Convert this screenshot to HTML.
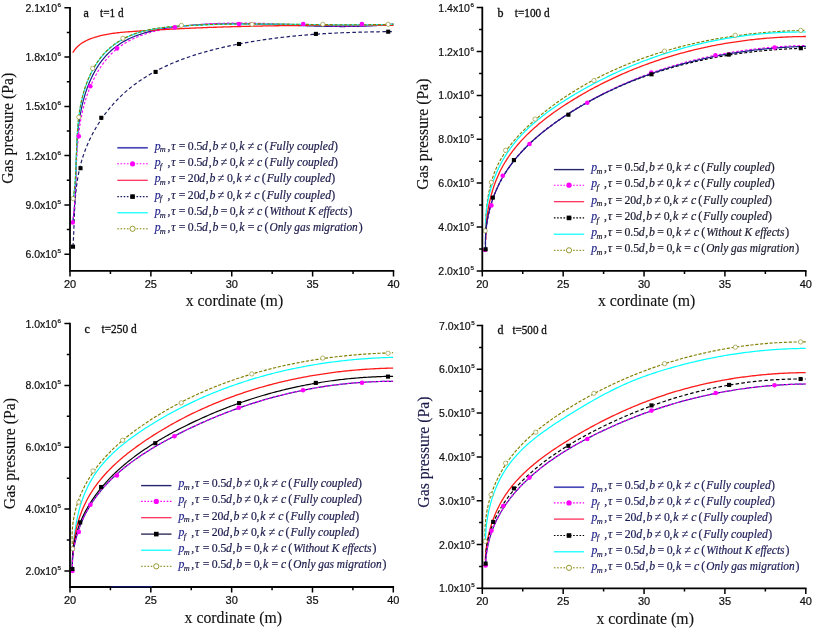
<!DOCTYPE html>
<html><head><meta charset="utf-8"><title>Gas pressure profiles</title>
<style>html,body{margin:0;padding:0;background:#fff;width:813px;height:629px;overflow:hidden}svg{display:block}</style>
</head><body>
<svg width="813" height="629" viewBox="0 0 813 629">
<rect width="813" height="629" fill="#fff"/>
<clipPath id="clipa"><rect x="70.0" y="1.7999999999999998" width="326.5" height="269.09999999999997"/></clipPath>
<g clip-path="url(#clipa)" fill="none" stroke-linejoin="round">
<path d="M73.00,246.69 L73.12,244.87 L73.23,243.04 L73.33,241.20 L73.43,239.35 L73.52,237.50 L73.60,235.65 L73.68,233.79 L73.76,231.92 L73.83,230.05 L73.90,228.17 L73.97,226.29 L74.03,224.41 L74.10,222.52 L74.17,220.64 L74.24,218.74 L74.32,216.85 L74.39,214.95 L74.48,213.06 L74.56,211.16 L74.65,209.26 L74.75,207.36 L74.86,205.45 L74.97,203.55 L75.10,201.65 L75.23,199.75 L75.37,197.85 L75.53,195.96 L75.70,194.06 L75.88,192.17 L76.07,190.28 L76.28,188.39 L76.51,186.50 L76.75,184.62 L77.01,182.74 L77.28,180.86 L77.57,178.99 L77.89,177.13 L78.22,175.27 L78.58,173.41 L78.95,171.56 L79.35,169.72 L79.78,167.88 L80.22,166.05 L80.69,164.23 L81.19,162.41 L81.71,160.61 L82.25,158.80 L82.81,157.01 L83.40,155.23 L84.01,153.45 L84.65,151.68 L85.31,149.92 L85.98,148.17 L86.69,146.43 L87.41,144.70 L88.16,142.98 L88.92,141.27 L89.71,139.57 L90.52,137.88 L91.35,136.20 L92.20,134.54 L93.08,132.88 L93.97,131.24 L94.88,129.60 L95.82,127.98 L96.77,126.37 L97.75,124.78 L98.74,123.20 L99.76,121.63 L100.79,120.07 L101.84,118.53 L102.91,117.00 L104.00,115.48 L105.11,113.98 L106.24,112.50 L107.38,111.03 L108.55,109.57 L109.73,108.13 L110.93,106.70 L112.14,105.29 L113.38,103.90 L114.63,102.52 L115.90,101.16 L117.18,99.82 L118.48,98.49 L119.80,97.18 L121.13,95.89 L122.48,94.62 L123.85,93.36 L125.23,92.12 L126.63,90.90 L128.04,89.70 L129.47,88.52 L130.92,87.35 L132.37,86.21 L133.85,85.08 L135.33,83.97 L136.83,82.88 L138.35,81.81 L139.87,80.75 L141.41,79.72 L142.97,78.70 L144.53,77.69 L146.11,76.71 L147.70,75.74 L149.30,74.78 L150.92,73.85 L152.54,72.92 L154.18,72.02 L155.82,71.13 L157.48,70.26 L159.15,69.40 L160.83,68.55 L162.51,67.73 L164.21,66.91 L165.92,66.11 L167.63,65.33 L169.35,64.56 L171.09,63.80 L172.83,63.06 L174.58,62.33 L176.33,61.62 L178.09,60.92 L179.86,60.23 L181.64,59.55 L183.42,58.89 L185.21,58.24 L187.01,57.61 L188.81,56.98 L190.62,56.37 L192.43,55.77 L194.25,55.18 L196.07,54.60 L197.90,54.03 L199.73,53.48 L201.57,52.93 L203.41,52.40 L205.25,51.87 L207.10,51.36 L208.95,50.86 L210.80,50.36 L212.65,49.88 L214.51,49.41 L216.37,48.94 L218.23,48.49 L220.09,48.04 L221.95,47.61 L223.81,47.18 L225.68,46.76 L227.54,46.35 L229.41,45.95 L231.27,45.55 L233.13,45.16 L235.00,44.78 L236.86,44.41 L238.72,44.05 L240.58,43.69 L242.44,43.34 L244.30,43.00 L246.15,42.66 L248.00,42.33 L249.86,42.00 L251.71,41.69 L253.56,41.38 L255.41,41.07 L257.26,40.77 L259.10,40.48 L260.95,40.20 L262.80,39.92 L264.64,39.64 L266.48,39.38 L268.33,39.12 L270.17,38.86 L272.01,38.61 L273.85,38.37 L275.70,38.13 L277.54,37.90 L279.38,37.67 L281.22,37.45 L283.06,37.23 L284.90,37.02 L286.74,36.82 L288.58,36.62 L290.42,36.42 L292.26,36.23 L294.10,36.05 L295.94,35.87 L297.78,35.69 L299.62,35.52 L301.46,35.36 L303.31,35.20 L305.15,35.04 L306.99,34.89 L308.84,34.74 L310.68,34.60 L312.53,34.46 L314.37,34.33 L316.22,34.20 L318.07,34.07 L319.92,33.95 L321.77,33.83 L323.62,33.72 L325.47,33.61 L327.33,33.50 L329.18,33.40 L331.04,33.30 L332.90,33.20 L334.76,33.11 L336.62,33.02 L338.48,32.94 L340.35,32.85 L342.22,32.77 L344.08,32.70 L345.95,32.63 L347.83,32.56 L349.70,32.49 L351.58,32.42 L353.46,32.36 L355.34,32.30 L357.22,32.25 L359.11,32.20 L360.99,32.15 L362.88,32.10 L364.78,32.05 L366.67,32.01 L368.57,31.97 L370.47,31.93 L372.37,31.89 L374.28,31.85 L376.19,31.82 L378.10,31.79 L380.02,31.76 L381.93,31.73 L383.86,31.71 L385.78,31.68 L387.71,31.66 L389.64,31.64 L391.57,31.62 L393.51,31.60" stroke="#1e1e66" stroke-width="1.2" stroke-dasharray="3.6,2.4"/>
<path d="M72.70,222.49 L72.97,220.59 L73.22,218.68 L73.46,216.77 L73.68,214.86 L73.88,212.94 L74.08,211.01 L74.25,209.08 L74.42,207.15 L74.57,205.22 L74.71,203.28 L74.84,201.34 L74.97,199.40 L75.08,197.45 L75.18,195.50 L75.27,193.55 L75.36,191.60 L75.44,189.64 L75.51,187.69 L75.58,185.73 L75.64,183.76 L75.70,181.80 L75.76,179.83 L75.81,177.87 L75.87,175.90 L75.92,173.93 L75.97,171.96 L76.01,169.99 L76.07,168.01 L76.12,166.04 L76.17,164.07 L76.23,162.09 L76.29,160.12 L76.35,158.14 L76.42,156.17 L76.50,154.19 L76.58,152.22 L76.66,150.25 L76.76,148.27 L76.86,146.30 L76.98,144.33 L77.10,142.36 L77.23,140.39 L77.37,138.42 L77.53,136.45 L77.70,134.48 L77.88,132.52 L78.07,130.55 L78.28,128.59 L78.50,126.63 L78.74,124.68 L79.00,122.72 L79.27,120.77 L79.56,118.82 L79.87,116.87 L80.20,114.93 L80.55,112.99 L80.92,111.05 L81.31,109.11 L81.72,107.18 L82.15,105.25 L82.61,103.32 L83.09,101.40 L83.60,99.48 L84.13,97.57 L84.69,95.66 L85.27,93.76 L85.88,91.87 L86.52,89.98 L87.19,88.11 L87.88,86.25 L88.60,84.40 L89.35,82.56 L90.13,80.74 L90.94,78.94 L91.77,77.15 L92.64,75.39 L93.54,73.64 L94.47,71.92 L95.44,70.22 L96.43,68.54 L97.46,66.89 L98.52,65.27 L99.61,63.68 L100.74,62.11 L101.90,60.58 L103.09,59.07 L104.33,57.60 L105.59,56.17 L106.89,54.77 L108.23,53.41 L109.59,52.08 L110.99,50.78 L112.43,49.53 L113.89,48.31 L115.38,47.13 L116.91,45.99 L118.46,44.89 L120.04,43.83 L121.65,42.81 L123.28,41.83 L124.94,40.89 L126.63,39.99 L128.34,39.12 L130.07,38.30 L131.82,37.51 L133.60,36.76 L135.40,36.04 L137.21,35.35 L139.04,34.70 L140.89,34.07 L142.76,33.48 L144.64,32.92 L146.53,32.38 L148.44,31.87 L150.36,31.38 L152.29,30.92 L154.23,30.48 L156.18,30.07 L158.13,29.67 L160.10,29.30 L162.07,28.94 L164.04,28.61 L166.02,28.29 L168.00,27.98 L169.98,27.69 L171.96,27.41 L173.94,27.15 L175.93,26.90 L177.91,26.65 L179.88,26.42 L181.86,26.20 L183.84,26.00 L185.82,25.80 L187.79,25.61 L189.76,25.43 L191.74,25.26 L193.71,25.11 L195.68,24.96 L197.65,24.82 L199.62,24.69 L201.59,24.57 L203.55,24.45 L205.52,24.35 L207.49,24.26 L209.45,24.17 L211.42,24.09 L213.38,24.02 L215.34,23.95 L217.30,23.90 L219.27,23.85 L221.23,23.80 L223.19,23.77 L225.15,23.74 L227.10,23.72 L229.06,23.70 L231.02,23.69 L232.98,23.68 L234.93,23.69 L236.89,23.69 L238.84,23.70 L240.80,23.72 L242.75,23.74 L244.71,23.77 L246.66,23.80 L248.62,23.83 L250.57,23.87 L252.52,23.91 L254.47,23.96 L256.43,24.00 L258.38,24.06 L260.33,24.11 L262.28,24.17 L264.23,24.23 L266.18,24.29 L268.13,24.36 L270.08,24.43 L272.03,24.50 L273.98,24.57 L275.93,24.64 L277.88,24.71 L279.83,24.79 L281.78,24.86 L283.73,24.94 L285.68,25.01 L287.63,25.09 L289.58,25.17 L291.53,25.24 L293.48,25.32 L295.43,25.40 L297.38,25.47 L299.33,25.54 L301.28,25.62 L303.23,25.69 L305.18,25.76 L307.14,25.83 L309.09,25.89 L311.04,25.96 L312.99,26.02 L314.94,26.08 L316.89,26.13 L318.85,26.19 L320.80,26.24 L322.75,26.28 L324.71,26.33 L326.66,26.37 L328.62,26.40 L330.57,26.44 L332.53,26.46 L334.48,26.49 L336.44,26.50 L338.40,26.52 L340.36,26.53 L342.31,26.53 L344.27,26.53 L346.23,26.52 L348.19,26.50 L350.15,26.48 L352.11,26.46 L354.08,26.42 L356.04,26.38 L358.00,26.34 L359.97,26.28 L361.93,26.22 L363.90,26.15 L365.87,26.08 L367.83,25.99 L369.80,25.90 L371.77,25.80 L373.74,25.69 L375.71,25.58 L377.69,25.45 L379.66,25.31 L381.63,25.17 L383.61,25.02 L385.58,24.85 L387.56,24.68 L389.54,24.49 L391.52,24.30 L393.50,24.10" stroke="#1c1c8a" stroke-width="1.2"/>
<path d="M72.70,222.50 L72.95,220.58 L73.19,218.67 L73.41,216.75 L73.62,214.83 L73.82,212.91 L74.00,210.98 L74.17,209.05 L74.34,207.12 L74.49,205.19 L74.63,203.26 L74.76,201.32 L74.89,199.38 L75.01,197.45 L75.12,195.50 L75.22,193.56 L75.32,191.62 L75.41,189.68 L75.50,187.73 L75.58,185.78 L75.66,183.83 L75.74,181.89 L75.82,179.94 L75.90,177.99 L75.97,176.04 L76.05,174.09 L76.12,172.13 L76.20,170.18 L76.28,168.23 L76.36,166.28 L76.45,164.33 L76.54,162.37 L76.63,160.42 L76.73,158.47 L76.84,156.52 L76.95,154.57 L77.07,152.62 L77.20,150.67 L77.33,148.72 L77.48,146.78 L77.63,144.83 L77.79,142.89 L77.97,140.94 L78.16,139.00 L78.36,137.06 L78.57,135.12 L78.80,133.18 L79.04,131.25 L79.30,129.31 L79.57,127.38 L79.85,125.45 L80.16,123.52 L80.48,121.59 L80.82,119.67 L81.18,117.75 L81.56,115.83 L81.96,113.91 L82.38,112.00 L82.82,110.09 L83.28,108.18 L83.77,106.28 L84.28,104.38 L84.81,102.48 L85.37,100.58 L85.96,98.69 L86.56,96.80 L87.20,94.92 L87.86,93.04 L88.55,91.18 L89.26,89.32 L90.00,87.47 L90.77,85.63 L91.56,83.81 L92.38,82.00 L93.23,80.21 L94.11,78.43 L95.01,76.67 L95.94,74.93 L96.90,73.21 L97.89,71.51 L98.90,69.83 L99.95,68.18 L101.02,66.55 L102.12,64.95 L103.25,63.38 L104.41,61.83 L105.60,60.32 L106.82,58.83 L108.07,57.38 L109.35,55.97 L110.66,54.58 L111.99,53.24 L113.36,51.93 L114.76,50.66 L116.19,49.43 L117.65,48.25 L119.15,47.10 L120.67,46.00 L122.22,44.93 L123.80,43.90 L125.40,42.92 L127.03,41.97 L128.69,41.05 L130.37,40.17 L132.07,39.33 L133.79,38.52 L135.54,37.74 L137.31,36.99 L139.09,36.28 L140.89,35.59 L142.71,34.94 L144.55,34.31 L146.40,33.71 L148.26,33.13 L150.14,32.58 L152.03,32.05 L153.93,31.55 L155.84,31.07 L157.76,30.61 L159.69,30.17 L161.62,29.76 L163.57,29.36 L165.51,28.97 L167.46,28.61 L169.42,28.26 L171.37,27.93 L173.33,27.61 L175.29,27.30 L177.25,27.01 L179.20,26.73 L181.16,26.46 L183.12,26.20 L185.07,25.96 L187.03,25.72 L188.98,25.50 L190.94,25.29 L192.89,25.09 L194.84,24.90 L196.80,24.72 L198.75,24.55 L200.70,24.39 L202.65,24.24 L204.61,24.10 L206.56,23.97 L208.51,23.85 L210.46,23.73 L212.41,23.63 L214.36,23.53 L216.31,23.45 L218.26,23.37 L220.21,23.30 L222.16,23.24 L224.11,23.18 L226.06,23.13 L228.01,23.09 L229.96,23.06 L231.90,23.03 L233.85,23.01 L235.80,23.00 L237.75,22.99 L239.69,22.99 L241.64,23.00 L243.59,23.01 L245.54,23.02 L247.48,23.04 L249.43,23.07 L251.37,23.10 L253.32,23.13 L255.27,23.17 L257.21,23.21 L259.16,23.26 L261.10,23.31 L263.05,23.36 L264.99,23.42 L266.94,23.48 L268.88,23.54 L270.83,23.61 L272.77,23.67 L274.72,23.74 L276.66,23.82 L278.61,23.89 L280.55,23.97 L282.50,24.04 L284.44,24.12 L286.39,24.20 L288.33,24.28 L290.28,24.36 L292.22,24.44 L294.17,24.52 L296.11,24.61 L298.05,24.69 L300.00,24.77 L301.94,24.85 L303.89,24.93 L305.83,25.00 L307.78,25.08 L309.72,25.16 L311.67,25.23 L313.61,25.30 L315.56,25.37 L317.50,25.44 L319.45,25.50 L321.39,25.57 L323.34,25.63 L325.28,25.68 L327.23,25.73 L329.17,25.78 L331.12,25.83 L333.07,25.87 L335.01,25.91 L336.96,25.94 L338.90,25.97 L340.85,25.99 L342.80,26.01 L344.75,26.03 L346.69,26.04 L348.64,26.04 L350.59,26.04 L352.53,26.03 L354.48,26.01 L356.43,25.99 L358.38,25.96 L360.33,25.93 L362.28,25.88 L364.23,25.84 L366.18,25.78 L368.13,25.71 L370.08,25.64 L372.03,25.56 L373.98,25.47 L375.93,25.38 L377.88,25.27 L379.83,25.16 L381.78,25.03 L383.73,24.90 L385.69,24.76 L387.64,24.61 L389.59,24.45 L391.55,24.27 L393.50,24.09" stroke="#ff00ff" stroke-width="1.1" stroke-dasharray="2.6,1.8"/>
<path d="M72.74,52.75 L73.48,51.52 L74.28,50.35 L75.11,49.25 L75.99,48.20 L76.91,47.21 L77.86,46.28 L78.86,45.40 L79.88,44.57 L80.94,43.78 L82.02,43.04 L83.13,42.34 L84.27,41.69 L85.43,41.07 L86.61,40.48 L87.81,39.93 L89.02,39.40 L90.25,38.91 L91.49,38.44 L92.75,37.99 L94.01,37.56 L95.28,37.15 L96.56,36.77 L97.84,36.40 L99.14,36.05 L100.44,35.72 L101.75,35.41 L103.06,35.11 L104.39,34.83 L105.72,34.56 L107.05,34.31 L108.39,34.08 L109.74,33.85 L111.09,33.64 L112.45,33.44 L113.81,33.26 L115.17,33.08 L116.54,32.91 L117.91,32.76 L119.29,32.61 L120.67,32.47 L122.05,32.34 L123.43,32.21 L124.81,32.09 L126.20,31.97 L127.59,31.86 L128.98,31.76 L130.36,31.66 L131.75,31.56 L133.14,31.46 L134.53,31.36 L135.92,31.27 L137.31,31.17 L138.70,31.08 L140.08,30.99 L141.47,30.90 L142.86,30.81 L144.24,30.72 L145.63,30.63 L147.01,30.54 L148.39,30.45 L149.78,30.37 L151.16,30.28 L152.54,30.20 L153.93,30.11 L155.31,30.03 L156.69,29.95 L158.07,29.87 L159.45,29.79 L160.83,29.71 L162.21,29.63 L163.59,29.56 L164.97,29.48 L166.34,29.40 L167.72,29.33 L169.10,29.26 L170.48,29.18 L171.85,29.11 L173.23,29.04 L174.60,28.97 L175.98,28.90 L177.35,28.83 L178.73,28.76 L180.10,28.70 L181.48,28.63 L182.85,28.57 L184.22,28.50 L185.60,28.44 L186.97,28.37 L188.34,28.31 L189.71,28.25 L191.08,28.19 L192.46,28.13 L193.83,28.07 L195.20,28.01 L196.57,27.95 L197.94,27.90 L199.31,27.84 L200.68,27.79 L202.05,27.73 L203.41,27.68 L204.78,27.62 L206.15,27.57 L207.52,27.52 L208.89,27.47 L210.25,27.42 L211.62,27.37 L212.99,27.32 L214.36,27.27 L215.72,27.23 L217.09,27.18 L218.45,27.13 L219.82,27.09 L221.19,27.04 L222.55,27.00 L223.92,26.96 L225.28,26.91 L226.65,26.87 L228.01,26.83 L229.38,26.79 L230.74,26.75 L232.11,26.71 L233.47,26.67 L234.83,26.63 L236.20,26.60 L237.56,26.56 L238.93,26.52 L240.29,26.49 L241.65,26.45 L243.02,26.42 L244.38,26.38 L245.74,26.35 L247.11,26.32 L248.47,26.29 L249.83,26.26 L251.19,26.22 L252.56,26.19 L253.92,26.16 L255.28,26.14 L256.64,26.11 L258.01,26.08 L259.37,26.05 L260.73,26.03 L262.09,26.00 L263.46,25.97 L264.82,25.95 L266.18,25.92 L267.54,25.90 L268.90,25.88 L270.27,25.85 L271.63,25.83 L272.99,25.81 L274.35,25.79 L275.71,25.77 L277.08,25.75 L278.44,25.73 L279.80,25.71 L281.16,25.69 L282.53,25.67 L283.89,25.65 L285.25,25.64 L286.61,25.62 L287.97,25.60 L289.34,25.59 L290.70,25.57 L292.06,25.55 L293.43,25.54 L294.79,25.53 L296.15,25.51 L297.51,25.50 L298.88,25.49 L300.24,25.47 L301.60,25.46 L302.97,25.45 L304.33,25.44 L305.70,25.43 L307.06,25.42 L308.42,25.41 L309.79,25.40 L311.15,25.39 L312.52,25.38 L313.88,25.37 L315.25,25.36 L316.61,25.36 L317.98,25.35 L319.34,25.34 L320.71,25.34 L322.07,25.33 L323.44,25.32 L324.81,25.32 L326.17,25.31 L327.54,25.31 L328.91,25.30 L330.27,25.30 L331.64,25.30 L333.01,25.29 L334.38,25.29 L335.74,25.29 L337.11,25.29 L338.48,25.28 L339.85,25.28 L341.22,25.28 L342.59,25.28 L343.96,25.28 L345.33,25.28 L346.70,25.28 L348.07,25.28 L349.44,25.28 L350.81,25.28 L352.18,25.28 L353.56,25.28 L354.93,25.28 L356.30,25.28 L357.67,25.28 L359.05,25.29 L360.42,25.29 L361.79,25.29 L363.17,25.29 L364.54,25.30 L365.92,25.30 L367.29,25.30 L368.67,25.31 L370.05,25.31 L371.42,25.32 L372.80,25.32 L374.18,25.32 L375.56,25.33 L376.93,25.33 L378.31,25.34 L379.69,25.34 L381.07,25.35 L382.45,25.35 L383.83,25.36 L385.21,25.37 L386.59,25.37 L387.97,25.38 L389.36,25.38 L390.74,25.39 L392.12,25.40 L393.51,25.40" stroke="#ff1a1a" stroke-width="1.3"/>
<path d="M73.09,199.49 L73.38,197.67 L73.65,195.86 L73.90,194.03 L74.13,192.20 L74.35,190.37 L74.55,188.53 L74.74,186.69 L74.91,184.84 L75.07,182.99 L75.22,181.14 L75.35,179.28 L75.48,177.42 L75.59,175.55 L75.70,173.69 L75.80,171.82 L75.89,169.94 L75.97,168.07 L76.05,166.19 L76.12,164.31 L76.19,162.43 L76.26,160.54 L76.32,158.66 L76.39,156.77 L76.45,154.88 L76.51,152.99 L76.57,151.10 L76.64,149.21 L76.71,147.32 L76.78,145.42 L76.85,143.53 L76.94,141.64 L77.02,139.74 L77.12,137.85 L77.22,135.96 L77.33,134.06 L77.45,132.17 L77.58,130.28 L77.72,128.39 L77.88,126.50 L78.04,124.61 L78.22,122.73 L78.42,120.84 L78.63,118.96 L78.85,117.08 L79.10,115.20 L79.36,113.33 L79.64,111.45 L79.94,109.58 L80.25,107.72 L80.60,105.85 L80.96,103.99 L81.34,102.13 L81.75,100.28 L82.19,98.43 L82.65,96.58 L83.13,94.74 L83.64,92.91 L84.18,91.09 L84.74,89.27 L85.33,87.46 L85.94,85.66 L86.58,83.88 L87.25,82.11 L87.95,80.35 L88.68,78.61 L89.43,76.88 L90.21,75.17 L91.03,73.48 L91.87,71.81 L92.74,70.16 L93.64,68.53 L94.57,66.92 L95.53,65.34 L96.52,63.78 L97.54,62.24 L98.59,60.74 L99.68,59.26 L100.79,57.81 L101.94,56.39 L103.12,55.00 L104.33,53.64 L105.58,52.32 L106.86,51.03 L108.17,49.77 L109.52,48.55 L110.90,47.37 L112.31,46.22 L113.76,45.11 L115.23,44.04 L116.73,43.00 L118.27,42.00 L119.82,41.04 L121.41,40.11 L123.01,39.21 L124.64,38.35 L126.30,37.53 L127.97,36.74 L129.66,35.98 L131.37,35.26 L133.10,34.58 L134.85,33.92 L136.61,33.31 L138.39,32.72 L140.17,32.17 L141.97,31.65 L143.79,31.17 L145.61,30.71 L147.44,30.28 L149.28,29.88 L151.14,29.51 L153.00,29.16 L154.86,28.83 L156.74,28.53 L158.62,28.25 L160.51,27.99 L162.40,27.74 L164.30,27.52 L166.20,27.31 L168.10,27.11 L170.01,26.93 L171.92,26.76 L173.83,26.60 L175.74,26.45 L177.65,26.31 L179.56,26.18 L181.47,26.05 L183.38,25.93 L185.29,25.81 L187.19,25.70 L189.09,25.59 L191.00,25.49 L192.90,25.39 L194.79,25.29 L196.69,25.20 L198.59,25.11 L200.48,25.03 L202.37,24.95 L204.27,24.87 L206.16,24.80 L208.04,24.73 L209.93,24.66 L211.82,24.60 L213.70,24.54 L215.59,24.49 L217.47,24.44 L219.35,24.39 L221.23,24.35 L223.11,24.30 L224.99,24.27 L226.87,24.23 L228.74,24.20 L230.62,24.17 L232.49,24.14 L234.37,24.12 L236.24,24.10 L238.11,24.08 L239.98,24.06 L241.85,24.05 L243.72,24.03 L245.59,24.02 L247.46,24.02 L249.33,24.01 L251.19,24.01 L253.06,24.01 L254.92,24.01 L256.79,24.01 L258.65,24.01 L260.52,24.02 L262.38,24.03 L264.24,24.04 L266.11,24.05 L267.97,24.06 L269.83,24.07 L271.69,24.09 L273.56,24.10 L275.42,24.12 L277.28,24.14 L279.14,24.16 L281.00,24.18 L282.86,24.20 L284.72,24.22 L286.58,24.24 L288.44,24.26 L290.30,24.29 L292.16,24.31 L294.02,24.34 L295.88,24.36 L297.75,24.38 L299.61,24.41 L301.47,24.43 L303.33,24.46 L305.19,24.48 L307.05,24.51 L308.91,24.53 L310.78,24.56 L312.64,24.58 L314.50,24.61 L316.37,24.63 L318.23,24.65 L320.09,24.67 L321.96,24.70 L323.83,24.72 L325.69,24.74 L327.56,24.76 L329.43,24.77 L331.29,24.79 L333.16,24.81 L335.03,24.82 L336.90,24.83 L338.77,24.85 L340.65,24.86 L342.52,24.87 L344.39,24.87 L346.27,24.88 L348.14,24.88 L350.02,24.89 L351.89,24.89 L353.77,24.89 L355.65,24.88 L357.53,24.88 L359.41,24.87 L361.30,24.86 L363.18,24.85 L365.07,24.83 L366.95,24.82 L368.84,24.80 L370.73,24.78 L372.62,24.75 L374.51,24.73 L376.40,24.70 L378.30,24.66 L380.19,24.63 L382.09,24.59 L383.99,24.55 L385.89,24.50 L387.79,24.46 L389.69,24.41 L391.60,24.35 L393.50,24.29" stroke="#00ffff" stroke-width="1.2"/>
<path d="M73.09,198.59 L73.38,196.78 L73.65,194.96 L73.91,193.14 L74.14,191.32 L74.36,189.49 L74.57,187.66 L74.75,185.82 L74.93,183.97 L75.09,182.13 L75.23,180.28 L75.37,178.42 L75.49,176.56 L75.61,174.70 L75.71,172.84 L75.81,170.97 L75.90,169.10 L75.98,167.23 L76.06,165.35 L76.13,163.47 L76.20,161.59 L76.26,159.71 L76.32,157.82 L76.39,155.94 L76.45,154.05 L76.51,152.16 L76.57,150.27 L76.63,148.38 L76.70,146.49 L76.77,144.60 L76.84,142.71 L76.92,140.81 L77.01,138.92 L77.10,137.03 L77.20,135.14 L77.31,133.24 L77.43,131.35 L77.56,129.46 L77.70,127.57 L77.85,125.69 L78.02,123.80 L78.20,121.92 L78.39,120.03 L78.60,118.15 L78.83,116.27 L79.07,114.40 L79.33,112.52 L79.61,110.65 L79.92,108.78 L80.24,106.92 L80.58,105.05 L80.95,103.19 L81.34,101.34 L81.75,99.49 L82.19,97.64 L82.65,95.79 L83.14,93.96 L83.65,92.13 L84.19,90.30 L84.76,88.49 L85.36,86.69 L85.98,84.90 L86.62,83.12 L87.30,81.35 L88.00,79.60 L88.74,77.87 L89.50,76.15 L90.28,74.45 L91.10,72.76 L91.95,71.10 L92.83,69.46 L93.73,67.84 L94.67,66.24 L95.64,64.66 L96.63,63.12 L97.66,61.59 L98.72,60.10 L99.82,58.63 L100.94,57.19 L102.09,55.78 L103.28,54.40 L104.50,53.06 L105.76,51.75 L107.04,50.47 L108.37,49.23 L109.72,48.02 L111.11,46.85 L112.53,45.72 L113.98,44.62 L115.46,43.56 L116.97,42.54 L118.50,41.55 L120.06,40.60 L121.65,39.68 L123.26,38.80 L124.90,37.95 L126.55,37.14 L128.23,36.36 L129.93,35.62 L131.64,34.91 L133.37,34.23 L135.12,33.59 L136.89,32.99 L138.66,32.41 L140.45,31.87 L142.25,31.36 L144.07,30.89 L145.89,30.44 L147.72,30.02 L149.57,29.63 L151.42,29.26 L153.28,28.92 L155.15,28.61 L157.02,28.31 L158.90,28.04 L160.79,27.78 L162.68,27.54 L164.58,27.32 L166.48,27.12 L168.38,26.93 L170.29,26.75 L172.20,26.59 L174.11,26.43 L176.02,26.29 L177.93,26.15 L179.84,26.02 L181.74,25.90 L183.65,25.78 L185.55,25.67 L187.46,25.55 L189.36,25.45 L191.26,25.35 L193.16,25.25 L195.05,25.16 L196.95,25.07 L198.84,24.98 L200.73,24.90 L202.62,24.82 L204.51,24.75 L206.40,24.68 L208.29,24.61 L210.17,24.55 L212.06,24.49 L213.94,24.43 L215.82,24.38 L217.70,24.33 L219.58,24.28 L221.46,24.24 L223.34,24.20 L225.21,24.16 L227.09,24.13 L228.96,24.10 L230.83,24.07 L232.71,24.04 L234.58,24.02 L236.45,24.00 L238.32,23.98 L240.18,23.96 L242.05,23.95 L243.92,23.94 L245.78,23.93 L247.65,23.92 L249.52,23.92 L251.38,23.92 L253.24,23.91 L255.11,23.92 L256.97,23.92 L258.83,23.92 L260.69,23.93 L262.55,23.94 L264.41,23.95 L266.27,23.96 L268.13,23.97 L269.99,23.98 L271.85,24.00 L273.71,24.01 L275.57,24.03 L277.43,24.05 L279.29,24.07 L281.14,24.09 L283.00,24.11 L284.86,24.13 L286.72,24.15 L288.58,24.17 L290.43,24.20 L292.29,24.22 L294.15,24.24 L296.01,24.27 L297.87,24.29 L299.72,24.32 L301.58,24.34 L303.44,24.37 L305.30,24.39 L307.16,24.42 L309.02,24.44 L310.88,24.46 L312.74,24.49 L314.60,24.51 L316.46,24.53 L318.32,24.56 L320.18,24.58 L322.05,24.60 L323.91,24.62 L325.77,24.64 L327.64,24.66 L329.50,24.67 L331.37,24.69 L333.23,24.71 L335.10,24.72 L336.97,24.73 L338.84,24.75 L340.71,24.76 L342.58,24.77 L344.45,24.77 L346.32,24.78 L348.19,24.78 L350.07,24.78 L351.94,24.78 L353.82,24.78 L355.69,24.78 L357.57,24.77 L359.45,24.77 L361.33,24.76 L363.21,24.75 L365.10,24.73 L366.98,24.71 L368.86,24.70 L370.75,24.67 L372.64,24.65 L374.53,24.62 L376.42,24.59 L378.31,24.56 L380.21,24.53 L382.10,24.49 L384.00,24.45 L385.89,24.40 L387.79,24.35 L389.70,24.30 L391.60,24.25 L393.50,24.19" stroke="#808000" stroke-width="1.15" stroke-dasharray="3.2,1.6"/>
</g>
<circle cx="73.1" cy="198.6" r="2.15" fill="#fff" stroke="#989838" stroke-width="0.7"/>
<circle cx="78.8" cy="117.2" r="2.15" fill="#fff" stroke="#989838" stroke-width="0.7"/>
<circle cx="92.7" cy="68.4" r="2.15" fill="#fff" stroke="#989838" stroke-width="0.7"/>
<circle cx="122.9" cy="38.3" r="2.15" fill="#fff" stroke="#989838" stroke-width="0.7"/>
<circle cx="181.4" cy="25.4" r="2.15" fill="#fff" stroke="#989838" stroke-width="0.7"/>
<circle cx="252" cy="24.3" r="2.15" fill="#fff" stroke="#989838" stroke-width="0.7"/>
<circle cx="322.8" cy="24.3" r="2.15" fill="#fff" stroke="#989838" stroke-width="0.7"/>
<circle cx="388.2" cy="24.3" r="2.15" fill="#fff" stroke="#989838" stroke-width="0.7"/>
<circle cx="72.7" cy="222.5" r="2.3" fill="#ff00ff"/>
<circle cx="78.8" cy="136.3" r="2.3" fill="#ff00ff"/>
<circle cx="90.3" cy="86.3" r="2.3" fill="#ff00ff"/>
<circle cx="117" cy="48.4" r="2.3" fill="#ff00ff"/>
<circle cx="174.8" cy="27.4" r="2.3" fill="#ff00ff"/>
<circle cx="239" cy="24.0" r="2.3" fill="#ff00ff"/>
<circle cx="303.2" cy="24.0" r="2.3" fill="#ff00ff"/>
<circle cx="361.9" cy="24.0" r="2.3" fill="#ff00ff"/>
<rect x="70.95" y="244.65" width="4.1" height="4.1" fill="#000"/>
<rect x="78.45" y="166.15" width="4.1" height="4.1" fill="#000"/>
<rect x="99.25" y="115.75" width="4.1" height="4.1" fill="#000"/>
<rect x="153.55" y="69.85" width="4.1" height="4.1" fill="#000"/>
<rect x="236.95" y="41.95" width="4.1" height="4.1" fill="#000"/>
<rect x="313.85" y="31.85" width="4.1" height="4.1" fill="#000"/>
<rect x="386.15" y="29.65" width="4.1" height="4.1" fill="#000"/>
<path d="M70.0,7.05 V270.9 H394.25" fill="none" stroke="#000" stroke-width="1.8"/>
<path d="M64.4,7.8 H70.0 M66.8,32.45 H70.0 M64.4,57.1 H70.0 M66.8,81.75 H70.0 M64.4,106.4 H70.0 M66.8,131.00 H70.0 M64.4,155.6 H70.0 M66.8,180.25 H70.0 M64.4,204.9 H70.0 M66.8,229.55 H70.0 M64.4,254.2 H70.0 M70.00,270.9 V276.5 M110.44,270.9 V274.09999999999997 M150.88,270.9 V276.5 M191.31,270.9 V274.09999999999997 M231.75,270.9 V276.5 M272.19,270.9 V274.09999999999997 M312.62,270.9 V276.5 M353.06,270.9 V274.09999999999997 M393.50,270.9 V276.5" stroke="#000" stroke-width="1.5" fill="none"/>
<text fill="#111" stroke="#111" stroke-width="0.22" x="57.00" y="11.80" text-anchor="end" font-family="'Liberation Sans', Arial, sans-serif" font-size="11" textLength="31.6" lengthAdjust="spacingAndGlyphs">2.1x10</text>
<text fill="#111" stroke="#111" stroke-width="0.22" x="57.60" y="6.80" font-family="'Liberation Sans', Arial, sans-serif" font-size="6.2">6</text>
<text fill="#111" stroke="#111" stroke-width="0.22" x="57.00" y="61.10" text-anchor="end" font-family="'Liberation Sans', Arial, sans-serif" font-size="11" textLength="31.6" lengthAdjust="spacingAndGlyphs">1.8x10</text>
<text fill="#111" stroke="#111" stroke-width="0.22" x="57.60" y="56.10" font-family="'Liberation Sans', Arial, sans-serif" font-size="6.2">6</text>
<text fill="#111" stroke="#111" stroke-width="0.22" x="57.00" y="110.40" text-anchor="end" font-family="'Liberation Sans', Arial, sans-serif" font-size="11" textLength="31.6" lengthAdjust="spacingAndGlyphs">1.5x10</text>
<text fill="#111" stroke="#111" stroke-width="0.22" x="57.60" y="105.40" font-family="'Liberation Sans', Arial, sans-serif" font-size="6.2">6</text>
<text fill="#111" stroke="#111" stroke-width="0.22" x="57.00" y="159.60" text-anchor="end" font-family="'Liberation Sans', Arial, sans-serif" font-size="11" textLength="31.6" lengthAdjust="spacingAndGlyphs">1.2x10</text>
<text fill="#111" stroke="#111" stroke-width="0.22" x="57.60" y="154.60" font-family="'Liberation Sans', Arial, sans-serif" font-size="6.2">6</text>
<text fill="#111" stroke="#111" stroke-width="0.22" x="57.00" y="208.90" text-anchor="end" font-family="'Liberation Sans', Arial, sans-serif" font-size="11" textLength="31.6" lengthAdjust="spacingAndGlyphs">9.0x10</text>
<text fill="#111" stroke="#111" stroke-width="0.22" x="57.60" y="203.90" font-family="'Liberation Sans', Arial, sans-serif" font-size="6.2">5</text>
<text fill="#111" stroke="#111" stroke-width="0.22" x="57.00" y="258.20" text-anchor="end" font-family="'Liberation Sans', Arial, sans-serif" font-size="11" textLength="31.6" lengthAdjust="spacingAndGlyphs">6.0x10</text>
<text fill="#111" stroke="#111" stroke-width="0.22" x="57.60" y="253.20" font-family="'Liberation Sans', Arial, sans-serif" font-size="6.2">5</text>
<text fill="#111" stroke="#111" stroke-width="0.22" x="70.00" y="287.80" text-anchor="middle" font-family="'Liberation Sans', Arial, sans-serif" font-size="11">20</text>
<text fill="#111" stroke="#111" stroke-width="0.22" x="150.88" y="287.80" text-anchor="middle" font-family="'Liberation Sans', Arial, sans-serif" font-size="11">25</text>
<text fill="#111" stroke="#111" stroke-width="0.22" x="231.75" y="287.80" text-anchor="middle" font-family="'Liberation Sans', Arial, sans-serif" font-size="11">30</text>
<text fill="#111" stroke="#111" stroke-width="0.22" x="312.62" y="287.80" text-anchor="middle" font-family="'Liberation Sans', Arial, sans-serif" font-size="11">35</text>
<text fill="#111" stroke="#111" stroke-width="0.22" x="393.50" y="287.80" text-anchor="middle" font-family="'Liberation Sans', Arial, sans-serif" font-size="11">40</text>
<text fill="#111" stroke="#111" stroke-width="0.12" transform="translate(12.9,128.3) rotate(-90)" text-anchor="middle" font-family="'Liberation Serif', 'Times New Roman', serif" font-size="15.75">Gas pressure (Pa)</text>
<text fill="#111" stroke="#111" stroke-width="0.12" x="234.45" y="306.2" text-anchor="middle" font-family="'Liberation Serif', 'Times New Roman', serif" font-size="16" textLength="97.4" lengthAdjust="spacingAndGlyphs">x cordinate (m)</text>
<text fill="#111" stroke="#111" stroke-width="0.32" x="83.4" y="17.0" font-family="'Liberation Serif', 'Times New Roman', serif" font-size="12">a</text>
<text fill="#111" stroke="#111" stroke-width="0.32" x="100.1" y="17.0" font-family="'Liberation Serif', 'Times New Roman', serif" font-size="12" textLength="23.5" lengthAdjust="spacingAndGlyphs">t=1 d</text>
<line x1="117.3" y1="147.8" x2="147.8" y2="147.8" stroke="#4a48b6" stroke-width="1.7"/>
<text y="149.50" font-family="'Liberation Serif', 'Times New Roman', serif" font-size="11.8" fill="#1c1c4c" stroke="#1c1c4c" stroke-width="0.2"><tspan x="154.66" font-style="italic" fill="#2a2a90" stroke="#2a2a90">p</tspan><tspan x="167.40">,</tspan><tspan x="171.15" font-style="italic">τ</tspan><tspan x="178.74">=</tspan><tspan x="187.77">0.5</tspan><tspan x="202.06" font-style="italic">d</tspan><tspan x="208.67">,</tspan><tspan x="212.40" font-style="italic">b</tspan><tspan x="220.63">≠</tspan><tspan x="229.87">0</tspan><tspan x="235.37">,</tspan><tspan x="239.18" font-style="italic">k</tspan><tspan x="247.63">≠</tspan><tspan x="257.05" font-style="italic">c</tspan><tspan x="264.46">(</tspan></text><text x="159.80" y="152.20" font-family="'Liberation Serif', 'Times New Roman', serif" font-size="8.2" font-style="italic" fill="#1c1c4c" stroke="#1c1c4c" stroke-width="0.2">m</text><text x="269.46" y="149.50" font-family="'Liberation Serif', 'Times New Roman', serif" font-size="11.8" font-style="italic" fill="#1c1c4c" stroke="#1c1c4c" stroke-width="0.2" textLength="64.40" lengthAdjust="spacingAndGlyphs">Fully coupled</text><text x="334.06" y="149.50" font-family="'Liberation Serif', 'Times New Roman', serif" font-size="11.8" fill="#1c1c4c" stroke="#1c1c4c" stroke-width="0.2">)</text>
<line x1="117.3" y1="163.8" x2="147.8" y2="163.8" stroke="#ff00ff" stroke-width="1.1" stroke-dasharray="1.6,1.6"/>
<circle cx="132.55" cy="163.8" r="2.6" fill="#ff00ff"/>
<text y="165.80" font-family="'Liberation Serif', 'Times New Roman', serif" font-size="11.8" fill="#1c1c4c" stroke="#1c1c4c" stroke-width="0.2"><tspan x="154.66" font-style="italic" fill="#2a2a90" stroke="#2a2a90">p</tspan><tspan x="167.40">,</tspan><tspan x="171.15" font-style="italic">τ</tspan><tspan x="178.74">=</tspan><tspan x="187.77">0.5</tspan><tspan x="202.06" font-style="italic">d</tspan><tspan x="208.67">,</tspan><tspan x="212.40" font-style="italic">b</tspan><tspan x="220.63">≠</tspan><tspan x="229.87">0</tspan><tspan x="235.37">,</tspan><tspan x="239.18" font-style="italic">k</tspan><tspan x="247.63">≠</tspan><tspan x="257.05" font-style="italic">c</tspan><tspan x="264.46">(</tspan></text><text x="159.80" y="168.50" font-family="'Liberation Serif', 'Times New Roman', serif" font-size="8.2" font-style="italic" fill="#1c1c4c" stroke="#1c1c4c" stroke-width="0.2">f</text><text x="269.46" y="165.80" font-family="'Liberation Serif', 'Times New Roman', serif" font-size="11.8" font-style="italic" fill="#1c1c4c" stroke="#1c1c4c" stroke-width="0.2" textLength="64.40" lengthAdjust="spacingAndGlyphs">Fully coupled</text><text x="334.06" y="165.80" font-family="'Liberation Serif', 'Times New Roman', serif" font-size="11.8" fill="#1c1c4c" stroke="#1c1c4c" stroke-width="0.2">)</text>
<line x1="117.3" y1="180.3" x2="147.8" y2="180.3" stroke="#ff2050" stroke-width="1.2"/>
<text y="182.30" font-family="'Liberation Serif', 'Times New Roman', serif" font-size="11.8" fill="#1c1c4c" stroke="#1c1c4c" stroke-width="0.2"><tspan x="154.66" font-style="italic" fill="#2a2a90" stroke="#2a2a90">p</tspan><tspan x="167.40">,</tspan><tspan x="171.15" font-style="italic">τ</tspan><tspan x="178.74">=</tspan><tspan x="187.77">20</tspan><tspan x="199.26" font-style="italic">d</tspan><tspan x="205.87">,</tspan><tspan x="209.60" font-style="italic">b</tspan><tspan x="217.83">≠</tspan><tspan x="227.07">0</tspan><tspan x="232.57">,</tspan><tspan x="236.38" font-style="italic">k</tspan><tspan x="244.83">≠</tspan><tspan x="254.25" font-style="italic">c</tspan><tspan x="261.66">(</tspan></text><text x="159.80" y="185.00" font-family="'Liberation Serif', 'Times New Roman', serif" font-size="8.2" font-style="italic" fill="#1c1c4c" stroke="#1c1c4c" stroke-width="0.2">m</text><text x="266.66" y="182.30" font-family="'Liberation Serif', 'Times New Roman', serif" font-size="11.8" font-style="italic" fill="#1c1c4c" stroke="#1c1c4c" stroke-width="0.2" textLength="64.40" lengthAdjust="spacingAndGlyphs">Fully coupled</text><text x="331.26" y="182.30" font-family="'Liberation Serif', 'Times New Roman', serif" font-size="11.8" fill="#1c1c4c" stroke="#1c1c4c" stroke-width="0.2">)</text>
<line x1="117.3" y1="196.6" x2="147.8" y2="196.6" stroke="#1e1e66" stroke-width="1.1" stroke-dasharray="1.6,1.6"/>
<rect x="130.25" y="194.29999999999998" width="4.6" height="4.6" fill="#000"/>
<text y="198.60" font-family="'Liberation Serif', 'Times New Roman', serif" font-size="11.8" fill="#1c1c4c" stroke="#1c1c4c" stroke-width="0.2"><tspan x="154.66" font-style="italic" fill="#2a2a90" stroke="#2a2a90">p</tspan><tspan x="167.40">,</tspan><tspan x="171.15" font-style="italic">τ</tspan><tspan x="178.74">=</tspan><tspan x="187.77">20</tspan><tspan x="199.26" font-style="italic">d</tspan><tspan x="205.87">,</tspan><tspan x="209.60" font-style="italic">b</tspan><tspan x="217.83">≠</tspan><tspan x="227.07">0</tspan><tspan x="232.57">,</tspan><tspan x="236.38" font-style="italic">k</tspan><tspan x="244.83">≠</tspan><tspan x="254.25" font-style="italic">c</tspan><tspan x="261.66">(</tspan></text><text x="159.80" y="201.30" font-family="'Liberation Serif', 'Times New Roman', serif" font-size="8.2" font-style="italic" fill="#1c1c4c" stroke="#1c1c4c" stroke-width="0.2">f</text><text x="266.66" y="198.60" font-family="'Liberation Serif', 'Times New Roman', serif" font-size="11.8" font-style="italic" fill="#1c1c4c" stroke="#1c1c4c" stroke-width="0.2" textLength="64.40" lengthAdjust="spacingAndGlyphs">Fully coupled</text><text x="331.26" y="198.60" font-family="'Liberation Serif', 'Times New Roman', serif" font-size="11.8" fill="#1c1c4c" stroke="#1c1c4c" stroke-width="0.2">)</text>
<line x1="117.3" y1="212.8" x2="147.8" y2="212.8" stroke="#00ffff" stroke-width="1.2"/>
<text y="214.80" font-family="'Liberation Serif', 'Times New Roman', serif" font-size="11.8" fill="#1c1c4c" stroke="#1c1c4c" stroke-width="0.2"><tspan x="154.66" font-style="italic" fill="#2a2a90" stroke="#2a2a90">p</tspan><tspan x="167.40">,</tspan><tspan x="171.15" font-style="italic">τ</tspan><tspan x="178.74">=</tspan><tspan x="187.77">0.5</tspan><tspan x="202.06" font-style="italic">d</tspan><tspan x="208.67">,</tspan><tspan x="212.40" font-style="italic">b</tspan><tspan x="220.63">=</tspan><tspan x="229.87">0</tspan><tspan x="235.37">,</tspan><tspan x="239.18" font-style="italic">k</tspan><tspan x="247.63">≠</tspan><tspan x="257.05" font-style="italic">c</tspan><tspan x="264.46">(</tspan></text><text x="159.80" y="217.50" font-family="'Liberation Serif', 'Times New Roman', serif" font-size="8.2" font-style="italic" fill="#1c1c4c" stroke="#1c1c4c" stroke-width="0.2">m</text><text x="269.46" y="214.80" font-family="'Liberation Serif', 'Times New Roman', serif" font-size="11.8" font-style="italic" fill="#1c1c4c" stroke="#1c1c4c" stroke-width="0.2" textLength="78.20" lengthAdjust="spacingAndGlyphs">Without K effects</text><text x="348.56" y="214.80" font-family="'Liberation Serif', 'Times New Roman', serif" font-size="11.8" fill="#1c1c4c" stroke="#1c1c4c" stroke-width="0.2">)</text>
<line x1="117.3" y1="228.8" x2="147.8" y2="228.8" stroke="#808000" stroke-width="1.0" stroke-dasharray="1.6,1.6"/>
<circle cx="132.55" cy="228.8" r="2.6" fill="#fff" stroke="#808000" stroke-width="0.8"/>
<text y="230.80" font-family="'Liberation Serif', 'Times New Roman', serif" font-size="11.8" fill="#1c1c4c" stroke="#1c1c4c" stroke-width="0.2"><tspan x="154.66" font-style="italic" fill="#2a2a90" stroke="#2a2a90">p</tspan><tspan x="167.40">,</tspan><tspan x="171.15" font-style="italic">τ</tspan><tspan x="178.74">=</tspan><tspan x="187.77">0.5</tspan><tspan x="202.06" font-style="italic">d</tspan><tspan x="208.67">,</tspan><tspan x="212.40" font-style="italic">b</tspan><tspan x="220.63">=</tspan><tspan x="229.87">0</tspan><tspan x="235.37">,</tspan><tspan x="239.18" font-style="italic">k</tspan><tspan x="247.63">=</tspan><tspan x="257.05" font-style="italic">c</tspan><tspan x="264.46">(</tspan></text><text x="159.80" y="233.50" font-family="'Liberation Serif', 'Times New Roman', serif" font-size="8.2" font-style="italic" fill="#1c1c4c" stroke="#1c1c4c" stroke-width="0.2">m</text><text x="269.46" y="230.80" font-family="'Liberation Serif', 'Times New Roman', serif" font-size="11.8" font-style="italic" fill="#1c1c4c" stroke="#1c1c4c" stroke-width="0.2" textLength="88.30" lengthAdjust="spacingAndGlyphs">Only gas migration</text><text x="358.66" y="230.80" font-family="'Liberation Serif', 'Times New Roman', serif" font-size="11.8" fill="#1c1c4c" stroke="#1c1c4c" stroke-width="0.2">)</text>
<clipPath id="clipb"><rect x="482.3" y="1.5999999999999996" width="326.49999999999994" height="269.29999999999995"/></clipPath>
<g clip-path="url(#clipb)" fill="none" stroke-linejoin="round">
<path d="M485.25,230.82 L485.29,229.09 L485.35,227.35 L485.41,225.60 L485.47,223.85 L485.55,222.09 L485.64,220.34 L485.74,218.57 L485.85,216.81 L485.98,215.04 L486.11,213.28 L486.26,211.51 L486.42,209.74 L486.60,207.97 L486.79,206.21 L487.00,204.44 L487.22,202.68 L487.46,200.92 L487.72,199.17 L487.99,197.41 L488.29,195.67 L488.60,193.93 L488.93,192.19 L489.28,190.46 L489.66,188.74 L490.05,187.03 L490.47,185.32 L490.91,183.62 L491.37,181.94 L491.86,180.26 L492.37,178.60 L492.91,176.94 L493.47,175.30 L494.06,173.67 L494.67,172.05 L495.31,170.45 L495.98,168.86 L496.68,167.29 L497.41,165.73 L498.16,164.19 L498.94,162.66 L499.75,161.15 L500.58,159.65 L501.44,158.16 L502.32,156.69 L503.23,155.23 L504.16,153.79 L505.11,152.36 L506.08,150.94 L507.08,149.53 L508.09,148.14 L509.13,146.76 L510.19,145.40 L511.26,144.04 L512.35,142.70 L513.46,141.37 L514.59,140.05 L515.73,138.74 L516.89,137.45 L518.07,136.16 L519.26,134.89 L520.46,133.62 L521.68,132.37 L522.91,131.13 L524.15,129.90 L525.40,128.68 L526.67,127.47 L527.94,126.26 L529.23,125.07 L530.52,123.89 L531.83,122.72 L533.14,121.55 L534.45,120.40 L535.78,119.25 L537.11,118.11 L538.45,116.98 L539.79,115.86 L541.14,114.75 L542.49,113.64 L543.85,112.54 L545.22,111.46 L546.59,110.38 L547.97,109.31 L549.36,108.24 L550.75,107.19 L552.14,106.14 L553.54,105.10 L554.95,104.08 L556.36,103.05 L557.78,102.04 L559.20,101.04 L560.63,100.04 L562.07,99.05 L563.51,98.07 L564.95,97.10 L566.40,96.13 L567.86,95.18 L569.32,94.23 L570.79,93.29 L572.26,92.35 L573.73,91.43 L575.21,90.51 L576.70,89.61 L578.19,88.70 L579.68,87.81 L581.18,86.93 L582.69,86.05 L584.20,85.18 L585.71,84.32 L587.23,83.46 L588.75,82.62 L590.28,81.78 L591.81,80.95 L593.35,80.13 L594.89,79.31 L596.43,78.50 L597.98,77.70 L599.54,76.91 L601.09,76.13 L602.66,75.35 L604.22,74.58 L605.79,73.82 L607.36,73.06 L608.94,72.31 L610.52,71.57 L612.11,70.84 L613.70,70.12 L615.29,69.40 L616.89,68.69 L618.49,67.99 L620.09,67.29 L621.70,66.60 L623.31,65.92 L624.92,65.25 L626.54,64.58 L628.16,63.92 L629.78,63.27 L631.41,62.62 L633.04,61.98 L634.68,61.35 L636.31,60.73 L637.95,60.11 L639.60,59.50 L641.24,58.90 L642.89,58.30 L644.54,57.71 L646.20,57.13 L647.85,56.56 L649.51,55.99 L651.18,55.43 L652.84,54.87 L654.51,54.33 L656.18,53.79 L657.85,53.25 L659.53,52.72 L661.20,52.20 L662.88,51.69 L664.57,51.18 L666.25,50.68 L667.94,50.19 L669.63,49.70 L671.32,49.22 L673.01,48.75 L674.71,48.28 L676.40,47.82 L678.10,47.37 L679.80,46.92 L681.51,46.48 L683.21,46.05 L684.92,45.62 L686.63,45.20 L688.34,44.78 L690.05,44.37 L691.76,43.97 L693.48,43.57 L695.19,43.18 L696.91,42.80 L698.63,42.42 L700.35,42.05 L702.07,41.69 L703.79,41.33 L705.51,40.98 L707.24,40.63 L708.96,40.29 L710.69,39.96 L712.42,39.63 L714.15,39.31 L715.88,38.99 L717.61,38.68 L719.34,38.38 L721.07,38.08 L722.80,37.79 L724.54,37.50 L726.27,37.22 L728.01,36.95 L729.74,36.68 L731.48,36.42 L733.21,36.16 L734.95,35.91 L736.69,35.67 L738.42,35.43 L740.16,35.20 L741.90,34.97 L743.64,34.75 L745.37,34.53 L747.11,34.32 L748.85,34.12 L750.59,33.92 L752.32,33.73 L754.06,33.54 L755.80,33.36 L757.54,33.18 L759.27,33.01 L761.01,32.84 L762.75,32.68 L764.48,32.53 L766.22,32.38 L767.95,32.23 L769.69,32.09 L771.42,31.96 L773.15,31.83 L774.88,31.71 L776.61,31.59 L778.35,31.48 L780.08,31.37 L781.80,31.27 L783.53,31.18 L785.26,31.09 L786.98,31.00 L788.71,30.92 L790.43,30.84 L792.15,30.77 L793.88,30.71 L795.60,30.65 L797.31,30.59 L799.03,30.54 L800.75,30.50 L802.46,30.46 L804.17,30.42 L805.89,30.39" stroke="#808000" stroke-width="1.15" stroke-dasharray="3.2,1.6"/>
<path d="M485.76,232.03 L485.69,230.23 L485.64,228.44 L485.62,226.64 L485.62,224.85 L485.64,223.06 L485.69,221.28 L485.77,219.49 L485.86,217.72 L485.98,215.94 L486.12,214.17 L486.29,212.41 L486.47,210.65 L486.68,208.89 L486.92,207.14 L487.17,205.40 L487.45,203.66 L487.75,201.92 L488.07,200.20 L488.42,198.48 L488.78,196.76 L489.17,195.05 L489.58,193.35 L490.01,191.66 L490.47,189.98 L490.94,188.30 L491.44,186.63 L491.95,184.97 L492.49,183.32 L493.05,181.67 L493.63,180.04 L494.23,178.41 L494.86,176.80 L495.50,175.19 L496.16,173.60 L496.85,172.01 L497.55,170.44 L498.27,168.88 L499.02,167.32 L499.78,165.78 L500.57,164.25 L501.37,162.73 L502.19,161.23 L503.04,159.73 L503.90,158.25 L504.78,156.78 L505.68,155.33 L506.60,153.89 L507.54,152.46 L508.50,151.04 L509.48,149.64 L510.47,148.25 L511.49,146.88 L512.52,145.52 L513.57,144.18 L514.64,142.84 L515.72,141.52 L516.82,140.22 L517.94,138.92 L519.07,137.64 L520.22,136.37 L521.38,135.12 L522.56,133.88 L523.75,132.64 L524.96,131.42 L526.18,130.22 L527.42,129.02 L528.66,127.83 L529.93,126.66 L531.20,125.50 L532.49,124.35 L533.79,123.20 L535.10,122.07 L536.42,120.95 L537.75,119.84 L539.10,118.75 L540.45,117.66 L541.82,116.58 L543.19,115.51 L544.57,114.44 L545.97,113.39 L547.37,112.35 L548.78,111.32 L550.20,110.29 L551.62,109.28 L553.06,108.27 L554.50,107.27 L555.95,106.28 L557.40,105.30 L558.86,104.32 L560.33,103.36 L561.80,102.40 L563.28,101.45 L564.76,100.50 L566.25,99.56 L567.74,98.63 L569.23,97.71 L570.73,96.79 L572.23,95.88 L573.74,94.97 L575.25,94.07 L576.76,93.18 L578.27,92.30 L579.79,91.42 L581.31,90.54 L582.83,89.68 L584.36,88.81 L585.89,87.96 L587.42,87.11 L588.95,86.27 L590.49,85.43 L592.03,84.60 L593.58,83.78 L595.12,82.97 L596.67,82.16 L598.22,81.35 L599.78,80.55 L601.33,79.76 L602.89,78.98 L604.45,78.20 L606.02,77.43 L607.59,76.66 L609.16,75.90 L610.73,75.15 L612.31,74.40 L613.88,73.66 L615.46,72.93 L617.05,72.20 L618.63,71.48 L620.22,70.77 L621.81,70.06 L623.40,69.36 L625.00,68.66 L626.60,67.97 L628.20,67.29 L629.80,66.61 L631.41,65.94 L633.01,65.28 L634.62,64.62 L636.23,63.97 L637.85,63.33 L639.47,62.69 L641.08,62.06 L642.71,61.43 L644.33,60.81 L645.95,60.20 L647.58,59.60 L649.21,59.00 L650.84,58.41 L652.48,57.82 L654.11,57.24 L655.75,56.67 L657.39,56.10 L659.03,55.54 L660.68,54.99 L662.33,54.44 L663.97,53.90 L665.62,53.36 L667.28,52.84 L668.93,52.32 L670.59,51.80 L672.25,51.29 L673.91,50.79 L675.57,50.30 L677.23,49.81 L678.90,49.33 L680.56,48.85 L682.23,48.38 L683.90,47.92 L685.58,47.46 L687.25,47.01 L688.93,46.57 L690.60,46.13 L692.28,45.70 L693.97,45.28 L695.65,44.86 L697.33,44.45 L699.02,44.05 L700.71,43.65 L702.40,43.26 L704.09,42.88 L705.78,42.50 L707.47,42.13 L709.17,41.77 L710.86,41.41 L712.56,41.06 L714.26,40.71 L715.96,40.38 L717.66,40.04 L719.37,39.72 L721.07,39.40 L722.78,39.09 L724.49,38.79 L726.20,38.49 L727.91,38.20 L729.62,37.91 L731.33,37.63 L733.05,37.36 L734.76,37.10 L736.48,36.84 L738.20,36.59 L739.91,36.34 L741.63,36.10 L743.35,35.87 L745.08,35.64 L746.80,35.43 L748.52,35.21 L750.25,35.01 L751.98,34.81 L753.70,34.62 L755.43,34.43 L757.16,34.26 L758.89,34.08 L760.62,33.92 L762.36,33.76 L764.09,33.61 L765.82,33.46 L767.56,33.33 L769.29,33.19 L771.03,33.07 L772.77,32.95 L774.50,32.84 L776.24,32.73 L777.98,32.64 L779.72,32.55 L781.46,32.46 L783.21,32.38 L784.95,32.31 L786.69,32.25 L788.44,32.19 L790.18,32.14 L791.92,32.10 L793.67,32.06 L795.42,32.03 L797.16,32.00 L798.91,31.99 L800.66,31.98 L802.40,31.97 L804.15,31.98 L805.90,31.99" stroke="#00ffff" stroke-width="1.2"/>
<path d="M485.74,240.02 L485.73,238.25 L485.75,236.48 L485.78,234.71 L485.83,232.93 L485.89,231.16 L485.97,229.38 L486.07,227.61 L486.19,225.83 L486.32,224.06 L486.48,222.28 L486.65,220.51 L486.83,218.74 L487.04,216.98 L487.26,215.21 L487.51,213.45 L487.77,211.69 L488.05,209.94 L488.35,208.19 L488.67,206.44 L489.00,204.70 L489.36,202.97 L489.74,201.24 L490.13,199.52 L490.55,197.80 L490.98,196.09 L491.43,194.39 L491.91,192.70 L492.40,191.01 L492.92,189.34 L493.45,187.67 L494.01,186.01 L494.58,184.36 L495.18,182.73 L495.80,181.10 L496.44,179.48 L497.10,177.88 L497.78,176.29 L498.48,174.70 L499.21,173.14 L499.95,171.58 L500.72,170.04 L501.51,168.51 L502.32,166.99 L503.15,165.49 L504.01,164.00 L504.88,162.53 L505.78,161.07 L506.69,159.62 L507.62,158.18 L508.58,156.76 L509.55,155.35 L510.54,153.95 L511.55,152.57 L512.57,151.19 L513.62,149.83 L514.68,148.48 L515.76,147.15 L516.86,145.82 L517.97,144.51 L519.10,143.21 L520.24,141.92 L521.40,140.64 L522.58,139.37 L523.77,138.11 L524.97,136.87 L526.19,135.63 L527.42,134.41 L528.67,133.20 L529.92,132.00 L531.20,130.81 L532.48,129.62 L533.78,128.45 L535.09,127.29 L536.41,126.14 L537.74,125.00 L539.08,123.87 L540.43,122.75 L541.79,121.64 L543.17,120.54 L544.55,119.45 L545.94,118.36 L547.34,117.29 L548.75,116.23 L550.17,115.17 L551.60,114.12 L553.03,113.09 L554.47,112.06 L555.92,111.04 L557.38,110.02 L558.84,109.02 L560.31,108.02 L561.78,107.04 L563.26,106.06 L564.75,105.08 L566.23,104.12 L567.73,103.16 L569.23,102.21 L570.73,101.27 L572.23,100.34 L573.74,99.41 L575.25,98.49 L576.77,97.58 L578.29,96.67 L579.81,95.77 L581.34,94.88 L582.86,94.00 L584.40,93.12 L585.93,92.25 L587.47,91.39 L589.01,90.53 L590.55,89.68 L592.10,88.84 L593.65,88.01 L595.20,87.18 L596.76,86.36 L598.32,85.55 L599.88,84.74 L601.44,83.94 L603.01,83.15 L604.58,82.36 L606.16,81.59 L607.73,80.81 L609.31,80.05 L610.89,79.29 L612.48,78.54 L614.07,77.80 L615.66,77.06 L617.25,76.34 L618.84,75.61 L620.44,74.90 L622.04,74.19 L623.65,73.49 L625.25,72.79 L626.86,72.11 L628.47,71.42 L630.09,70.75 L631.70,70.08 L633.32,69.42 L634.94,68.77 L636.57,68.12 L638.19,67.48 L639.82,66.85 L641.45,66.23 L643.09,65.61 L644.72,64.99 L646.36,64.39 L648.00,63.79 L649.65,63.20 L651.29,62.61 L652.94,62.03 L654.59,61.46 L656.24,60.90 L657.89,60.34 L659.55,59.79 L661.21,59.24 L662.87,58.70 L664.53,58.17 L666.19,57.65 L667.86,57.13 L669.53,56.62 L671.20,56.11 L672.87,55.62 L674.55,55.12 L676.22,54.64 L677.90,54.16 L679.58,53.69 L681.26,53.22 L682.95,52.77 L684.63,52.31 L686.32,51.87 L688.01,51.43 L689.70,51.00 L691.39,50.57 L693.09,50.15 L694.78,49.74 L696.48,49.33 L698.18,48.93 L699.88,48.54 L701.59,48.15 L703.29,47.77 L705.00,47.40 L706.70,47.03 L708.41,46.67 L710.12,46.32 L711.84,45.97 L713.55,45.63 L715.26,45.29 L716.98,44.97 L718.70,44.64 L720.42,44.33 L722.14,44.02 L723.86,43.72 L725.58,43.42 L727.31,43.13 L729.03,42.85 L730.76,42.57 L732.49,42.30 L734.22,42.03 L735.95,41.77 L737.68,41.52 L739.42,41.27 L741.15,41.03 L742.88,40.80 L744.62,40.57 L746.36,40.35 L748.10,40.14 L749.84,39.93 L751.58,39.73 L753.32,39.53 L755.06,39.34 L756.80,39.16 L758.55,38.98 L760.29,38.81 L762.04,38.65 L763.79,38.49 L765.53,38.33 L767.28,38.19 L769.03,38.05 L770.78,37.91 L772.53,37.78 L774.28,37.66 L776.03,37.55 L777.79,37.44 L779.54,37.33 L781.29,37.24 L783.05,37.14 L784.80,37.06 L786.56,36.98 L788.32,36.91 L790.07,36.84 L791.83,36.78 L793.59,36.72 L795.35,36.67 L797.11,36.63 L798.86,36.59 L800.62,36.56 L802.38,36.53 L804.14,36.52 L805.90,36.50" stroke="#ff1a1a" stroke-width="1.3"/>
<path d="M485.63,249.34 L485.55,247.52 L485.49,245.71 L485.46,243.91 L485.45,242.11 L485.46,240.31 L485.50,238.52 L485.56,236.73 L485.65,234.95 L485.76,233.17 L485.89,231.40 L486.05,229.63 L486.23,227.87 L486.43,226.11 L486.66,224.36 L486.91,222.62 L487.18,220.88 L487.48,219.15 L487.80,217.43 L488.14,215.71 L488.51,214.00 L488.89,212.30 L489.30,210.61 L489.73,208.92 L490.18,207.24 L490.66,205.57 L491.16,203.91 L491.67,202.26 L492.21,200.61 L492.77,198.98 L493.36,197.35 L493.96,195.74 L494.59,194.13 L495.23,192.53 L495.90,190.94 L496.58,189.37 L497.29,187.80 L498.02,186.24 L498.77,184.70 L499.54,183.16 L500.33,181.64 L501.13,180.13 L501.96,178.63 L502.81,177.14 L503.68,175.66 L504.56,174.20 L505.47,172.74 L506.39,171.30 L507.34,169.88 L508.30,168.46 L509.28,167.05 L510.28,165.66 L511.29,164.28 L512.32,162.91 L513.37,161.55 L514.43,160.20 L515.51,158.86 L516.61,157.53 L517.72,156.22 L518.85,154.92 L519.99,153.62 L521.15,152.34 L522.32,151.07 L523.50,149.81 L524.70,148.56 L525.91,147.32 L527.14,146.09 L528.38,144.87 L529.63,143.66 L530.89,142.46 L532.16,141.27 L533.45,140.09 L534.75,138.93 L536.06,137.77 L537.37,136.62 L538.70,135.48 L540.04,134.35 L541.39,133.23 L542.75,132.12 L544.12,131.02 L545.50,129.93 L546.88,128.84 L548.28,127.77 L549.68,126.70 L551.09,125.65 L552.51,124.60 L553.93,123.56 L555.36,122.53 L556.80,121.51 L558.24,120.50 L559.69,119.50 L561.15,118.50 L562.61,117.52 L564.08,116.54 L565.55,115.57 L567.02,114.61 L568.50,113.65 L569.98,112.71 L571.47,111.77 L572.96,110.84 L574.46,109.92 L575.95,109.00 L577.46,108.09 L578.96,107.20 L580.47,106.31 L581.99,105.42 L583.50,104.55 L585.02,103.68 L586.55,102.82 L588.08,101.97 L589.61,101.12 L591.14,100.29 L592.68,99.46 L594.22,98.64 L595.77,97.82 L597.32,97.02 L598.87,96.22 L600.42,95.42 L601.98,94.64 L603.54,93.86 L605.11,93.10 L606.68,92.33 L608.25,91.58 L609.83,90.83 L611.40,90.09 L612.98,89.36 L614.57,88.64 L616.16,87.92 L617.75,87.21 L619.34,86.51 L620.93,85.81 L622.53,85.12 L624.14,84.44 L625.74,83.77 L627.35,83.10 L628.96,82.44 L630.57,81.79 L632.19,81.14 L633.81,80.50 L635.43,79.87 L637.05,79.25 L638.68,78.63 L640.31,78.02 L641.94,77.41 L643.57,76.82 L645.21,76.23 L646.85,75.64 L648.49,75.07 L650.13,74.50 L651.78,73.93 L653.43,73.38 L655.08,72.83 L656.73,72.29 L658.39,71.75 L660.05,71.22 L661.71,70.70 L663.37,70.18 L665.03,69.67 L666.70,69.17 L668.37,68.67 L670.04,68.18 L671.71,67.70 L673.38,67.22 L675.06,66.75 L676.74,66.29 L678.42,65.83 L680.10,65.38 L681.79,64.94 L683.47,64.50 L685.16,64.07 L686.85,63.64 L688.54,63.22 L690.23,62.81 L691.93,62.40 L693.62,62.00 L695.32,61.61 L697.02,61.22 L698.72,60.84 L700.42,60.46 L702.13,60.09 L703.83,59.73 L705.54,59.37 L707.24,59.02 L708.95,58.67 L710.66,58.33 L712.38,58.00 L714.09,57.67 L715.80,57.35 L717.52,57.03 L719.24,56.72 L720.95,56.42 L722.67,56.12 L724.39,55.82 L726.11,55.54 L727.83,55.26 L729.56,54.98 L731.28,54.71 L733.01,54.45 L734.73,54.19 L736.46,53.94 L738.19,53.69 L739.92,53.45 L741.64,53.21 L743.37,52.98 L745.11,52.76 L746.84,52.54 L748.57,52.32 L750.30,52.11 L752.03,51.91 L753.77,51.71 L755.50,51.52 L757.24,51.33 L758.97,51.15 L760.71,50.98 L762.44,50.80 L764.18,50.64 L765.92,50.48 L767.65,50.32 L769.39,50.17 L771.13,50.03 L772.87,49.89 L774.61,49.75 L776.34,49.63 L778.08,49.50 L779.82,49.38 L781.56,49.27 L783.30,49.16 L785.04,49.05 L786.78,48.96 L788.52,48.86 L790.26,48.77 L791.99,48.69 L793.73,48.61 L795.47,48.53 L797.21,48.46 L798.95,48.40 L800.68,48.34 L802.42,48.28 L804.16,48.23 L805.90,48.19" stroke="#000" stroke-width="1.2" stroke-dasharray="3,2"/>
<path d="M485.63,249.33 L485.56,247.54 L485.52,245.75 L485.50,243.96 L485.50,242.17 L485.53,240.39 L485.58,238.61 L485.65,236.83 L485.75,235.06 L485.87,233.29 L486.01,231.52 L486.17,229.76 L486.36,228.00 L486.57,226.24 L486.80,224.49 L487.05,222.74 L487.32,221.00 L487.62,219.27 L487.94,217.54 L488.28,215.81 L488.64,214.10 L489.03,212.39 L489.43,210.68 L489.86,208.99 L490.31,207.30 L490.78,205.61 L491.28,203.94 L491.79,202.27 L492.32,200.62 L492.88,198.97 L493.46,197.33 L494.06,195.70 L494.68,194.08 L495.32,192.47 L495.98,190.87 L496.66,189.27 L497.36,187.69 L498.08,186.12 L498.83,184.57 L499.59,183.02 L500.38,181.48 L501.18,179.96 L502.01,178.45 L502.85,176.95 L503.72,175.47 L504.60,173.99 L505.51,172.53 L506.43,171.09 L507.37,169.65 L508.33,168.23 L509.31,166.82 L510.31,165.42 L511.33,164.03 L512.36,162.66 L513.41,161.30 L514.48,159.95 L515.56,158.61 L516.66,157.28 L517.78,155.97 L518.91,154.66 L520.05,153.37 L521.21,152.09 L522.39,150.82 L523.58,149.56 L524.78,148.31 L526.00,147.07 L527.23,145.84 L528.47,144.63 L529.73,143.42 L530.99,142.22 L532.27,141.04 L533.57,139.86 L534.87,138.70 L536.18,137.54 L537.51,136.39 L538.84,135.26 L540.19,134.13 L541.54,133.01 L542.91,131.90 L544.28,130.80 L545.67,129.71 L547.06,128.63 L548.46,127.56 L549.86,126.49 L551.28,125.44 L552.70,124.39 L554.13,123.36 L555.57,122.33 L557.01,121.30 L558.46,120.29 L559.91,119.29 L561.37,118.29 L562.83,117.30 L564.30,116.32 L565.77,115.34 L567.25,114.38 L568.73,113.42 L570.22,112.46 L571.71,111.52 L573.20,110.58 L574.69,109.65 L576.19,108.73 L577.69,107.81 L579.20,106.90 L580.71,106.00 L582.22,105.11 L583.74,104.22 L585.26,103.34 L586.78,102.47 L588.31,101.61 L589.84,100.75 L591.37,99.90 L592.91,99.05 L594.45,98.22 L595.99,97.39 L597.53,96.56 L599.08,95.75 L600.64,94.94 L602.19,94.14 L603.75,93.35 L605.31,92.56 L606.88,91.78 L608.44,91.01 L610.01,90.24 L611.59,89.48 L613.16,88.73 L614.74,87.98 L616.32,87.24 L617.91,86.51 L619.50,85.79 L621.09,85.07 L622.68,84.36 L624.28,83.66 L625.88,82.96 L627.48,82.27 L629.08,81.59 L630.69,80.91 L632.30,80.24 L633.91,79.58 L635.53,78.92 L637.14,78.27 L638.76,77.63 L640.39,77.00 L642.01,76.37 L643.64,75.74 L645.27,75.13 L646.90,74.52 L648.54,73.92 L650.17,73.32 L651.81,72.73 L653.46,72.15 L655.10,71.58 L656.75,71.01 L658.40,70.45 L660.05,69.89 L661.70,69.34 L663.35,68.80 L665.01,68.26 L666.67,67.73 L668.33,67.21 L670.00,66.70 L671.66,66.19 L673.33,65.68 L675.00,65.19 L676.67,64.70 L678.35,64.21 L680.02,63.74 L681.70,63.27 L683.38,62.80 L685.06,62.34 L686.74,61.89 L688.43,61.45 L690.12,61.01 L691.80,60.58 L693.49,60.15 L695.19,59.73 L696.88,59.32 L698.58,58.91 L700.27,58.51 L701.97,58.11 L703.67,57.73 L705.37,57.34 L707.08,56.97 L708.78,56.60 L710.49,56.24 L712.20,55.88 L713.90,55.53 L715.62,55.18 L717.33,54.85 L719.04,54.51 L720.76,54.19 L722.47,53.87 L724.19,53.55 L725.91,53.25 L727.63,52.94 L729.35,52.65 L731.07,52.36 L732.79,52.08 L734.52,51.80 L736.24,51.53 L737.97,51.26 L739.70,51.00 L741.43,50.75 L743.16,50.50 L744.89,50.26 L746.62,50.03 L748.35,49.80 L750.09,49.57 L751.82,49.36 L753.56,49.14 L755.29,48.94 L757.03,48.74 L758.77,48.55 L760.51,48.36 L762.25,48.17 L763.99,48.00 L765.73,47.83 L767.47,47.66 L769.21,47.50 L770.95,47.35 L772.70,47.20 L774.44,47.06 L776.19,46.93 L777.93,46.80 L779.68,46.67 L781.42,46.55 L783.17,46.44 L784.92,46.33 L786.66,46.23 L788.41,46.14 L790.16,46.05 L791.91,45.96 L793.66,45.88 L795.41,45.81 L797.15,45.74 L798.90,45.68 L800.65,45.62 L802.40,45.57 L804.15,45.53 L805.90,45.49" stroke="#ff00ff" stroke-width="1.1" stroke-dasharray="2.6,1.8"/>
<path d="M485.63,249.34 L485.55,247.53 L485.50,245.72 L485.46,243.92 L485.45,242.12 L485.47,240.32 L485.51,238.53 L485.57,236.74 L485.66,234.96 L485.77,233.18 L485.91,231.40 L486.06,229.63 L486.25,227.87 L486.45,226.11 L486.68,224.36 L486.93,222.61 L487.20,220.87 L487.50,219.14 L487.82,217.41 L488.16,215.69 L488.52,213.98 L488.91,212.27 L489.32,210.57 L489.75,208.88 L490.20,207.20 L490.68,205.53 L491.17,203.86 L491.69,202.20 L492.23,200.55 L492.79,198.91 L493.37,197.28 L493.98,195.66 L494.60,194.05 L495.25,192.45 L495.91,190.86 L496.60,189.28 L497.31,187.71 L498.04,186.15 L498.78,184.60 L499.55,183.06 L500.34,181.54 L501.15,180.02 L501.98,178.52 L502.83,177.03 L503.70,175.55 L504.59,174.09 L505.50,172.64 L506.42,171.20 L507.37,169.77 L508.33,168.35 L509.31,166.95 L510.31,165.56 L511.33,164.18 L512.36,162.81 L513.41,161.45 L514.48,160.11 L515.56,158.77 L516.66,157.45 L517.78,156.14 L518.91,154.84 L520.05,153.55 L521.21,152.27 L522.39,151.01 L523.57,149.75 L524.78,148.50 L525.99,147.27 L527.22,146.04 L528.46,144.83 L529.72,143.63 L530.98,142.43 L532.26,141.25 L533.55,140.07 L534.85,138.91 L536.16,137.76 L537.48,136.61 L538.82,135.48 L540.16,134.35 L541.51,133.24 L542.88,132.13 L544.25,131.03 L545.63,129.95 L547.02,128.87 L548.41,127.80 L549.82,126.73 L551.23,125.68 L552.65,124.64 L554.08,123.60 L555.51,122.58 L556.95,121.56 L558.40,120.55 L559.85,119.55 L561.31,118.55 L562.77,117.57 L564.24,116.59 L565.71,115.62 L567.19,114.65 L568.67,113.70 L570.15,112.75 L571.64,111.81 L573.14,110.88 L574.63,109.95 L576.13,109.04 L577.63,108.13 L579.14,107.22 L580.65,106.33 L582.16,105.44 L583.68,104.56 L585.20,103.69 L586.73,102.82 L588.25,101.96 L589.79,101.11 L591.32,100.27 L592.86,99.43 L594.40,98.60 L595.94,97.78 L597.49,96.97 L599.04,96.16 L600.60,95.36 L602.16,94.56 L603.72,93.78 L605.28,93.00 L606.85,92.23 L608.42,91.46 L609.99,90.71 L611.57,89.96 L613.15,89.21 L614.73,88.48 L616.32,87.75 L617.90,87.02 L619.50,86.31 L621.09,85.60 L622.69,84.90 L624.29,84.20 L625.89,83.52 L627.50,82.83 L629.10,82.16 L630.71,81.49 L632.33,80.83 L633.94,80.18 L635.56,79.53 L637.18,78.89 L638.81,78.26 L640.43,77.64 L642.06,77.02 L643.70,76.40 L645.33,75.80 L646.97,75.20 L648.60,74.61 L650.25,74.02 L651.89,73.44 L653.53,72.87 L655.18,72.30 L656.83,71.74 L658.49,71.19 L660.14,70.64 L661.80,70.10 L663.46,69.57 L665.12,69.04 L666.78,68.52 L668.45,68.01 L670.11,67.50 L671.78,67.00 L673.46,66.51 L675.13,66.02 L676.80,65.54 L678.48,65.06 L680.16,64.59 L681.84,64.13 L683.52,63.67 L685.21,63.22 L686.90,62.78 L688.58,62.34 L690.27,61.91 L691.96,61.49 L693.66,61.07 L695.35,60.66 L697.05,60.25 L698.75,59.85 L700.45,59.46 L702.15,59.07 L703.85,58.69 L705.55,58.31 L707.26,57.94 L708.96,57.58 L710.67,57.22 L712.38,56.87 L714.09,56.52 L715.80,56.18 L717.52,55.85 L719.23,55.52 L720.95,55.20 L722.66,54.89 L724.38,54.58 L726.10,54.27 L727.82,53.97 L729.54,53.68 L731.26,53.40 L732.99,53.12 L734.71,52.84 L736.44,52.57 L738.16,52.31 L739.89,52.05 L741.62,51.80 L743.35,51.56 L745.08,51.32 L746.81,51.08 L748.54,50.85 L750.27,50.63 L752.00,50.41 L753.73,50.20 L755.47,49.99 L757.20,49.79 L758.94,49.60 L760.67,49.41 L762.41,49.22 L764.14,49.05 L765.88,48.87 L767.62,48.71 L769.36,48.54 L771.10,48.39 L772.83,48.24 L774.57,48.09 L776.31,47.95 L778.05,47.82 L779.79,47.69 L781.53,47.56 L783.27,47.44 L785.01,47.33 L786.75,47.22 L788.49,47.12 L790.23,47.02 L791.97,46.93 L793.71,46.84 L795.45,46.76 L797.19,46.68 L798.94,46.61 L800.68,46.54 L802.42,46.48 L804.16,46.43 L805.90,46.38" stroke="#1c1c8a" stroke-width="1.2"/>
</g>
<circle cx="485.2" cy="230.8" r="2.15" fill="#fff" stroke="#989838" stroke-width="0.7"/>
<circle cx="491.4" cy="182.3" r="2.15" fill="#fff" stroke="#989838" stroke-width="0.7"/>
<circle cx="505.6" cy="150.3" r="2.15" fill="#fff" stroke="#989838" stroke-width="0.7"/>
<circle cx="535.1" cy="119.1" r="2.15" fill="#fff" stroke="#989838" stroke-width="0.7"/>
<circle cx="594" cy="80.6" r="2.15" fill="#fff" stroke="#989838" stroke-width="0.7"/>
<circle cx="664.5" cy="51.1" r="2.15" fill="#fff" stroke="#989838" stroke-width="0.7"/>
<circle cx="735.2" cy="35.3" r="2.15" fill="#fff" stroke="#989838" stroke-width="0.7"/>
<circle cx="800.8" cy="30.4" r="2.15" fill="#fff" stroke="#989838" stroke-width="0.7"/>
<circle cx="485.1" cy="250" r="2.3" fill="#ff00ff"/>
<circle cx="491.4" cy="205.4" r="2.3" fill="#ff00ff"/>
<circle cx="502.7" cy="175.7" r="2.3" fill="#ff00ff"/>
<circle cx="529.5" cy="144" r="2.3" fill="#ff00ff"/>
<circle cx="587.3" cy="102.8" r="2.3" fill="#ff00ff"/>
<circle cx="651.3" cy="72.6" r="2.3" fill="#ff00ff"/>
<circle cx="715.5" cy="55.3" r="2.3" fill="#ff00ff"/>
<circle cx="774.6" cy="47.6" r="2.3" fill="#ff00ff"/>
<rect x="483.55" y="247.25" width="4.1" height="4.1" fill="#000"/>
<rect x="490.75" y="195.55" width="4.1" height="4.1" fill="#000"/>
<rect x="511.85" y="158.05" width="4.1" height="4.1" fill="#000"/>
<rect x="566.35" y="112.65" width="4.1" height="4.1" fill="#000"/>
<rect x="649.45" y="72.25" width="4.1" height="4.1" fill="#000"/>
<rect x="726.65" y="52.55" width="4.1" height="4.1" fill="#000"/>
<rect x="798.75" y="46.15" width="4.1" height="4.1" fill="#000"/>
<path d="M482.3,6.85 V270.9 H806.55" fill="none" stroke="#000" stroke-width="1.8"/>
<path d="M476.7,7.6 H482.3 M479.1,29.55 H482.3 M476.7,51.5 H482.3 M479.1,73.45 H482.3 M476.7,95.4 H482.3 M479.1,117.30 H482.3 M476.7,139.2 H482.3 M479.1,161.15 H482.3 M476.7,183.1 H482.3 M479.1,205.05 H482.3 M476.7,227.0 H482.3 M479.1,248.95 H482.3 M476.7,270.9 H482.3 M482.30,270.9 V276.5 M522.74,270.9 V274.09999999999997 M563.17,270.9 V276.5 M603.61,270.9 V274.09999999999997 M644.05,270.9 V276.5 M684.49,270.9 V274.09999999999997 M724.92,270.9 V276.5 M765.36,270.9 V274.09999999999997 M805.80,270.9 V276.5" stroke="#000" stroke-width="1.5" fill="none"/>
<text fill="#111" stroke="#111" stroke-width="0.22" x="469.90" y="11.60" text-anchor="end" font-family="'Liberation Sans', Arial, sans-serif" font-size="11" textLength="31.6" lengthAdjust="spacingAndGlyphs">1.4x10</text>
<text fill="#111" stroke="#111" stroke-width="0.22" x="470.50" y="6.60" font-family="'Liberation Sans', Arial, sans-serif" font-size="6.2">6</text>
<text fill="#111" stroke="#111" stroke-width="0.22" x="469.90" y="55.50" text-anchor="end" font-family="'Liberation Sans', Arial, sans-serif" font-size="11" textLength="31.6" lengthAdjust="spacingAndGlyphs">1.2x10</text>
<text fill="#111" stroke="#111" stroke-width="0.22" x="470.50" y="50.50" font-family="'Liberation Sans', Arial, sans-serif" font-size="6.2">6</text>
<text fill="#111" stroke="#111" stroke-width="0.22" x="469.90" y="99.40" text-anchor="end" font-family="'Liberation Sans', Arial, sans-serif" font-size="11" textLength="31.6" lengthAdjust="spacingAndGlyphs">1.0x10</text>
<text fill="#111" stroke="#111" stroke-width="0.22" x="470.50" y="94.40" font-family="'Liberation Sans', Arial, sans-serif" font-size="6.2">6</text>
<text fill="#111" stroke="#111" stroke-width="0.22" x="469.90" y="143.20" text-anchor="end" font-family="'Liberation Sans', Arial, sans-serif" font-size="11" textLength="31.6" lengthAdjust="spacingAndGlyphs">8.0x10</text>
<text fill="#111" stroke="#111" stroke-width="0.22" x="470.50" y="138.20" font-family="'Liberation Sans', Arial, sans-serif" font-size="6.2">5</text>
<text fill="#111" stroke="#111" stroke-width="0.22" x="469.90" y="187.10" text-anchor="end" font-family="'Liberation Sans', Arial, sans-serif" font-size="11" textLength="31.6" lengthAdjust="spacingAndGlyphs">6.0x10</text>
<text fill="#111" stroke="#111" stroke-width="0.22" x="470.50" y="182.10" font-family="'Liberation Sans', Arial, sans-serif" font-size="6.2">5</text>
<text fill="#111" stroke="#111" stroke-width="0.22" x="469.90" y="231.00" text-anchor="end" font-family="'Liberation Sans', Arial, sans-serif" font-size="11" textLength="31.6" lengthAdjust="spacingAndGlyphs">4.0x10</text>
<text fill="#111" stroke="#111" stroke-width="0.22" x="470.50" y="226.00" font-family="'Liberation Sans', Arial, sans-serif" font-size="6.2">5</text>
<text fill="#111" stroke="#111" stroke-width="0.22" x="469.90" y="274.90" text-anchor="end" font-family="'Liberation Sans', Arial, sans-serif" font-size="11" textLength="31.6" lengthAdjust="spacingAndGlyphs">2.0x10</text>
<text fill="#111" stroke="#111" stroke-width="0.22" x="470.50" y="269.90" font-family="'Liberation Sans', Arial, sans-serif" font-size="6.2">5</text>
<text fill="#111" stroke="#111" stroke-width="0.22" x="482.30" y="287.80" text-anchor="middle" font-family="'Liberation Sans', Arial, sans-serif" font-size="11">20</text>
<text fill="#111" stroke="#111" stroke-width="0.22" x="563.17" y="287.80" text-anchor="middle" font-family="'Liberation Sans', Arial, sans-serif" font-size="11">25</text>
<text fill="#111" stroke="#111" stroke-width="0.22" x="644.05" y="287.80" text-anchor="middle" font-family="'Liberation Sans', Arial, sans-serif" font-size="11">30</text>
<text fill="#111" stroke="#111" stroke-width="0.22" x="724.92" y="287.80" text-anchor="middle" font-family="'Liberation Sans', Arial, sans-serif" font-size="11">35</text>
<text fill="#111" stroke="#111" stroke-width="0.22" x="805.80" y="287.80" text-anchor="middle" font-family="'Liberation Sans', Arial, sans-serif" font-size="11">40</text>
<text fill="#111" stroke="#111" stroke-width="0.12" transform="translate(427.7,134.1) rotate(-90)" text-anchor="middle" font-family="'Liberation Serif', 'Times New Roman', serif" font-size="15.75">Gas pressure (Pa)</text>
<text fill="#111" stroke="#111" stroke-width="0.12" x="646.65" y="305.6" text-anchor="middle" font-family="'Liberation Serif', 'Times New Roman', serif" font-size="16" textLength="97.4" lengthAdjust="spacingAndGlyphs">x cordinate (m)</text>
<text fill="#111" stroke="#111" stroke-width="0.32" x="497.59999999999997" y="16.6" font-family="'Liberation Serif', 'Times New Roman', serif" font-size="12">b</text>
<text fill="#111" stroke="#111" stroke-width="0.32" x="514.8" y="16.6" font-family="'Liberation Serif', 'Times New Roman', serif" font-size="12" textLength="34.9" lengthAdjust="spacingAndGlyphs">t=100 d</text>
<line x1="553.9" y1="169.60000000000002" x2="584.1" y2="169.60000000000002" stroke="#26266e" stroke-width="1.4"/>
<text y="171.30" font-family="'Liberation Serif', 'Times New Roman', serif" font-size="11.8" fill="#1a1a30" stroke="#1a1a30" stroke-width="0.2"><tspan x="591.36" font-style="italic" fill="#2a2a90" stroke="#2a2a90">p</tspan><tspan x="604.10">,</tspan><tspan x="607.85" font-style="italic">τ</tspan><tspan x="615.44">=</tspan><tspan x="624.47">0.5</tspan><tspan x="638.76" font-style="italic">d</tspan><tspan x="645.37">,</tspan><tspan x="649.10" font-style="italic">b</tspan><tspan x="657.33">≠</tspan><tspan x="666.57">0</tspan><tspan x="672.07">,</tspan><tspan x="675.88" font-style="italic">k</tspan><tspan x="684.33">≠</tspan><tspan x="693.75" font-style="italic">c</tspan><tspan x="701.16">(</tspan></text><text x="596.50" y="174.00" font-family="'Liberation Serif', 'Times New Roman', serif" font-size="8.2" font-style="italic" fill="#1a1a30" stroke="#1a1a30" stroke-width="0.2">m</text><text x="706.16" y="171.30" font-family="'Liberation Serif', 'Times New Roman', serif" font-size="11.8" font-style="italic" fill="#1a1a30" stroke="#1a1a30" stroke-width="0.2" textLength="64.40" lengthAdjust="spacingAndGlyphs">Fully coupled</text><text x="770.76" y="171.30" font-family="'Liberation Serif', 'Times New Roman', serif" font-size="11.8" fill="#1a1a30" stroke="#1a1a30" stroke-width="0.2">)</text>
<line x1="553.9" y1="185.2" x2="584.1" y2="185.2" stroke="#ff00ff" stroke-width="1.1" stroke-dasharray="1.6,1.6"/>
<circle cx="569.0" cy="185.2" r="2.6" fill="#ff00ff"/>
<text y="187.20" font-family="'Liberation Serif', 'Times New Roman', serif" font-size="11.8" fill="#1a1a30" stroke="#1a1a30" stroke-width="0.2"><tspan x="591.36" font-style="italic" fill="#2a2a90" stroke="#2a2a90">p</tspan><tspan x="604.10">,</tspan><tspan x="607.85" font-style="italic">τ</tspan><tspan x="615.44">=</tspan><tspan x="624.47">0.5</tspan><tspan x="638.76" font-style="italic">d</tspan><tspan x="645.37">,</tspan><tspan x="649.10" font-style="italic">b</tspan><tspan x="657.33">≠</tspan><tspan x="666.57">0</tspan><tspan x="672.07">,</tspan><tspan x="675.88" font-style="italic">k</tspan><tspan x="684.33">≠</tspan><tspan x="693.75" font-style="italic">c</tspan><tspan x="701.16">(</tspan></text><text x="596.50" y="189.90" font-family="'Liberation Serif', 'Times New Roman', serif" font-size="8.2" font-style="italic" fill="#1a1a30" stroke="#1a1a30" stroke-width="0.2">f</text><text x="706.16" y="187.20" font-family="'Liberation Serif', 'Times New Roman', serif" font-size="11.8" font-style="italic" fill="#1a1a30" stroke="#1a1a30" stroke-width="0.2" textLength="64.40" lengthAdjust="spacingAndGlyphs">Fully coupled</text><text x="770.76" y="187.20" font-family="'Liberation Serif', 'Times New Roman', serif" font-size="11.8" fill="#1a1a30" stroke="#1a1a30" stroke-width="0.2">)</text>
<line x1="553.9" y1="201.7" x2="584.1" y2="201.7" stroke="#ff2050" stroke-width="1.2"/>
<text y="203.70" font-family="'Liberation Serif', 'Times New Roman', serif" font-size="11.8" fill="#1a1a30" stroke="#1a1a30" stroke-width="0.2"><tspan x="591.36" font-style="italic" fill="#2a2a90" stroke="#2a2a90">p</tspan><tspan x="604.10">,</tspan><tspan x="607.85" font-style="italic">τ</tspan><tspan x="615.44">=</tspan><tspan x="624.47">20</tspan><tspan x="635.96" font-style="italic">d</tspan><tspan x="642.57">,</tspan><tspan x="646.30" font-style="italic">b</tspan><tspan x="654.53">≠</tspan><tspan x="663.77">0</tspan><tspan x="669.27">,</tspan><tspan x="673.08" font-style="italic">k</tspan><tspan x="681.53">≠</tspan><tspan x="690.95" font-style="italic">c</tspan><tspan x="698.36">(</tspan></text><text x="596.50" y="206.40" font-family="'Liberation Serif', 'Times New Roman', serif" font-size="8.2" font-style="italic" fill="#1a1a30" stroke="#1a1a30" stroke-width="0.2">m</text><text x="703.36" y="203.70" font-family="'Liberation Serif', 'Times New Roman', serif" font-size="11.8" font-style="italic" fill="#1a1a30" stroke="#1a1a30" stroke-width="0.2" textLength="64.40" lengthAdjust="spacingAndGlyphs">Fully coupled</text><text x="767.96" y="203.70" font-family="'Liberation Serif', 'Times New Roman', serif" font-size="11.8" fill="#1a1a30" stroke="#1a1a30" stroke-width="0.2">)</text>
<line x1="553.9" y1="217.9" x2="584.1" y2="217.9" stroke="#000" stroke-width="1.1" stroke-dasharray="1.6,1.6"/>
<rect x="566.7" y="215.6" width="4.6" height="4.6" fill="#000"/>
<text y="219.90" font-family="'Liberation Serif', 'Times New Roman', serif" font-size="11.8" fill="#1a1a30" stroke="#1a1a30" stroke-width="0.2"><tspan x="591.36" font-style="italic" fill="#2a2a90" stroke="#2a2a90">p</tspan><tspan x="604.10">,</tspan><tspan x="607.85" font-style="italic">τ</tspan><tspan x="615.44">=</tspan><tspan x="624.47">20</tspan><tspan x="635.96" font-style="italic">d</tspan><tspan x="642.57">,</tspan><tspan x="646.30" font-style="italic">b</tspan><tspan x="654.53">≠</tspan><tspan x="663.77">0</tspan><tspan x="669.27">,</tspan><tspan x="673.08" font-style="italic">k</tspan><tspan x="681.53">≠</tspan><tspan x="690.95" font-style="italic">c</tspan><tspan x="698.36">(</tspan></text><text x="596.50" y="222.60" font-family="'Liberation Serif', 'Times New Roman', serif" font-size="8.2" font-style="italic" fill="#1a1a30" stroke="#1a1a30" stroke-width="0.2">f</text><text x="703.36" y="219.90" font-family="'Liberation Serif', 'Times New Roman', serif" font-size="11.8" font-style="italic" fill="#1a1a30" stroke="#1a1a30" stroke-width="0.2" textLength="64.40" lengthAdjust="spacingAndGlyphs">Fully coupled</text><text x="767.96" y="219.90" font-family="'Liberation Serif', 'Times New Roman', serif" font-size="11.8" fill="#1a1a30" stroke="#1a1a30" stroke-width="0.2">)</text>
<line x1="553.9" y1="234.2" x2="584.1" y2="234.2" stroke="#00ffff" stroke-width="1.2"/>
<text y="236.20" font-family="'Liberation Serif', 'Times New Roman', serif" font-size="11.8" fill="#1a1a30" stroke="#1a1a30" stroke-width="0.2"><tspan x="591.36" font-style="italic" fill="#2a2a90" stroke="#2a2a90">p</tspan><tspan x="604.10">,</tspan><tspan x="607.85" font-style="italic">τ</tspan><tspan x="615.44">=</tspan><tspan x="624.47">0.5</tspan><tspan x="638.76" font-style="italic">d</tspan><tspan x="645.37">,</tspan><tspan x="649.10" font-style="italic">b</tspan><tspan x="657.33">=</tspan><tspan x="666.57">0</tspan><tspan x="672.07">,</tspan><tspan x="675.88" font-style="italic">k</tspan><tspan x="684.33">≠</tspan><tspan x="693.75" font-style="italic">c</tspan><tspan x="701.16">(</tspan></text><text x="596.50" y="238.90" font-family="'Liberation Serif', 'Times New Roman', serif" font-size="8.2" font-style="italic" fill="#1a1a30" stroke="#1a1a30" stroke-width="0.2">m</text><text x="706.16" y="236.20" font-family="'Liberation Serif', 'Times New Roman', serif" font-size="11.8" font-style="italic" fill="#1a1a30" stroke="#1a1a30" stroke-width="0.2" textLength="78.20" lengthAdjust="spacingAndGlyphs">Without K effects</text><text x="785.26" y="236.20" font-family="'Liberation Serif', 'Times New Roman', serif" font-size="11.8" fill="#1a1a30" stroke="#1a1a30" stroke-width="0.2">)</text>
<line x1="553.9" y1="250.3" x2="584.1" y2="250.3" stroke="#808000" stroke-width="1.0" stroke-dasharray="1.6,1.6"/>
<circle cx="569.0" cy="250.3" r="2.6" fill="#fff" stroke="#808000" stroke-width="0.8"/>
<text y="252.30" font-family="'Liberation Serif', 'Times New Roman', serif" font-size="11.8" fill="#1a1a30" stroke="#1a1a30" stroke-width="0.2"><tspan x="591.36" font-style="italic" fill="#2a2a90" stroke="#2a2a90">p</tspan><tspan x="604.10">,</tspan><tspan x="607.85" font-style="italic">τ</tspan><tspan x="615.44">=</tspan><tspan x="624.47">0.5</tspan><tspan x="638.76" font-style="italic">d</tspan><tspan x="645.37">,</tspan><tspan x="649.10" font-style="italic">b</tspan><tspan x="657.33">=</tspan><tspan x="666.57">0</tspan><tspan x="672.07">,</tspan><tspan x="675.88" font-style="italic">k</tspan><tspan x="684.33">=</tspan><tspan x="693.75" font-style="italic">c</tspan><tspan x="701.16">(</tspan></text><text x="596.50" y="255.00" font-family="'Liberation Serif', 'Times New Roman', serif" font-size="8.2" font-style="italic" fill="#1a1a30" stroke="#1a1a30" stroke-width="0.2">m</text><text x="706.16" y="252.30" font-family="'Liberation Serif', 'Times New Roman', serif" font-size="11.8" font-style="italic" fill="#1a1a30" stroke="#1a1a30" stroke-width="0.2" textLength="88.30" lengthAdjust="spacingAndGlyphs">Only gas migration</text><text x="795.36" y="252.30" font-family="'Liberation Serif', 'Times New Roman', serif" font-size="11.8" fill="#1a1a30" stroke="#1a1a30" stroke-width="0.2">)</text>
<clipPath id="clipc"><rect x="70.0" y="317.6" width="326.3" height="269.4"/></clipPath>
<g clip-path="url(#clipc)" fill="none" stroke-linejoin="round">
<path d="M72.70,548.82 L72.52,546.95 L72.37,545.08 L72.26,543.23 L72.17,541.38 L72.11,539.55 L72.09,537.72 L72.09,535.90 L72.12,534.10 L72.19,532.30 L72.28,530.51 L72.40,528.73 L72.55,526.96 L72.73,525.20 L72.93,523.45 L73.17,521.71 L73.43,519.98 L73.72,518.26 L74.03,516.55 L74.38,514.85 L74.74,513.16 L75.14,511.48 L75.56,509.81 L76.00,508.15 L76.47,506.50 L76.97,504.86 L77.49,503.23 L78.03,501.61 L78.60,500.01 L79.19,498.41 L79.80,496.82 L80.44,495.25 L81.10,493.69 L81.78,492.13 L82.49,490.59 L83.21,489.06 L83.96,487.54 L84.73,486.03 L85.52,484.54 L86.33,483.05 L87.16,481.57 L88.01,480.11 L88.88,478.66 L89.77,477.22 L90.68,475.79 L91.61,474.38 L92.55,472.97 L93.52,471.58 L94.50,470.20 L95.50,468.83 L96.52,467.47 L97.55,466.12 L98.60,464.79 L99.67,463.47 L100.75,462.15 L101.85,460.85 L102.97,459.56 L104.10,458.29 L105.24,457.02 L106.40,455.76 L107.57,454.52 L108.76,453.28 L109.96,452.06 L111.18,450.84 L112.40,449.64 L113.64,448.45 L114.89,447.26 L116.16,446.09 L117.43,444.93 L118.72,443.78 L120.02,442.63 L121.33,441.50 L122.65,440.38 L123.98,439.26 L125.32,438.16 L126.67,437.06 L128.02,435.98 L129.39,434.90 L130.77,433.83 L132.15,432.77 L133.54,431.72 L134.94,430.68 L136.35,429.65 L137.76,428.63 L139.18,427.61 L140.61,426.60 L142.05,425.60 L143.48,424.61 L144.93,423.63 L146.38,422.66 L147.83,421.69 L149.29,420.73 L150.76,419.78 L152.22,418.84 L153.70,417.91 L155.17,416.98 L156.65,416.06 L158.14,415.15 L159.62,414.24 L161.12,413.35 L162.61,412.46 L164.11,411.58 L165.61,410.70 L167.12,409.83 L168.63,408.98 L170.15,408.12 L171.66,407.28 L173.19,406.44 L174.71,405.61 L176.24,404.79 L177.77,403.98 L179.31,403.17 L180.85,402.37 L182.39,401.58 L183.94,400.79 L185.49,400.01 L187.04,399.24 L188.60,398.48 L190.16,397.72 L191.72,396.97 L193.28,396.23 L194.85,395.49 L196.43,394.77 L198.00,394.05 L199.58,393.33 L201.16,392.63 L202.75,391.93 L204.33,391.23 L205.93,390.55 L207.52,389.87 L209.12,389.20 L210.71,388.53 L212.32,387.87 L213.92,387.22 L215.53,386.58 L217.14,385.94 L218.75,385.31 L220.37,384.68 L221.99,384.07 L223.61,383.46 L225.23,382.85 L226.86,382.26 L228.49,381.67 L230.12,381.08 L231.75,380.50 L233.39,379.93 L235.02,379.37 L236.66,378.81 L238.31,378.26 L239.95,377.72 L241.60,377.18 L243.25,376.65 L244.90,376.12 L246.55,375.61 L248.21,375.09 L249.87,374.59 L251.53,374.09 L253.19,373.60 L254.85,373.11 L256.52,372.63 L258.19,372.16 L259.86,371.69 L261.53,371.23 L263.20,370.77 L264.88,370.32 L266.55,369.88 L268.23,369.44 L269.91,369.01 L271.59,368.59 L273.27,368.17 L274.96,367.76 L276.65,367.35 L278.33,366.95 L280.02,366.56 L281.71,366.17 L283.41,365.79 L285.10,365.41 L286.79,365.04 L288.49,364.68 L290.19,364.32 L291.89,363.97 L293.59,363.62 L295.29,363.28 L296.99,362.95 L298.69,362.62 L300.40,362.30 L302.10,361.98 L303.81,361.67 L305.51,361.36 L307.22,361.06 L308.93,360.76 L310.64,360.48 L312.35,360.19 L314.06,359.91 L315.78,359.64 L317.49,359.37 L319.20,359.11 L320.92,358.86 L322.63,358.61 L324.35,358.36 L326.06,358.12 L327.78,357.89 L329.50,357.66 L331.22,357.44 L332.93,357.22 L334.65,357.01 L336.37,356.80 L338.09,356.60 L339.81,356.40 L341.53,356.21 L343.25,356.02 L344.97,355.84 L346.69,355.67 L348.41,355.50 L350.13,355.33 L351.85,355.17 L353.58,355.01 L355.30,354.86 L357.02,354.72 L358.74,354.58 L360.46,354.44 L362.18,354.31 L363.90,354.19 L365.62,354.07 L367.34,353.95 L369.06,353.84 L370.78,353.74 L372.50,353.64 L374.22,353.54 L375.94,353.45 L377.65,353.37 L379.37,353.28 L381.09,353.21 L382.80,353.14 L384.52,353.07 L386.24,353.01 L387.95,352.95 L389.67,352.90 L391.38,352.85 L393.09,352.80" stroke="#808000" stroke-width="1.15" stroke-dasharray="3.2,1.6"/>
<path d="M72.73,552.01 L72.88,550.31 L73.04,548.61 L73.20,546.91 L73.37,545.20 L73.54,543.49 L73.72,541.77 L73.91,540.05 L74.10,538.33 L74.31,536.61 L74.52,534.88 L74.75,533.16 L74.98,531.43 L75.23,529.71 L75.48,527.98 L75.76,526.26 L76.04,524.54 L76.34,522.83 L76.65,521.12 L76.98,519.41 L77.33,517.70 L77.69,516.01 L78.07,514.31 L78.47,512.63 L78.89,510.95 L79.33,509.27 L79.79,507.61 L80.27,505.95 L80.77,504.31 L81.29,502.67 L81.84,501.04 L82.40,499.42 L82.98,497.81 L83.59,496.21 L84.22,494.62 L84.86,493.04 L85.53,491.48 L86.23,489.93 L86.94,488.38 L87.68,486.85 L88.43,485.34 L89.21,483.83 L90.01,482.34 L90.84,480.87 L91.68,479.40 L92.55,477.96 L93.44,476.52 L94.36,475.11 L95.30,473.70 L96.25,472.32 L97.23,470.94 L98.24,469.59 L99.26,468.24 L100.30,466.91 L101.36,465.60 L102.44,464.30 L103.54,463.01 L104.66,461.73 L105.80,460.47 L106.95,459.22 L108.12,457.99 L109.31,456.77 L110.51,455.56 L111.73,454.36 L112.96,453.17 L114.21,452.00 L115.48,450.84 L116.75,449.68 L118.05,448.55 L119.35,447.42 L120.67,446.30 L121.99,445.20 L123.34,444.10 L124.69,443.02 L126.05,441.94 L127.42,440.88 L128.81,439.82 L130.20,438.78 L131.60,437.74 L133.01,436.72 L134.43,435.70 L135.85,434.69 L137.29,433.69 L138.73,432.70 L140.17,431.72 L141.62,430.75 L143.08,429.78 L144.55,428.82 L146.01,427.87 L147.48,426.93 L148.96,426.00 L150.44,425.07 L151.92,424.15 L153.40,423.23 L154.89,422.33 L156.38,421.43 L157.88,420.53 L159.37,419.65 L160.87,418.77 L162.37,417.90 L163.88,417.03 L165.39,416.17 L166.90,415.32 L168.41,414.48 L169.93,413.64 L171.45,412.81 L172.97,411.99 L174.50,411.17 L176.02,410.36 L177.55,409.55 L179.09,408.76 L180.62,407.97 L182.16,407.18 L183.70,406.41 L185.25,405.64 L186.79,404.88 L188.34,404.12 L189.89,403.37 L191.45,402.63 L193.01,401.89 L194.57,401.16 L196.13,400.44 L197.69,399.72 L199.26,399.01 L200.83,398.31 L202.40,397.61 L203.97,396.92 L205.55,396.24 L207.13,395.56 L208.71,394.89 L210.30,394.22 L211.88,393.57 L213.47,392.92 L215.06,392.27 L216.65,391.63 L218.25,391.00 L219.85,390.37 L221.45,389.75 L223.05,389.14 L224.65,388.53 L226.26,387.93 L227.87,387.34 L229.48,386.75 L231.09,386.17 L232.71,385.60 L234.33,385.03 L235.95,384.46 L237.57,383.91 L239.19,383.36 L240.82,382.81 L242.44,382.28 L244.07,381.74 L245.70,381.22 L247.34,380.70 L248.97,380.19 L250.61,379.68 L252.25,379.18 L253.89,378.68 L255.53,378.19 L257.18,377.71 L258.82,377.23 L260.47,376.76 L262.12,376.30 L263.77,375.84 L265.43,375.38 L267.08,374.94 L268.74,374.50 L270.40,374.06 L272.06,373.63 L273.72,373.21 L275.38,372.79 L277.05,372.38 L278.71,371.97 L280.38,371.57 L282.05,371.18 L283.72,370.79 L285.40,370.41 L287.07,370.03 L288.75,369.66 L290.43,369.30 L292.10,368.94 L293.79,368.58 L295.47,368.23 L297.15,367.89 L298.84,367.55 L300.52,367.22 L302.21,366.90 L303.90,366.58 L305.59,366.26 L307.28,365.95 L308.97,365.65 L310.67,365.35 L312.36,365.06 L314.06,364.77 L315.75,364.49 L317.45,364.22 L319.15,363.95 L320.85,363.68 L322.56,363.42 L324.26,363.17 L325.97,362.92 L327.67,362.68 L329.38,362.44 L331.09,362.21 L332.79,361.98 L334.50,361.76 L336.21,361.55 L337.93,361.34 L339.64,361.13 L341.35,360.93 L343.07,360.74 L344.78,360.55 L346.50,360.36 L348.22,360.18 L349.93,360.01 L351.65,359.84 L353.37,359.68 L355.09,359.52 L356.81,359.37 L358.54,359.22 L360.26,359.08 L361.98,358.94 L363.71,358.80 L365.43,358.68 L367.16,358.55 L368.88,358.44 L370.61,358.33 L372.34,358.22 L374.07,358.12 L375.80,358.02 L377.52,357.93 L379.25,357.84 L380.98,357.76 L382.72,357.68 L384.45,357.61 L386.18,357.54 L387.91,357.48 L389.64,357.42 L391.38,357.36 L393.11,357.32" stroke="#00ffff" stroke-width="1.2"/>
<path d="M72.75,555.73 L72.82,554.01 L72.91,552.29 L73.03,550.57 L73.16,548.86 L73.32,547.14 L73.49,545.44 L73.69,543.73 L73.90,542.03 L74.14,540.33 L74.40,538.63 L74.67,536.95 L74.97,535.26 L75.29,533.58 L75.63,531.91 L75.99,530.24 L76.37,528.58 L76.77,526.93 L77.19,525.28 L77.63,523.64 L78.10,522.01 L78.58,520.39 L79.09,518.78 L79.61,517.17 L80.16,515.58 L80.73,513.99 L81.32,512.42 L81.93,510.85 L82.56,509.30 L83.21,507.76 L83.89,506.23 L84.58,504.71 L85.30,503.20 L86.04,501.71 L86.80,500.22 L87.58,498.76 L88.38,497.30 L89.20,495.86 L90.05,494.43 L90.91,493.02 L91.79,491.62 L92.69,490.23 L93.62,488.85 L94.56,487.48 L95.51,486.13 L96.49,484.79 L97.49,483.47 L98.50,482.15 L99.53,480.85 L100.57,479.55 L101.63,478.27 L102.71,477.01 L103.81,475.75 L104.92,474.50 L106.04,473.27 L107.18,472.04 L108.33,470.83 L109.50,469.63 L110.68,468.44 L111.87,467.26 L113.08,466.08 L114.30,464.92 L115.53,463.77 L116.78,462.63 L118.03,461.50 L119.30,460.38 L120.58,459.27 L121.87,458.17 L123.16,457.08 L124.47,455.99 L125.79,454.92 L127.12,453.86 L128.45,452.80 L129.80,451.75 L131.15,450.71 L132.51,449.68 L133.88,448.66 L135.25,447.65 L136.64,446.64 L138.03,445.65 L139.42,444.66 L140.82,443.68 L142.23,442.70 L143.64,441.74 L145.05,440.78 L146.47,439.82 L147.90,438.88 L149.32,437.94 L150.76,437.01 L152.19,436.09 L153.63,435.17 L155.07,434.26 L156.51,433.36 L157.96,432.46 L159.41,431.57 L160.87,430.69 L162.33,429.81 L163.79,428.94 L165.25,428.08 L166.72,427.22 L168.19,426.37 L169.66,425.53 L171.14,424.69 L172.62,423.87 L174.10,423.04 L175.58,422.23 L177.07,421.42 L178.56,420.62 L180.06,419.82 L181.56,419.03 L183.06,418.25 L184.56,417.47 L186.06,416.70 L187.57,415.94 L189.08,415.18 L190.60,414.43 L192.12,413.69 L193.64,412.95 L195.16,412.22 L196.68,411.50 L198.21,410.78 L199.74,410.07 L201.28,409.36 L202.81,408.67 L204.35,407.98 L205.89,407.29 L207.44,406.61 L208.98,405.94 L210.53,405.27 L212.08,404.61 L213.64,403.96 L215.19,403.31 L216.75,402.67 L218.31,402.04 L219.88,401.41 L221.44,400.79 L223.01,400.17 L224.58,399.56 L226.15,398.96 L227.73,398.36 L229.31,397.77 L230.88,397.19 L232.47,396.61 L234.05,396.04 L235.64,395.47 L237.23,394.91 L238.82,394.36 L240.41,393.81 L242.00,393.27 L243.60,392.74 L245.20,392.21 L246.80,391.69 L248.40,391.17 L250.01,390.66 L251.61,390.15 L253.22,389.66 L254.83,389.16 L256.45,388.68 L258.06,388.20 L259.68,387.72 L261.29,387.25 L262.91,386.79 L264.54,386.34 L266.16,385.88 L267.79,385.44 L269.41,385.00 L271.04,384.57 L272.67,384.14 L274.30,383.72 L275.94,383.31 L277.57,382.90 L279.21,382.49 L280.85,382.10 L282.49,381.70 L284.13,381.32 L285.77,380.94 L287.42,380.56 L289.06,380.19 L290.71,379.83 L292.36,379.47 L294.01,379.12 L295.66,378.78 L297.31,378.44 L298.97,378.10 L300.63,377.78 L302.28,377.45 L303.94,377.14 L305.60,376.82 L307.26,376.52 L308.92,376.22 L310.59,375.92 L312.25,375.63 L313.92,375.35 L315.58,375.07 L317.25,374.80 L318.92,374.53 L320.59,374.27 L322.26,374.02 L323.93,373.77 L325.61,373.52 L327.28,373.28 L328.96,373.05 L330.63,372.82 L332.31,372.60 L333.99,372.38 L335.66,372.17 L337.34,371.96 L339.02,371.76 L340.71,371.56 L342.39,371.37 L344.07,371.19 L345.75,371.01 L347.44,370.84 L349.12,370.67 L350.81,370.50 L352.49,370.34 L354.18,370.19 L355.87,370.04 L357.56,369.90 L359.25,369.76 L360.93,369.63 L362.62,369.51 L364.31,369.38 L366.01,369.27 L367.70,369.16 L369.39,369.05 L371.08,368.95 L372.77,368.85 L374.47,368.76 L376.16,368.68 L377.85,368.60 L379.55,368.52 L381.24,368.45 L382.93,368.39 L384.63,368.33 L386.32,368.27 L388.02,368.22 L389.71,368.18 L391.41,368.14 L393.11,368.10" stroke="#ff1a1a" stroke-width="1.3"/>
<path d="M72.37,569.01 L72.31,567.13 L72.28,565.27 L72.28,563.41 L72.30,561.57 L72.36,559.75 L72.44,557.93 L72.56,556.13 L72.70,554.34 L72.86,552.57 L73.06,550.80 L73.28,549.05 L73.52,547.31 L73.80,545.59 L74.10,543.87 L74.42,542.17 L74.77,540.48 L75.15,538.80 L75.55,537.14 L75.97,535.48 L76.42,533.84 L76.89,532.21 L77.39,530.60 L77.90,528.99 L78.45,527.40 L79.01,525.81 L79.60,524.24 L80.20,522.68 L80.83,521.14 L81.49,519.60 L82.16,518.08 L82.85,516.56 L83.56,515.06 L84.30,513.57 L85.05,512.09 L85.82,510.62 L86.62,509.17 L87.43,507.72 L88.26,506.29 L89.11,504.86 L89.97,503.45 L90.86,502.05 L91.76,500.66 L92.68,499.28 L93.61,497.91 L94.56,496.55 L95.53,495.21 L96.51,493.87 L97.51,492.54 L98.53,491.23 L99.56,489.92 L100.60,488.63 L101.66,487.34 L102.74,486.07 L103.82,484.80 L104.92,483.55 L106.04,482.30 L107.17,481.07 L108.31,479.85 L109.46,478.63 L110.63,477.43 L111.81,476.23 L113.00,475.05 L114.20,473.87 L115.42,472.71 L116.64,471.55 L117.88,470.41 L119.13,469.27 L120.39,468.14 L121.67,467.02 L122.95,465.91 L124.24,464.81 L125.55,463.72 L126.86,462.64 L128.18,461.57 L129.52,460.50 L130.86,459.45 L132.21,458.40 L133.57,457.36 L134.94,456.33 L136.32,455.31 L137.71,454.30 L139.11,453.29 L140.51,452.30 L141.92,451.31 L143.34,450.33 L144.77,449.36 L146.21,448.39 L147.65,447.44 L149.10,446.49 L150.55,445.55 L152.01,444.62 L153.48,443.69 L154.96,442.77 L156.44,441.87 L157.92,440.96 L159.41,440.07 L160.91,439.18 L162.41,438.30 L163.92,437.43 L165.43,436.57 L166.95,435.71 L168.47,434.86 L169.99,434.01 L171.52,433.17 L173.05,432.34 L174.59,431.52 L176.13,430.70 L177.67,429.89 L179.22,429.09 L180.76,428.29 L182.31,427.50 L183.87,426.72 L185.42,425.94 L186.98,425.17 L188.54,424.40 L190.10,423.64 L191.66,422.89 L193.22,422.14 L194.79,421.40 L196.35,420.66 L197.92,419.94 L199.49,419.21 L201.06,418.50 L202.63,417.79 L204.21,417.08 L205.78,416.38 L207.36,415.69 L208.94,415.00 L210.52,414.32 L212.10,413.65 L213.68,412.98 L215.27,412.32 L216.85,411.66 L218.44,411.01 L220.03,410.37 L221.62,409.73 L223.21,409.10 L224.81,408.48 L226.40,407.86 L228.00,407.24 L229.60,406.64 L231.20,406.04 L232.80,405.44 L234.40,404.85 L236.01,404.27 L237.61,403.69 L239.22,403.12 L240.83,402.56 L242.44,402.00 L244.05,401.45 L245.66,400.90 L247.28,400.36 L248.89,399.82 L250.51,399.30 L252.13,398.77 L253.75,398.26 L255.37,397.75 L256.99,397.24 L258.62,396.74 L260.24,396.25 L261.87,395.77 L263.50,395.29 L265.13,394.81 L266.76,394.34 L268.40,393.88 L270.03,393.43 L271.67,392.98 L273.31,392.53 L274.95,392.09 L276.59,391.66 L278.23,391.24 L279.87,390.82 L281.52,390.40 L283.16,390.00 L284.81,389.59 L286.46,389.20 L288.11,388.81 L289.76,388.42 L291.42,388.05 L293.07,387.68 L294.73,387.31 L296.38,386.95 L298.04,386.60 L299.70,386.25 L301.37,385.91 L303.03,385.57 L304.69,385.24 L306.36,384.92 L308.03,384.60 L309.70,384.29 L311.37,383.98 L313.04,383.68 L314.71,383.39 L316.38,383.10 L318.06,382.82 L319.74,382.54 L321.41,382.27 L323.09,382.01 L324.78,381.75 L326.46,381.50 L328.14,381.25 L329.83,381.01 L331.51,380.78 L333.20,380.55 L334.89,380.33 L336.58,380.11 L338.27,379.90 L339.97,379.70 L341.66,379.50 L343.36,379.31 L345.05,379.12 L346.75,378.94 L348.45,378.77 L350.15,378.60 L351.85,378.43 L353.56,378.28 L355.26,378.13 L356.97,377.98 L358.68,377.84 L360.39,377.71 L362.10,377.58 L363.81,377.46 L365.52,377.35 L367.23,377.24 L368.95,377.13 L370.67,377.04 L372.39,376.94 L374.10,376.86 L375.83,376.78 L377.55,376.71 L379.27,376.64 L380.99,376.58 L382.72,376.52 L384.45,376.47 L386.18,376.42 L387.91,376.39 L389.64,376.35 L391.37,376.33 L393.10,376.31" stroke="#000" stroke-width="1.2"/>
<path d="M72.41,571.01 L72.36,569.23 L72.33,567.46 L72.34,565.69 L72.37,563.93 L72.44,562.18 L72.52,560.43 L72.64,558.68 L72.78,556.95 L72.95,555.22 L73.15,553.49 L73.37,551.77 L73.61,550.06 L73.89,548.36 L74.18,546.66 L74.51,544.97 L74.85,543.29 L75.23,541.62 L75.62,539.96 L76.04,538.30 L76.49,536.65 L76.96,535.01 L77.45,533.38 L77.96,531.76 L78.50,530.15 L79.06,528.54 L79.64,526.95 L80.25,525.37 L80.88,523.79 L81.53,522.23 L82.20,520.68 L82.89,519.14 L83.60,517.60 L84.33,516.08 L85.09,514.57 L85.86,513.08 L86.66,511.59 L87.47,510.11 L88.31,508.65 L89.16,507.20 L90.03,505.76 L90.92,504.33 L91.83,502.92 L92.76,501.52 L93.71,500.13 L94.67,498.75 L95.65,497.39 L96.65,496.04 L97.67,494.70 L98.70,493.37 L99.74,492.06 L100.81,490.76 L101.88,489.47 L102.98,488.20 L104.08,486.93 L105.21,485.68 L106.34,484.44 L107.49,483.22 L108.65,482.00 L109.83,480.80 L111.02,479.62 L112.22,478.44 L113.43,477.27 L114.66,476.12 L115.90,474.98 L117.15,473.85 L118.41,472.73 L119.68,471.62 L120.96,470.52 L122.26,469.44 L123.56,468.36 L124.88,467.29 L126.20,466.24 L127.54,465.19 L128.88,464.16 L130.24,463.13 L131.60,462.12 L132.97,461.11 L134.35,460.12 L135.74,459.13 L137.14,458.15 L138.54,457.18 L139.96,456.22 L141.38,455.27 L142.80,454.33 L144.24,453.40 L145.68,452.47 L147.13,451.55 L148.58,450.64 L150.04,449.74 L151.51,448.85 L152.98,447.96 L154.45,447.08 L155.93,446.21 L157.42,445.34 L158.91,444.48 L160.41,443.63 L161.91,442.79 L163.41,441.95 L164.92,441.12 L166.43,440.29 L167.94,439.47 L169.46,438.66 L170.98,437.85 L172.50,437.05 L174.02,436.25 L175.55,435.46 L177.08,434.68 L178.61,433.90 L180.14,433.12 L181.67,432.35 L183.21,431.59 L184.74,430.83 L186.28,430.07 L187.83,429.33 L189.37,428.58 L190.91,427.85 L192.46,427.11 L194.01,426.39 L195.56,425.67 L197.11,424.95 L198.67,424.24 L200.22,423.53 L201.78,422.84 L203.34,422.14 L204.90,421.45 L206.46,420.77 L208.03,420.09 L209.60,419.42 L211.17,418.75 L212.74,418.09 L214.31,417.44 L215.88,416.79 L217.46,416.14 L219.04,415.51 L220.61,414.87 L222.20,414.25 L223.78,413.62 L225.36,413.01 L226.95,412.40 L228.54,411.79 L230.13,411.19 L231.72,410.60 L233.31,410.01 L234.91,409.43 L236.50,408.85 L238.10,408.28 L239.70,407.72 L241.30,407.16 L242.90,406.60 L244.51,406.05 L246.12,405.51 L247.72,404.98 L249.33,404.44 L250.94,403.92 L252.56,403.40 L254.17,402.89 L255.79,402.38 L257.41,401.88 L259.02,401.38 L260.65,400.89 L262.27,400.41 L263.89,399.93 L265.52,399.45 L267.14,398.99 L268.77,398.53 L270.40,398.07 L272.04,397.62 L273.67,397.18 L275.30,396.74 L276.94,396.31 L278.58,395.88 L280.22,395.46 L281.86,395.05 L283.50,394.64 L285.14,394.24 L286.79,393.84 L288.43,393.45 L290.08,393.07 L291.73,392.69 L293.38,392.32 L295.04,391.95 L296.69,391.59 L298.35,391.24 L300.00,390.89 L301.66,390.55 L303.32,390.21 L304.98,389.88 L306.64,389.56 L308.31,389.24 L309.97,388.93 L311.64,388.62 L313.31,388.32 L314.98,388.03 L316.65,387.74 L318.32,387.46 L319.99,387.19 L321.67,386.92 L323.34,386.65 L325.02,386.40 L326.70,386.15 L328.38,385.90 L330.06,385.67 L331.74,385.43 L333.42,385.21 L335.11,384.99 L336.80,384.78 L338.48,384.57 L340.17,384.37 L341.86,384.18 L343.55,383.99 L345.25,383.81 L346.94,383.63 L348.63,383.46 L350.33,383.30 L352.03,383.14 L353.73,382.99 L355.43,382.85 L357.13,382.71 L358.83,382.58 L360.53,382.46 L362.24,382.34 L363.94,382.23 L365.65,382.12 L367.36,382.02 L369.07,381.93 L370.78,381.84 L372.49,381.76 L374.20,381.69 L375.91,381.62 L377.63,381.56 L379.35,381.51 L381.06,381.46 L382.78,381.42 L384.50,381.39 L386.22,381.36 L387.94,381.34 L389.66,381.32 L391.39,381.31 L393.11,381.31" stroke="#1c1c8a" stroke-width="1.2"/>
<path d="M72.41,571.01 L72.36,569.23 L72.33,567.46 L72.34,565.69 L72.37,563.93 L72.44,562.18 L72.52,560.43 L72.64,558.68 L72.78,556.95 L72.95,555.22 L73.15,553.49 L73.37,551.77 L73.61,550.06 L73.89,548.36 L74.18,546.66 L74.51,544.97 L74.85,543.29 L75.23,541.62 L75.62,539.96 L76.04,538.30 L76.49,536.65 L76.96,535.01 L77.45,533.38 L77.96,531.76 L78.50,530.15 L79.06,528.54 L79.64,526.95 L80.25,525.37 L80.88,523.79 L81.53,522.23 L82.20,520.68 L82.89,519.14 L83.60,517.60 L84.33,516.08 L85.09,514.57 L85.86,513.08 L86.66,511.59 L87.47,510.11 L88.31,508.65 L89.16,507.20 L90.03,505.76 L90.92,504.33 L91.83,502.92 L92.76,501.52 L93.71,500.13 L94.67,498.75 L95.65,497.39 L96.65,496.04 L97.67,494.70 L98.70,493.37 L99.74,492.06 L100.81,490.76 L101.88,489.47 L102.98,488.20 L104.08,486.93 L105.21,485.68 L106.34,484.44 L107.49,483.22 L108.65,482.00 L109.83,480.80 L111.02,479.62 L112.22,478.44 L113.43,477.27 L114.66,476.12 L115.90,474.98 L117.15,473.85 L118.41,472.73 L119.68,471.62 L120.96,470.52 L122.26,469.44 L123.56,468.36 L124.88,467.29 L126.20,466.24 L127.54,465.19 L128.88,464.16 L130.24,463.13 L131.60,462.12 L132.97,461.11 L134.35,460.12 L135.74,459.13 L137.14,458.15 L138.54,457.18 L139.96,456.22 L141.38,455.27 L142.80,454.33 L144.24,453.40 L145.68,452.47 L147.13,451.55 L148.58,450.64 L150.04,449.74 L151.51,448.85 L152.98,447.96 L154.45,447.08 L155.93,446.21 L157.42,445.34 L158.91,444.48 L160.41,443.63 L161.91,442.79 L163.41,441.95 L164.92,441.12 L166.43,440.29 L167.94,439.47 L169.46,438.66 L170.98,437.85 L172.50,437.05 L174.02,436.25 L175.55,435.46 L177.08,434.68 L178.61,433.90 L180.14,433.12 L181.67,432.35 L183.21,431.59 L184.74,430.83 L186.28,430.07 L187.83,429.33 L189.37,428.58 L190.91,427.85 L192.46,427.11 L194.01,426.39 L195.56,425.67 L197.11,424.95 L198.67,424.24 L200.22,423.53 L201.78,422.84 L203.34,422.14 L204.90,421.45 L206.46,420.77 L208.03,420.09 L209.60,419.42 L211.17,418.75 L212.74,418.09 L214.31,417.44 L215.88,416.79 L217.46,416.14 L219.04,415.51 L220.61,414.87 L222.20,414.25 L223.78,413.62 L225.36,413.01 L226.95,412.40 L228.54,411.79 L230.13,411.19 L231.72,410.60 L233.31,410.01 L234.91,409.43 L236.50,408.85 L238.10,408.28 L239.70,407.72 L241.30,407.16 L242.90,406.60 L244.51,406.05 L246.12,405.51 L247.72,404.98 L249.33,404.44 L250.94,403.92 L252.56,403.40 L254.17,402.89 L255.79,402.38 L257.41,401.88 L259.02,401.38 L260.65,400.89 L262.27,400.41 L263.89,399.93 L265.52,399.45 L267.14,398.99 L268.77,398.53 L270.40,398.07 L272.04,397.62 L273.67,397.18 L275.30,396.74 L276.94,396.31 L278.58,395.88 L280.22,395.46 L281.86,395.05 L283.50,394.64 L285.14,394.24 L286.79,393.84 L288.43,393.45 L290.08,393.07 L291.73,392.69 L293.38,392.32 L295.04,391.95 L296.69,391.59 L298.35,391.24 L300.00,390.89 L301.66,390.55 L303.32,390.21 L304.98,389.88 L306.64,389.56 L308.31,389.24 L309.97,388.93 L311.64,388.62 L313.31,388.32 L314.98,388.03 L316.65,387.74 L318.32,387.46 L319.99,387.19 L321.67,386.92 L323.34,386.65 L325.02,386.40 L326.70,386.15 L328.38,385.90 L330.06,385.67 L331.74,385.43 L333.42,385.21 L335.11,384.99 L336.80,384.78 L338.48,384.57 L340.17,384.37 L341.86,384.18 L343.55,383.99 L345.25,383.81 L346.94,383.63 L348.63,383.46 L350.33,383.30 L352.03,383.14 L353.73,382.99 L355.43,382.85 L357.13,382.71 L358.83,382.58 L360.53,382.46 L362.24,382.34 L363.94,382.23 L365.65,382.12 L367.36,382.02 L369.07,381.93 L370.78,381.84 L372.49,381.76 L374.20,381.69 L375.91,381.62 L377.63,381.56 L379.35,381.51 L381.06,381.46 L382.78,381.42 L384.50,381.39 L386.22,381.36 L387.94,381.34 L389.66,381.32 L391.39,381.31 L393.11,381.31" stroke="#ff00ff" stroke-width="1.1" stroke-dasharray="2.6,1.8"/>
</g>
<circle cx="72.7" cy="548.8" r="2.15" fill="#fff" stroke="#989838" stroke-width="0.7"/>
<circle cx="78.8" cy="502.2" r="2.15" fill="#fff" stroke="#989838" stroke-width="0.7"/>
<circle cx="93" cy="470.9" r="2.15" fill="#fff" stroke="#989838" stroke-width="0.7"/>
<circle cx="122.6" cy="440.2" r="2.15" fill="#fff" stroke="#989838" stroke-width="0.7"/>
<circle cx="181.2" cy="402.8" r="2.15" fill="#fff" stroke="#989838" stroke-width="0.7"/>
<circle cx="251.8" cy="373.9" r="2.15" fill="#fff" stroke="#989838" stroke-width="0.7"/>
<circle cx="322.7" cy="358.1" r="2.15" fill="#fff" stroke="#989838" stroke-width="0.7"/>
<circle cx="388" cy="353.2" r="2.15" fill="#fff" stroke="#989838" stroke-width="0.7"/>
<circle cx="72.4" cy="571" r="2.3" fill="#ff00ff"/>
<circle cx="78.8" cy="531.9" r="2.3" fill="#ff00ff"/>
<circle cx="90.4" cy="504.8" r="2.3" fill="#ff00ff"/>
<circle cx="116.9" cy="475.5" r="2.3" fill="#ff00ff"/>
<circle cx="174.4" cy="436.2" r="2.3" fill="#ff00ff"/>
<circle cx="238.8" cy="407.7" r="2.3" fill="#ff00ff"/>
<circle cx="303" cy="390.2" r="2.3" fill="#ff00ff"/>
<circle cx="362" cy="382.7" r="2.3" fill="#ff00ff"/>
<rect x="70.35" y="566.95" width="4.1" height="4.1" fill="#000"/>
<rect x="78.15" y="520.35" width="4.1" height="4.1" fill="#000"/>
<rect x="99.05" y="484.95" width="4.1" height="4.1" fill="#000"/>
<rect x="153.25" y="441.15" width="4.1" height="4.1" fill="#000"/>
<rect x="237.05" y="401.05" width="4.1" height="4.1" fill="#000"/>
<rect x="313.75" y="380.85" width="4.1" height="4.1" fill="#000"/>
<rect x="385.95" y="374.55" width="4.1" height="4.1" fill="#000"/>
<path d="M70.0,322.85 V587.0 H394.05" fill="none" stroke="#000" stroke-width="1.8"/>
<line x1="111" y1="586.8" x2="152" y2="586.8" stroke="#2020a0" stroke-width="1.0" opacity="0.8"/>
<path d="M64.4,323.6 H70.0 M66.8,354.50 H70.0 M64.4,385.4 H70.0 M66.8,416.35 H70.0 M64.4,447.3 H70.0 M66.8,478.20 H70.0 M64.4,509.1 H70.0 M66.8,540.05 H70.0 M64.4,571.0 H70.0 M70.00,587.0 V592.6 M110.41,587.0 V590.2 M150.82,587.0 V592.6 M191.24,587.0 V590.2 M231.65,587.0 V592.6 M272.06,587.0 V590.2 M312.48,587.0 V592.6 M352.89,587.0 V590.2 M393.30,587.0 V592.6" stroke="#000" stroke-width="1.5" fill="none"/>
<text fill="#111" stroke="#111" stroke-width="0.22" x="57.00" y="327.60" text-anchor="end" font-family="'Liberation Sans', Arial, sans-serif" font-size="11" textLength="31.6" lengthAdjust="spacingAndGlyphs">1.0x10</text>
<text fill="#111" stroke="#111" stroke-width="0.22" x="57.60" y="322.60" font-family="'Liberation Sans', Arial, sans-serif" font-size="6.2">6</text>
<text fill="#111" stroke="#111" stroke-width="0.22" x="57.00" y="389.40" text-anchor="end" font-family="'Liberation Sans', Arial, sans-serif" font-size="11" textLength="31.6" lengthAdjust="spacingAndGlyphs">8.0x10</text>
<text fill="#111" stroke="#111" stroke-width="0.22" x="57.60" y="384.40" font-family="'Liberation Sans', Arial, sans-serif" font-size="6.2">5</text>
<text fill="#111" stroke="#111" stroke-width="0.22" x="57.00" y="451.30" text-anchor="end" font-family="'Liberation Sans', Arial, sans-serif" font-size="11" textLength="31.6" lengthAdjust="spacingAndGlyphs">6.0x10</text>
<text fill="#111" stroke="#111" stroke-width="0.22" x="57.60" y="446.30" font-family="'Liberation Sans', Arial, sans-serif" font-size="6.2">5</text>
<text fill="#111" stroke="#111" stroke-width="0.22" x="57.00" y="513.10" text-anchor="end" font-family="'Liberation Sans', Arial, sans-serif" font-size="11" textLength="31.6" lengthAdjust="spacingAndGlyphs">4.0x10</text>
<text fill="#111" stroke="#111" stroke-width="0.22" x="57.60" y="508.10" font-family="'Liberation Sans', Arial, sans-serif" font-size="6.2">5</text>
<text fill="#111" stroke="#111" stroke-width="0.22" x="57.00" y="575.00" text-anchor="end" font-family="'Liberation Sans', Arial, sans-serif" font-size="11" textLength="31.6" lengthAdjust="spacingAndGlyphs">2.0x10</text>
<text fill="#111" stroke="#111" stroke-width="0.22" x="57.60" y="570.00" font-family="'Liberation Sans', Arial, sans-serif" font-size="6.2">5</text>
<text fill="#111" stroke="#111" stroke-width="0.22" x="70.00" y="603.90" text-anchor="middle" font-family="'Liberation Sans', Arial, sans-serif" font-size="11">20</text>
<text fill="#111" stroke="#111" stroke-width="0.22" x="150.82" y="603.90" text-anchor="middle" font-family="'Liberation Sans', Arial, sans-serif" font-size="11">25</text>
<text fill="#111" stroke="#111" stroke-width="0.22" x="231.65" y="603.90" text-anchor="middle" font-family="'Liberation Sans', Arial, sans-serif" font-size="11">30</text>
<text fill="#111" stroke="#111" stroke-width="0.22" x="312.48" y="603.90" text-anchor="middle" font-family="'Liberation Sans', Arial, sans-serif" font-size="11">35</text>
<text fill="#111" stroke="#111" stroke-width="0.22" x="393.30" y="603.90" text-anchor="middle" font-family="'Liberation Sans', Arial, sans-serif" font-size="11">40</text>
<text fill="#111" stroke="#111" stroke-width="0.12" transform="translate(15.3,453.65) rotate(-90)" text-anchor="middle" font-family="'Liberation Serif', 'Times New Roman', serif" font-size="15.75">Gas pressure (Pa)</text>
<text fill="#111" stroke="#111" stroke-width="0.12" x="233.3" y="623.2" text-anchor="middle" font-family="'Liberation Serif', 'Times New Roman', serif" font-size="16" textLength="97.4" lengthAdjust="spacingAndGlyphs">x cordinate (m)</text>
<text fill="#111" stroke="#111" stroke-width="0.32" x="84.60000000000001" y="332.9" font-family="'Liberation Serif', 'Times New Roman', serif" font-size="12">c</text>
<text fill="#111" stroke="#111" stroke-width="0.32" x="101.5" y="332.9" font-family="'Liberation Serif', 'Times New Roman', serif" font-size="12" textLength="35.1" lengthAdjust="spacingAndGlyphs">t=250 d</text>
<line x1="141.1" y1="485.6" x2="171.5" y2="485.6" stroke="#26266e" stroke-width="1.4"/>
<text y="487.30" font-family="'Liberation Serif', 'Times New Roman', serif" font-size="11.8" fill="#1c1c4c" stroke="#1c1c4c" stroke-width="0.2"><tspan x="178.56" font-style="italic" fill="#2a2a90" stroke="#2a2a90">p</tspan><tspan x="191.30">,</tspan><tspan x="195.05" font-style="italic">τ</tspan><tspan x="202.64">=</tspan><tspan x="211.67">0.5</tspan><tspan x="225.96" font-style="italic">d</tspan><tspan x="232.57">,</tspan><tspan x="236.30" font-style="italic">b</tspan><tspan x="244.53">≠</tspan><tspan x="253.77">0</tspan><tspan x="259.27">,</tspan><tspan x="263.08" font-style="italic">k</tspan><tspan x="271.53">≠</tspan><tspan x="280.95" font-style="italic">c</tspan><tspan x="288.36">(</tspan></text><text x="183.70" y="490.00" font-family="'Liberation Serif', 'Times New Roman', serif" font-size="8.2" font-style="italic" fill="#1c1c4c" stroke="#1c1c4c" stroke-width="0.2">m</text><text x="293.36" y="487.30" font-family="'Liberation Serif', 'Times New Roman', serif" font-size="11.8" font-style="italic" fill="#1c1c4c" stroke="#1c1c4c" stroke-width="0.2" textLength="64.40" lengthAdjust="spacingAndGlyphs">Fully coupled</text><text x="357.96" y="487.30" font-family="'Liberation Serif', 'Times New Roman', serif" font-size="11.8" fill="#1c1c4c" stroke="#1c1c4c" stroke-width="0.2">)</text>
<line x1="141.1" y1="501.4" x2="171.5" y2="501.4" stroke="#ff00ff" stroke-width="1.1" stroke-dasharray="1.6,1.6"/>
<circle cx="156.3" cy="501.4" r="2.6" fill="#ff00ff"/>
<text y="503.40" font-family="'Liberation Serif', 'Times New Roman', serif" font-size="11.8" fill="#1c1c4c" stroke="#1c1c4c" stroke-width="0.2"><tspan x="178.56" font-style="italic" fill="#2a2a90" stroke="#2a2a90">p</tspan><tspan x="191.30">,</tspan><tspan x="195.05" font-style="italic">τ</tspan><tspan x="202.64">=</tspan><tspan x="211.67">0.5</tspan><tspan x="225.96" font-style="italic">d</tspan><tspan x="232.57">,</tspan><tspan x="236.30" font-style="italic">b</tspan><tspan x="244.53">≠</tspan><tspan x="253.77">0</tspan><tspan x="259.27">,</tspan><tspan x="263.08" font-style="italic">k</tspan><tspan x="271.53">≠</tspan><tspan x="280.95" font-style="italic">c</tspan><tspan x="288.36">(</tspan></text><text x="183.70" y="506.10" font-family="'Liberation Serif', 'Times New Roman', serif" font-size="8.2" font-style="italic" fill="#1c1c4c" stroke="#1c1c4c" stroke-width="0.2">f</text><text x="293.36" y="503.40" font-family="'Liberation Serif', 'Times New Roman', serif" font-size="11.8" font-style="italic" fill="#1c1c4c" stroke="#1c1c4c" stroke-width="0.2" textLength="64.40" lengthAdjust="spacingAndGlyphs">Fully coupled</text><text x="357.96" y="503.40" font-family="'Liberation Serif', 'Times New Roman', serif" font-size="11.8" fill="#1c1c4c" stroke="#1c1c4c" stroke-width="0.2">)</text>
<line x1="141.1" y1="517.7" x2="171.5" y2="517.7" stroke="#ff2050" stroke-width="1.2"/>
<text y="519.70" font-family="'Liberation Serif', 'Times New Roman', serif" font-size="11.8" fill="#1c1c4c" stroke="#1c1c4c" stroke-width="0.2"><tspan x="178.56" font-style="italic" fill="#2a2a90" stroke="#2a2a90">p</tspan><tspan x="191.30">,</tspan><tspan x="195.05" font-style="italic">τ</tspan><tspan x="202.64">=</tspan><tspan x="211.67">20</tspan><tspan x="223.16" font-style="italic">d</tspan><tspan x="229.77">,</tspan><tspan x="233.50" font-style="italic">b</tspan><tspan x="241.73">≠</tspan><tspan x="250.97">0</tspan><tspan x="256.47">,</tspan><tspan x="260.28" font-style="italic">k</tspan><tspan x="268.73">≠</tspan><tspan x="278.15" font-style="italic">c</tspan><tspan x="285.56">(</tspan></text><text x="183.70" y="522.40" font-family="'Liberation Serif', 'Times New Roman', serif" font-size="8.2" font-style="italic" fill="#1c1c4c" stroke="#1c1c4c" stroke-width="0.2">m</text><text x="290.56" y="519.70" font-family="'Liberation Serif', 'Times New Roman', serif" font-size="11.8" font-style="italic" fill="#1c1c4c" stroke="#1c1c4c" stroke-width="0.2" textLength="64.40" lengthAdjust="spacingAndGlyphs">Fully coupled</text><text x="355.16" y="519.70" font-family="'Liberation Serif', 'Times New Roman', serif" font-size="11.8" fill="#1c1c4c" stroke="#1c1c4c" stroke-width="0.2">)</text>
<line x1="141.1" y1="534.1" x2="171.5" y2="534.1" stroke="#1e1e4a" stroke-width="1.3"/>
<rect x="154.0" y="531.8000000000001" width="4.6" height="4.6" fill="#000"/>
<text y="536.10" font-family="'Liberation Serif', 'Times New Roman', serif" font-size="11.8" fill="#1c1c4c" stroke="#1c1c4c" stroke-width="0.2"><tspan x="178.56" font-style="italic" fill="#2a2a90" stroke="#2a2a90">p</tspan><tspan x="191.30">,</tspan><tspan x="195.05" font-style="italic">τ</tspan><tspan x="202.64">=</tspan><tspan x="211.67">20</tspan><tspan x="223.16" font-style="italic">d</tspan><tspan x="229.77">,</tspan><tspan x="233.50" font-style="italic">b</tspan><tspan x="241.73">≠</tspan><tspan x="250.97">0</tspan><tspan x="256.47">,</tspan><tspan x="260.28" font-style="italic">k</tspan><tspan x="268.73">≠</tspan><tspan x="278.15" font-style="italic">c</tspan><tspan x="285.56">(</tspan></text><text x="183.70" y="538.80" font-family="'Liberation Serif', 'Times New Roman', serif" font-size="8.2" font-style="italic" fill="#1c1c4c" stroke="#1c1c4c" stroke-width="0.2">f</text><text x="290.56" y="536.10" font-family="'Liberation Serif', 'Times New Roman', serif" font-size="11.8" font-style="italic" fill="#1c1c4c" stroke="#1c1c4c" stroke-width="0.2" textLength="64.40" lengthAdjust="spacingAndGlyphs">Fully coupled</text><text x="355.16" y="536.10" font-family="'Liberation Serif', 'Times New Roman', serif" font-size="11.8" fill="#1c1c4c" stroke="#1c1c4c" stroke-width="0.2">)</text>
<line x1="141.1" y1="550.2" x2="171.5" y2="550.2" stroke="#00ffff" stroke-width="1.2"/>
<text y="552.20" font-family="'Liberation Serif', 'Times New Roman', serif" font-size="11.8" fill="#1c1c4c" stroke="#1c1c4c" stroke-width="0.2"><tspan x="178.56" font-style="italic" fill="#2a2a90" stroke="#2a2a90">p</tspan><tspan x="191.30">,</tspan><tspan x="195.05" font-style="italic">τ</tspan><tspan x="202.64">=</tspan><tspan x="211.67">0.5</tspan><tspan x="225.96" font-style="italic">d</tspan><tspan x="232.57">,</tspan><tspan x="236.30" font-style="italic">b</tspan><tspan x="244.53">=</tspan><tspan x="253.77">0</tspan><tspan x="259.27">,</tspan><tspan x="263.08" font-style="italic">k</tspan><tspan x="271.53">≠</tspan><tspan x="280.95" font-style="italic">c</tspan><tspan x="288.36">(</tspan></text><text x="183.70" y="554.90" font-family="'Liberation Serif', 'Times New Roman', serif" font-size="8.2" font-style="italic" fill="#1c1c4c" stroke="#1c1c4c" stroke-width="0.2">m</text><text x="293.36" y="552.20" font-family="'Liberation Serif', 'Times New Roman', serif" font-size="11.8" font-style="italic" fill="#1c1c4c" stroke="#1c1c4c" stroke-width="0.2" textLength="78.20" lengthAdjust="spacingAndGlyphs">Without K effects</text><text x="372.46" y="552.20" font-family="'Liberation Serif', 'Times New Roman', serif" font-size="11.8" fill="#1c1c4c" stroke="#1c1c4c" stroke-width="0.2">)</text>
<line x1="141.1" y1="566.3" x2="171.5" y2="566.3" stroke="#808000" stroke-width="1.0" stroke-dasharray="1.6,1.6"/>
<circle cx="156.3" cy="566.3" r="2.6" fill="#fff" stroke="#808000" stroke-width="0.8"/>
<text y="568.30" font-family="'Liberation Serif', 'Times New Roman', serif" font-size="11.8" fill="#1c1c4c" stroke="#1c1c4c" stroke-width="0.2"><tspan x="178.56" font-style="italic" fill="#2a2a90" stroke="#2a2a90">p</tspan><tspan x="191.30">,</tspan><tspan x="195.05" font-style="italic">τ</tspan><tspan x="202.64">=</tspan><tspan x="211.67">0.5</tspan><tspan x="225.96" font-style="italic">d</tspan><tspan x="232.57">,</tspan><tspan x="236.30" font-style="italic">b</tspan><tspan x="244.53">=</tspan><tspan x="253.77">0</tspan><tspan x="259.27">,</tspan><tspan x="263.08" font-style="italic">k</tspan><tspan x="271.53">=</tspan><tspan x="280.95" font-style="italic">c</tspan><tspan x="288.36">(</tspan></text><text x="183.70" y="571.00" font-family="'Liberation Serif', 'Times New Roman', serif" font-size="8.2" font-style="italic" fill="#1c1c4c" stroke="#1c1c4c" stroke-width="0.2">m</text><text x="293.36" y="568.30" font-family="'Liberation Serif', 'Times New Roman', serif" font-size="11.8" font-style="italic" fill="#1c1c4c" stroke="#1c1c4c" stroke-width="0.2" textLength="88.30" lengthAdjust="spacingAndGlyphs">Only gas migration</text><text x="382.56" y="568.30" font-family="'Liberation Serif', 'Times New Roman', serif" font-size="11.8" fill="#1c1c4c" stroke="#1c1c4c" stroke-width="0.2">)</text>
<clipPath id="clipd"><rect x="482.3" y="319.5" width="326.49999999999994" height="268.79999999999995"/></clipPath>
<g clip-path="url(#clipd)" fill="none" stroke-linejoin="round">
<path d="M485.24,541.33 L485.13,539.54 L485.05,537.75 L484.99,535.97 L484.96,534.18 L484.96,532.41 L484.98,530.63 L485.03,528.86 L485.10,527.09 L485.20,525.33 L485.33,523.57 L485.48,521.81 L485.65,520.06 L485.85,518.31 L486.07,516.57 L486.32,514.84 L486.59,513.11 L486.89,511.39 L487.21,509.67 L487.56,507.96 L487.93,506.26 L488.32,504.56 L488.73,502.87 L489.17,501.19 L489.63,499.51 L490.12,497.85 L490.62,496.19 L491.15,494.54 L491.70,492.90 L492.28,491.27 L492.87,489.65 L493.49,488.03 L494.13,486.43 L494.79,484.84 L495.47,483.26 L496.17,481.68 L496.90,480.12 L497.64,478.57 L498.41,477.03 L499.19,475.51 L500.00,473.99 L500.82,472.49 L501.67,470.99 L502.53,469.52 L503.42,468.05 L504.32,466.60 L505.25,465.16 L506.19,463.73 L507.15,462.32 L508.13,460.92 L509.13,459.53 L510.15,458.16 L511.18,456.80 L512.23,455.46 L513.30,454.12 L514.39,452.80 L515.49,451.49 L516.61,450.20 L517.74,448.92 L518.89,447.64 L520.05,446.39 L521.23,445.14 L522.42,443.90 L523.63,442.68 L524.85,441.47 L526.09,440.27 L527.33,439.08 L528.59,437.90 L529.87,436.73 L531.15,435.57 L532.45,434.42 L533.76,433.29 L535.08,432.16 L536.41,431.04 L537.75,429.94 L539.10,428.84 L540.46,427.75 L541.83,426.68 L543.21,425.61 L544.60,424.55 L546.00,423.50 L547.41,422.46 L548.82,421.43 L550.24,420.40 L551.67,419.39 L553.11,418.38 L554.55,417.38 L556.00,416.39 L557.46,415.41 L558.92,414.43 L560.38,413.46 L561.86,412.50 L563.33,411.55 L564.81,410.60 L566.30,409.66 L567.79,408.73 L569.28,407.81 L570.78,406.89 L572.28,405.97 L573.78,405.07 L575.29,404.17 L576.79,403.27 L578.30,402.39 L579.82,401.51 L581.34,400.63 L582.86,399.76 L584.38,398.90 L585.90,398.05 L587.43,397.20 L588.96,396.36 L590.50,395.52 L592.04,394.69 L593.58,393.87 L595.12,393.06 L596.66,392.25 L598.21,391.44 L599.76,390.65 L601.32,389.85 L602.87,389.07 L604.43,388.29 L605.99,387.52 L607.56,386.76 L609.13,386.00 L610.70,385.25 L612.27,384.50 L613.84,383.76 L615.42,383.03 L617.00,382.31 L618.58,381.59 L620.17,380.87 L621.76,380.17 L623.34,379.47 L624.94,378.77 L626.53,378.09 L628.13,377.40 L629.73,376.73 L631.33,376.06 L632.93,375.40 L634.54,374.75 L636.15,374.10 L637.76,373.46 L639.38,372.82 L640.99,372.19 L642.61,371.57 L644.23,370.95 L645.85,370.34 L647.48,369.74 L649.10,369.14 L650.73,368.55 L652.36,367.97 L654.00,367.39 L655.63,366.82 L657.27,366.25 L658.91,365.70 L660.55,365.14 L662.19,364.60 L663.84,364.06 L665.49,363.53 L667.14,363.00 L668.79,362.48 L670.44,361.97 L672.10,361.46 L673.76,360.96 L675.41,360.47 L677.08,359.98 L678.74,359.50 L680.40,359.03 L682.07,358.56 L683.74,358.10 L685.41,357.64 L687.08,357.20 L688.76,356.75 L690.43,356.32 L692.11,355.89 L693.79,355.47 L695.47,355.05 L697.15,354.64 L698.83,354.24 L700.52,353.84 L702.21,353.45 L703.90,353.07 L705.59,352.69 L707.28,352.32 L708.97,351.96 L710.67,351.60 L712.36,351.25 L714.06,350.90 L715.76,350.56 L717.46,350.23 L719.16,349.91 L720.87,349.59 L722.57,349.28 L724.28,348.97 L725.99,348.67 L727.70,348.38 L729.41,348.09 L731.12,347.81 L732.83,347.54 L734.55,347.27 L736.26,347.01 L737.98,346.75 L739.70,346.51 L741.42,346.27 L743.14,346.03 L744.86,345.80 L746.58,345.58 L748.30,345.37 L750.03,345.16 L751.75,344.95 L753.48,344.76 L755.21,344.57 L756.94,344.39 L758.67,344.21 L760.40,344.04 L762.13,343.88 L763.87,343.72 L765.60,343.57 L767.34,343.42 L769.07,343.29 L770.81,343.15 L772.55,343.03 L774.29,342.91 L776.03,342.80 L777.77,342.69 L779.51,342.60 L781.25,342.50 L782.99,342.42 L784.73,342.34 L786.48,342.27 L788.22,342.20 L789.97,342.14 L791.72,342.09 L793.46,342.04 L795.21,342.00 L796.96,341.97 L798.71,341.94 L800.46,341.92 L802.21,341.90 L803.96,341.89 L805.71,341.89" stroke="#808000" stroke-width="1.15" stroke-dasharray="3.2,1.6"/>
<path d="M485.54,542.01 L485.54,540.30 L485.56,538.60 L485.61,536.89 L485.67,535.17 L485.75,533.46 L485.86,531.75 L485.99,530.03 L486.13,528.32 L486.30,526.60 L486.48,524.88 L486.69,523.17 L486.92,521.46 L487.17,519.75 L487.44,518.04 L487.73,516.33 L488.04,514.63 L488.37,512.93 L488.72,511.23 L489.09,509.54 L489.49,507.86 L489.90,506.18 L490.34,504.50 L490.79,502.83 L491.27,501.17 L491.77,499.52 L492.29,497.87 L492.83,496.23 L493.39,494.60 L493.97,492.98 L494.57,491.36 L495.20,489.76 L495.84,488.17 L496.51,486.58 L497.20,485.01 L497.91,483.45 L498.64,481.91 L499.39,480.37 L500.16,478.85 L500.96,477.34 L501.77,475.84 L502.61,474.36 L503.47,472.90 L504.35,471.44 L505.25,470.01 L506.17,468.59 L507.12,467.18 L508.08,465.80 L509.07,464.43 L510.08,463.07 L511.11,461.73 L512.16,460.41 L513.23,459.11 L514.31,457.82 L515.42,456.54 L516.54,455.28 L517.68,454.03 L518.84,452.80 L520.02,451.58 L521.21,450.38 L522.42,449.18 L523.64,448.00 L524.88,446.84 L526.13,445.68 L527.40,444.54 L528.68,443.41 L529.97,442.29 L531.28,441.19 L532.60,440.09 L533.93,439.01 L535.27,437.93 L536.62,436.86 L537.98,435.81 L539.35,434.76 L540.73,433.73 L542.13,432.70 L543.52,431.68 L544.93,430.67 L546.35,429.66 L547.77,428.67 L549.20,427.68 L550.63,426.70 L552.07,425.73 L553.52,424.76 L554.97,423.80 L556.43,422.84 L557.89,421.89 L559.35,420.95 L560.82,420.01 L562.29,419.07 L563.76,418.15 L565.23,417.22 L566.70,416.30 L568.18,415.38 L569.66,414.46 L571.13,413.55 L572.61,412.64 L574.08,411.74 L575.56,410.84 L577.03,409.94 L578.51,409.04 L579.98,408.15 L581.46,407.26 L582.94,406.38 L584.41,405.50 L585.89,404.63 L587.37,403.76 L588.85,402.89 L590.34,402.04 L591.82,401.18 L593.31,400.33 L594.79,399.49 L596.28,398.65 L597.78,397.82 L599.27,397.00 L600.77,396.18 L602.27,395.37 L603.77,394.56 L605.27,393.76 L606.78,392.97 L608.29,392.19 L609.80,391.41 L611.32,390.64 L612.84,389.88 L614.37,389.13 L615.89,388.38 L617.43,387.64 L618.96,386.92 L620.50,386.20 L622.05,385.49 L623.60,384.78 L625.15,384.09 L626.71,383.41 L628.27,382.73 L629.84,382.07 L631.42,381.41 L632.99,380.77 L634.57,380.13 L636.16,379.50 L637.75,378.88 L639.34,378.27 L640.94,377.66 L642.54,377.06 L644.15,376.48 L645.75,375.90 L647.37,375.32 L648.98,374.76 L650.60,374.20 L652.22,373.65 L653.85,373.11 L655.47,372.57 L657.10,372.05 L658.74,371.52 L660.37,371.01 L662.01,370.50 L663.65,370.00 L665.29,369.51 L666.94,369.02 L668.59,368.53 L670.24,368.06 L671.89,367.59 L673.54,367.12 L675.19,366.66 L676.85,366.21 L678.51,365.76 L680.17,365.32 L681.83,364.88 L683.49,364.45 L685.15,364.02 L686.82,363.60 L688.49,363.19 L690.15,362.78 L691.82,362.37 L693.49,361.98 L695.17,361.58 L696.84,361.20 L698.51,360.82 L700.19,360.44 L701.87,360.07 L703.55,359.71 L705.23,359.35 L706.91,359.00 L708.59,358.65 L710.27,358.31 L711.96,357.97 L713.64,357.64 L715.33,357.32 L717.02,357.00 L718.71,356.68 L720.40,356.38 L722.09,356.08 L723.78,355.78 L725.47,355.49 L727.16,355.20 L728.86,354.93 L730.55,354.65 L732.25,354.39 L733.95,354.12 L735.65,353.87 L737.34,353.62 L739.04,353.37 L740.74,353.13 L742.45,352.90 L744.15,352.67 L745.85,352.45 L747.55,352.24 L749.26,352.03 L750.96,351.82 L752.67,351.63 L754.37,351.43 L756.08,351.25 L757.78,351.07 L759.49,350.89 L761.20,350.72 L762.91,350.56 L764.62,350.40 L766.32,350.25 L768.03,350.11 L769.74,349.97 L771.45,349.83 L773.16,349.70 L774.88,349.58 L776.59,349.47 L778.30,349.36 L780.01,349.25 L781.72,349.15 L783.43,349.06 L785.15,348.97 L786.86,348.89 L788.57,348.82 L790.28,348.75 L792.00,348.69 L793.71,348.63 L795.42,348.58 L797.13,348.53 L798.85,348.49 L800.56,348.46 L802.27,348.43 L803.99,348.41 L805.70,348.40" stroke="#00ffff" stroke-width="1.2"/>
<path d="M485.33,560.02 L485.40,558.31 L485.50,556.60 L485.61,554.89 L485.75,553.19 L485.91,551.48 L486.09,549.78 L486.29,548.08 L486.51,546.39 L486.75,544.70 L487.02,543.01 L487.30,541.32 L487.61,539.65 L487.94,537.97 L488.29,536.31 L488.66,534.64 L489.05,532.99 L489.47,531.34 L489.90,529.70 L490.35,528.06 L490.83,526.44 L491.33,524.82 L491.85,523.21 L492.39,521.61 L492.95,520.02 L493.53,518.43 L494.13,516.86 L494.75,515.30 L495.40,513.75 L496.06,512.21 L496.75,510.68 L497.46,509.17 L498.19,507.66 L498.93,506.17 L499.70,504.69 L500.49,503.23 L501.31,501.77 L502.14,500.34 L502.99,498.91 L503.86,497.51 L504.76,496.11 L505.67,494.73 L506.60,493.37 L507.55,492.01 L508.52,490.67 L509.51,489.35 L510.52,488.04 L511.54,486.74 L512.58,485.45 L513.64,484.18 L514.72,482.92 L515.81,481.67 L516.92,480.43 L518.04,479.21 L519.18,478.00 L520.33,476.79 L521.50,475.61 L522.68,474.43 L523.88,473.26 L525.09,472.11 L526.31,470.96 L527.54,469.83 L528.79,468.70 L530.05,467.59 L531.32,466.49 L532.60,465.39 L533.90,464.31 L535.20,463.24 L536.52,462.17 L537.84,461.12 L539.18,460.07 L540.52,459.04 L541.87,458.01 L543.23,456.99 L544.60,455.98 L545.98,454.98 L547.37,453.98 L548.76,453.00 L550.16,452.02 L551.56,451.05 L552.98,450.08 L554.39,449.13 L555.82,448.18 L557.24,447.24 L558.68,446.30 L560.11,445.37 L561.56,444.45 L563.00,443.54 L564.45,442.63 L565.90,441.72 L567.35,440.83 L568.81,439.93 L570.27,439.05 L571.73,438.16 L573.19,437.29 L574.65,436.42 L576.12,435.55 L577.59,434.69 L579.06,433.84 L580.53,432.99 L582.00,432.14 L583.47,431.30 L584.95,430.47 L586.43,429.64 L587.91,428.82 L589.39,428.00 L590.87,427.19 L592.35,426.38 L593.84,425.58 L595.33,424.79 L596.82,424.00 L598.31,423.22 L599.81,422.44 L601.31,421.66 L602.80,420.90 L604.30,420.14 L605.81,419.38 L607.31,418.63 L608.82,417.89 L610.33,417.15 L611.84,416.41 L613.35,415.69 L614.87,414.97 L616.38,414.25 L617.90,413.54 L619.42,412.84 L620.95,412.14 L622.47,411.44 L624.00,410.76 L625.53,410.08 L627.07,409.40 L628.60,408.73 L630.14,408.07 L631.68,407.41 L633.22,406.76 L634.76,406.12 L636.31,405.48 L637.86,404.84 L639.41,404.22 L640.96,403.59 L642.52,402.98 L644.08,402.37 L645.64,401.77 L647.20,401.17 L648.76,400.58 L650.33,399.99 L651.90,399.42 L653.48,398.84 L655.05,398.28 L656.63,397.72 L658.21,397.16 L659.79,396.61 L661.38,396.07 L662.97,395.54 L664.56,395.01 L666.15,394.49 L667.75,393.97 L669.35,393.46 L670.95,392.95 L672.55,392.46 L674.16,391.97 L675.77,391.48 L677.38,391.00 L678.99,390.53 L680.61,390.07 L682.23,389.61 L683.85,389.15 L685.48,388.71 L687.11,388.27 L688.74,387.83 L690.37,387.40 L692.00,386.98 L693.64,386.57 L695.28,386.16 L696.92,385.76 L698.56,385.36 L700.21,384.97 L701.85,384.59 L703.50,384.21 L705.15,383.84 L706.80,383.47 L708.46,383.11 L710.11,382.76 L711.77,382.42 L713.43,382.08 L715.09,381.74 L716.75,381.41 L718.41,381.09 L720.08,380.78 L721.75,380.47 L723.41,380.16 L725.08,379.87 L726.75,379.57 L728.42,379.29 L730.10,379.01 L731.77,378.74 L733.44,378.47 L735.12,378.21 L736.79,377.95 L738.47,377.71 L740.15,377.46 L741.83,377.23 L743.51,377.00 L745.19,376.77 L746.87,376.55 L748.55,376.34 L750.23,376.13 L751.91,375.93 L753.60,375.74 L755.28,375.55 L756.96,375.37 L758.65,375.19 L760.33,375.02 L762.01,374.85 L763.70,374.69 L765.38,374.54 L767.07,374.39 L768.75,374.25 L770.44,374.11 L772.12,373.98 L773.80,373.86 L775.49,373.74 L777.17,373.63 L778.85,373.52 L780.54,373.42 L782.22,373.33 L783.90,373.24 L785.58,373.16 L787.26,373.08 L788.94,373.01 L790.62,372.94 L792.30,372.88 L793.98,372.82 L795.65,372.78 L797.33,372.73 L799.01,372.70 L800.68,372.66 L802.35,372.64 L804.03,372.62 L805.70,372.60" stroke="#ff1a1a" stroke-width="1.3"/>
<path d="M485.58,563.61 L485.56,561.78 L485.58,559.96 L485.62,558.16 L485.70,556.37 L485.81,554.59 L485.95,552.83 L486.11,551.08 L486.31,549.34 L486.53,547.62 L486.79,545.91 L487.07,544.22 L487.37,542.54 L487.71,540.87 L488.07,539.21 L488.46,537.57 L488.87,535.94 L489.31,534.32 L489.78,532.71 L490.27,531.12 L490.78,529.54 L491.32,527.97 L491.89,526.42 L492.47,524.88 L493.08,523.35 L493.72,521.83 L494.37,520.32 L495.05,518.83 L495.75,517.35 L496.47,515.88 L497.22,514.42 L497.98,512.97 L498.76,511.54 L499.57,510.11 L500.39,508.70 L501.23,507.30 L502.09,505.91 L502.97,504.53 L503.87,503.17 L504.79,501.81 L505.72,500.47 L506.67,499.13 L507.64,497.81 L508.63,496.50 L509.63,495.20 L510.65,493.91 L511.68,492.63 L512.72,491.36 L513.79,490.10 L514.86,488.85 L515.95,487.62 L517.06,486.39 L518.17,485.17 L519.30,483.96 L520.45,482.77 L521.60,481.58 L522.77,480.40 L523.95,479.23 L525.14,478.08 L526.34,476.93 L527.55,475.79 L528.77,474.66 L530.00,473.54 L531.24,472.43 L532.49,471.33 L533.75,470.24 L535.02,469.16 L536.30,468.08 L537.58,467.02 L538.88,465.96 L540.18,464.91 L541.49,463.88 L542.81,462.85 L544.14,461.83 L545.47,460.81 L546.82,459.81 L548.17,458.81 L549.52,457.82 L550.89,456.84 L552.26,455.87 L553.64,454.91 L555.03,453.95 L556.42,453.00 L557.82,452.06 L559.22,451.13 L560.63,450.20 L562.05,449.29 L563.47,448.38 L564.90,447.47 L566.34,446.58 L567.78,445.69 L569.22,444.81 L570.67,443.93 L572.12,443.06 L573.58,442.20 L575.05,441.35 L576.52,440.50 L577.99,439.65 L579.47,438.82 L580.95,437.99 L582.43,437.17 L583.92,436.35 L585.41,435.54 L586.90,434.74 L588.40,433.94 L589.90,433.14 L591.41,432.36 L592.91,431.58 L594.42,430.80 L595.93,430.03 L597.45,429.27 L598.96,428.51 L600.48,427.75 L602.00,427.00 L603.52,426.26 L605.04,425.52 L606.56,424.79 L608.09,424.06 L609.62,423.34 L611.15,422.62 L612.68,421.91 L614.21,421.20 L615.75,420.50 L617.28,419.80 L618.82,419.11 L620.36,418.43 L621.90,417.75 L623.45,417.07 L624.99,416.40 L626.54,415.74 L628.09,415.08 L629.64,414.42 L631.19,413.78 L632.74,413.14 L634.30,412.50 L635.85,411.87 L637.41,411.24 L638.97,410.62 L640.53,410.01 L642.09,409.40 L643.66,408.79 L645.23,408.20 L646.79,407.60 L648.36,407.02 L649.93,406.44 L651.51,405.86 L653.08,405.29 L654.66,404.73 L656.23,404.17 L657.81,403.62 L659.39,403.07 L660.98,402.53 L662.56,401.99 L664.15,401.46 L665.73,400.94 L667.32,400.42 L668.91,399.91 L670.50,399.40 L672.10,398.90 L673.69,398.40 L675.29,397.92 L676.88,397.43 L678.48,396.95 L680.08,396.48 L681.69,396.02 L683.29,395.56 L684.89,395.10 L686.50,394.66 L688.11,394.22 L689.72,393.78 L691.33,393.35 L692.94,392.93 L694.55,392.51 L696.17,392.10 L697.79,391.69 L699.40,391.29 L701.02,390.90 L702.65,390.51 L704.27,390.13 L705.89,389.75 L707.52,389.39 L709.14,389.02 L710.77,388.67 L712.40,388.32 L714.03,387.97 L715.66,387.63 L717.30,387.30 L718.93,386.98 L720.57,386.66 L722.21,386.34 L723.85,386.04 L725.49,385.74 L727.13,385.44 L728.77,385.15 L730.42,384.87 L732.06,384.60 L733.71,384.33 L735.36,384.07 L737.01,383.81 L738.66,383.56 L740.31,383.32 L741.96,383.08 L743.62,382.85 L745.27,382.63 L746.93,382.41 L748.59,382.20 L750.25,382.00 L751.91,381.80 L753.57,381.61 L755.24,381.42 L756.90,381.24 L758.57,381.07 L760.24,380.91 L761.91,380.75 L763.58,380.60 L765.25,380.45 L766.92,380.32 L768.59,380.18 L770.27,380.06 L771.94,379.94 L773.62,379.83 L775.30,379.72 L776.98,379.63 L778.66,379.54 L780.34,379.45 L782.03,379.37 L783.71,379.30 L785.40,379.24 L787.08,379.18 L788.77,379.13 L790.46,379.09 L792.15,379.05 L793.84,379.02 L795.53,379.00 L797.23,378.98 L798.92,378.97 L800.62,378.97 L802.31,378.97 L804.01,378.99 L805.71,379.01" stroke="#000" stroke-width="1.2" stroke-dasharray="3.6,2.2"/>
<path d="M485.55,565.51 L485.61,563.70 L485.70,561.91 L485.82,560.13 L485.96,558.36 L486.13,556.60 L486.33,554.86 L486.56,553.14 L486.80,551.42 L487.08,549.72 L487.38,548.03 L487.70,546.36 L488.05,544.70 L488.43,543.05 L488.83,541.42 L489.25,539.79 L489.69,538.18 L490.16,536.59 L490.65,535.00 L491.17,533.43 L491.70,531.87 L492.26,530.32 L492.84,528.79 L493.44,527.27 L494.07,525.76 L494.71,524.26 L495.37,522.77 L496.06,521.30 L496.76,519.83 L497.49,518.38 L498.23,516.94 L499.00,515.52 L499.78,514.10 L500.58,512.70 L501.40,511.30 L502.24,509.92 L503.09,508.55 L503.97,507.19 L504.86,505.84 L505.76,504.50 L506.69,503.18 L507.63,501.86 L508.58,500.56 L509.56,499.26 L510.54,497.98 L511.55,496.71 L512.57,495.44 L513.60,494.19 L514.65,492.95 L515.71,491.72 L516.78,490.50 L517.87,489.29 L518.97,488.09 L520.09,486.89 L521.22,485.71 L522.36,484.54 L523.51,483.38 L524.68,482.23 L525.85,481.09 L527.04,479.95 L528.24,478.83 L529.45,477.72 L530.67,476.61 L531.90,475.52 L533.14,474.43 L534.39,473.35 L535.65,472.28 L536.92,471.22 L538.19,470.17 L539.48,469.13 L540.78,468.10 L542.09,467.07 L543.40,466.06 L544.72,465.05 L546.06,464.05 L547.40,463.06 L548.74,462.08 L550.10,461.10 L551.46,460.14 L552.84,459.18 L554.21,458.23 L555.60,457.29 L556.99,456.35 L558.39,455.43 L559.80,454.51 L561.21,453.60 L562.63,452.69 L564.06,451.80 L565.49,450.91 L566.92,450.03 L568.37,449.15 L569.82,448.28 L571.27,447.42 L572.73,446.57 L574.19,445.72 L575.66,444.89 L577.13,444.05 L578.61,443.23 L580.09,442.41 L581.58,441.60 L583.06,440.79 L584.56,439.99 L586.05,439.20 L587.55,438.41 L589.06,437.63 L590.56,436.85 L592.07,436.09 L593.58,435.32 L595.10,434.57 L596.61,433.82 L598.13,433.07 L599.65,432.33 L601.17,431.60 L602.70,430.87 L604.22,430.15 L605.75,429.43 L607.28,428.72 L608.81,428.02 L610.34,427.32 L611.88,426.62 L613.41,425.93 L614.95,425.25 L616.49,424.57 L618.03,423.90 L619.57,423.24 L621.12,422.58 L622.66,421.92 L624.21,421.27 L625.76,420.63 L627.31,419.99 L628.86,419.36 L630.42,418.73 L631.97,418.11 L633.53,417.49 L635.09,416.88 L636.65,416.28 L638.21,415.68 L639.77,415.09 L641.34,414.50 L642.90,413.92 L644.47,413.34 L646.04,412.77 L647.61,412.21 L649.18,411.65 L650.76,411.09 L652.33,410.55 L653.91,410.00 L655.48,409.47 L657.06,408.94 L658.64,408.41 L660.23,407.89 L661.81,407.38 L663.40,406.87 L664.98,406.36 L666.57,405.87 L668.16,405.37 L669.75,404.89 L671.34,404.41 L672.94,403.93 L674.53,403.46 L676.13,403.00 L677.72,402.54 L679.32,402.08 L680.92,401.64 L682.52,401.20 L684.13,400.76 L685.73,400.33 L687.33,399.90 L688.94,399.48 L690.55,399.07 L692.16,398.66 L693.77,398.26 L695.38,397.86 L696.99,397.47 L698.60,397.09 L700.22,396.71 L701.84,396.33 L703.45,395.96 L705.07,395.60 L706.69,395.24 L708.31,394.89 L709.93,394.54 L711.56,394.20 L713.18,393.87 L714.81,393.54 L716.43,393.21 L718.06,392.89 L719.69,392.58 L721.32,392.27 L722.95,391.97 L724.58,391.67 L726.22,391.38 L727.85,391.10 L729.49,390.82 L731.12,390.55 L732.76,390.28 L734.40,390.01 L736.04,389.76 L737.68,389.51 L739.32,389.26 L740.96,389.02 L742.60,388.78 L744.25,388.55 L745.89,388.33 L747.54,388.11 L749.19,387.90 L750.84,387.69 L752.48,387.49 L754.13,387.30 L755.79,387.11 L757.44,386.92 L759.09,386.74 L760.74,386.57 L762.40,386.40 L764.05,386.24 L765.71,386.08 L767.37,385.93 L769.02,385.78 L770.68,385.64 L772.34,385.51 L774.00,385.38 L775.66,385.26 L777.33,385.14 L778.99,385.03 L780.65,384.92 L782.32,384.82 L783.98,384.72 L785.65,384.63 L787.31,384.55 L788.98,384.47 L790.65,384.40 L792.32,384.33 L793.99,384.27 L795.66,384.21 L797.33,384.16 L799.00,384.12 L800.67,384.08 L802.35,384.04 L804.02,384.01 L805.69,383.99" stroke="#1c1c8a" stroke-width="1.2"/>
<path d="M485.55,565.51 L485.61,563.70 L485.70,561.91 L485.82,560.13 L485.96,558.36 L486.13,556.60 L486.33,554.86 L486.56,553.14 L486.80,551.42 L487.08,549.72 L487.38,548.03 L487.70,546.36 L488.05,544.70 L488.43,543.05 L488.83,541.42 L489.25,539.79 L489.69,538.18 L490.16,536.59 L490.65,535.00 L491.17,533.43 L491.70,531.87 L492.26,530.32 L492.84,528.79 L493.44,527.27 L494.07,525.76 L494.71,524.26 L495.37,522.77 L496.06,521.30 L496.76,519.83 L497.49,518.38 L498.23,516.94 L499.00,515.52 L499.78,514.10 L500.58,512.70 L501.40,511.30 L502.24,509.92 L503.09,508.55 L503.97,507.19 L504.86,505.84 L505.76,504.50 L506.69,503.18 L507.63,501.86 L508.58,500.56 L509.56,499.26 L510.54,497.98 L511.55,496.71 L512.57,495.44 L513.60,494.19 L514.65,492.95 L515.71,491.72 L516.78,490.50 L517.87,489.29 L518.97,488.09 L520.09,486.89 L521.22,485.71 L522.36,484.54 L523.51,483.38 L524.68,482.23 L525.85,481.09 L527.04,479.95 L528.24,478.83 L529.45,477.72 L530.67,476.61 L531.90,475.52 L533.14,474.43 L534.39,473.35 L535.65,472.28 L536.92,471.22 L538.19,470.17 L539.48,469.13 L540.78,468.10 L542.09,467.07 L543.40,466.06 L544.72,465.05 L546.06,464.05 L547.40,463.06 L548.74,462.08 L550.10,461.10 L551.46,460.14 L552.84,459.18 L554.21,458.23 L555.60,457.29 L556.99,456.35 L558.39,455.43 L559.80,454.51 L561.21,453.60 L562.63,452.69 L564.06,451.80 L565.49,450.91 L566.92,450.03 L568.37,449.15 L569.82,448.28 L571.27,447.42 L572.73,446.57 L574.19,445.72 L575.66,444.89 L577.13,444.05 L578.61,443.23 L580.09,442.41 L581.58,441.60 L583.06,440.79 L584.56,439.99 L586.05,439.20 L587.55,438.41 L589.06,437.63 L590.56,436.85 L592.07,436.09 L593.58,435.32 L595.10,434.57 L596.61,433.82 L598.13,433.07 L599.65,432.33 L601.17,431.60 L602.70,430.87 L604.22,430.15 L605.75,429.43 L607.28,428.72 L608.81,428.02 L610.34,427.32 L611.88,426.62 L613.41,425.93 L614.95,425.25 L616.49,424.57 L618.03,423.90 L619.57,423.24 L621.12,422.58 L622.66,421.92 L624.21,421.27 L625.76,420.63 L627.31,419.99 L628.86,419.36 L630.42,418.73 L631.97,418.11 L633.53,417.49 L635.09,416.88 L636.65,416.28 L638.21,415.68 L639.77,415.09 L641.34,414.50 L642.90,413.92 L644.47,413.34 L646.04,412.77 L647.61,412.21 L649.18,411.65 L650.76,411.09 L652.33,410.55 L653.91,410.00 L655.48,409.47 L657.06,408.94 L658.64,408.41 L660.23,407.89 L661.81,407.38 L663.40,406.87 L664.98,406.36 L666.57,405.87 L668.16,405.37 L669.75,404.89 L671.34,404.41 L672.94,403.93 L674.53,403.46 L676.13,403.00 L677.72,402.54 L679.32,402.08 L680.92,401.64 L682.52,401.20 L684.13,400.76 L685.73,400.33 L687.33,399.90 L688.94,399.48 L690.55,399.07 L692.16,398.66 L693.77,398.26 L695.38,397.86 L696.99,397.47 L698.60,397.09 L700.22,396.71 L701.84,396.33 L703.45,395.96 L705.07,395.60 L706.69,395.24 L708.31,394.89 L709.93,394.54 L711.56,394.20 L713.18,393.87 L714.81,393.54 L716.43,393.21 L718.06,392.89 L719.69,392.58 L721.32,392.27 L722.95,391.97 L724.58,391.67 L726.22,391.38 L727.85,391.10 L729.49,390.82 L731.12,390.55 L732.76,390.28 L734.40,390.01 L736.04,389.76 L737.68,389.51 L739.32,389.26 L740.96,389.02 L742.60,388.78 L744.25,388.55 L745.89,388.33 L747.54,388.11 L749.19,387.90 L750.84,387.69 L752.48,387.49 L754.13,387.30 L755.79,387.11 L757.44,386.92 L759.09,386.74 L760.74,386.57 L762.40,386.40 L764.05,386.24 L765.71,386.08 L767.37,385.93 L769.02,385.78 L770.68,385.64 L772.34,385.51 L774.00,385.38 L775.66,385.26 L777.33,385.14 L778.99,385.03 L780.65,384.92 L782.32,384.82 L783.98,384.72 L785.65,384.63 L787.31,384.55 L788.98,384.47 L790.65,384.40 L792.32,384.33 L793.99,384.27 L795.66,384.21 L797.33,384.16 L799.00,384.12 L800.67,384.08 L802.35,384.04 L804.02,384.01 L805.69,383.99" stroke="#ff00ff" stroke-width="1.1" stroke-dasharray="2.6,1.8"/>
</g>
<circle cx="485.2" cy="541.3" r="2.15" fill="#fff" stroke="#989838" stroke-width="0.7"/>
<circle cx="491.1" cy="494.6" r="2.15" fill="#fff" stroke="#989838" stroke-width="0.7"/>
<circle cx="505.6" cy="463.2" r="2.15" fill="#fff" stroke="#989838" stroke-width="0.7"/>
<circle cx="535.7" cy="432.2" r="2.15" fill="#fff" stroke="#989838" stroke-width="0.7"/>
<circle cx="593.9" cy="393.3" r="2.15" fill="#fff" stroke="#989838" stroke-width="0.7"/>
<circle cx="664.6" cy="363.6" r="2.15" fill="#fff" stroke="#989838" stroke-width="0.7"/>
<circle cx="735.4" cy="347.2" r="2.15" fill="#fff" stroke="#989838" stroke-width="0.7"/>
<circle cx="800.6" cy="341.9" r="2.15" fill="#fff" stroke="#989838" stroke-width="0.7"/>
<circle cx="485.6" cy="565.5" r="2.3" fill="#ff00ff"/>
<circle cx="491.5" cy="530.8" r="2.3" fill="#ff00ff"/>
<circle cx="503.3" cy="506" r="2.3" fill="#ff00ff"/>
<circle cx="529.5" cy="477.6" r="2.3" fill="#ff00ff"/>
<circle cx="587.3" cy="439" r="2.3" fill="#ff00ff"/>
<circle cx="651.5" cy="410.6" r="2.3" fill="#ff00ff"/>
<circle cx="715.7" cy="393" r="2.3" fill="#ff00ff"/>
<circle cx="774.5" cy="385.3" r="2.3" fill="#ff00ff"/>
<rect x="483.55" y="561.55" width="4.1" height="4.1" fill="#000"/>
<rect x="491.15" y="519.85" width="4.1" height="4.1" fill="#000"/>
<rect x="511.85" y="486.35" width="4.1" height="4.1" fill="#000"/>
<rect x="566.25" y="443.75" width="4.1" height="4.1" fill="#000"/>
<rect x="649.45" y="403.35" width="4.1" height="4.1" fill="#000"/>
<rect x="727.05" y="382.85" width="4.1" height="4.1" fill="#000"/>
<rect x="798.55" y="376.95" width="4.1" height="4.1" fill="#000"/>
<path d="M482.3,324.75 V588.3 H806.55" fill="none" stroke="#000" stroke-width="1.8"/>
<path d="M476.7,325.5 H482.3 M479.1,347.40 H482.3 M476.7,369.3 H482.3 M479.1,391.20 H482.3 M476.7,413.1 H482.3 M479.1,435.00 H482.3 M476.7,456.9 H482.3 M479.1,478.80 H482.3 M476.7,500.7 H482.3 M479.1,522.60 H482.3 M476.7,544.5 H482.3 M479.1,566.40 H482.3 M476.7,588.3 H482.3 M482.30,588.3 V593.9 M522.74,588.3 V591.5 M563.17,588.3 V593.9 M603.61,588.3 V591.5 M644.05,588.3 V593.9 M684.49,588.3 V591.5 M724.92,588.3 V593.9 M765.36,588.3 V591.5 M805.80,588.3 V593.9" stroke="#000" stroke-width="1.5" fill="none"/>
<text fill="#111" stroke="#111" stroke-width="0.22" x="470.70" y="329.50" text-anchor="end" font-family="'Liberation Sans', Arial, sans-serif" font-size="11" textLength="31.6" lengthAdjust="spacingAndGlyphs">7.0x10</text>
<text fill="#111" stroke="#111" stroke-width="0.22" x="471.30" y="324.50" font-family="'Liberation Sans', Arial, sans-serif" font-size="6.2">5</text>
<text fill="#111" stroke="#111" stroke-width="0.22" x="470.70" y="373.30" text-anchor="end" font-family="'Liberation Sans', Arial, sans-serif" font-size="11" textLength="31.6" lengthAdjust="spacingAndGlyphs">6.0x10</text>
<text fill="#111" stroke="#111" stroke-width="0.22" x="471.30" y="368.30" font-family="'Liberation Sans', Arial, sans-serif" font-size="6.2">5</text>
<text fill="#111" stroke="#111" stroke-width="0.22" x="470.70" y="417.10" text-anchor="end" font-family="'Liberation Sans', Arial, sans-serif" font-size="11" textLength="31.6" lengthAdjust="spacingAndGlyphs">5.0x10</text>
<text fill="#111" stroke="#111" stroke-width="0.22" x="471.30" y="412.10" font-family="'Liberation Sans', Arial, sans-serif" font-size="6.2">5</text>
<text fill="#111" stroke="#111" stroke-width="0.22" x="470.70" y="460.90" text-anchor="end" font-family="'Liberation Sans', Arial, sans-serif" font-size="11" textLength="31.6" lengthAdjust="spacingAndGlyphs">4.0x10</text>
<text fill="#111" stroke="#111" stroke-width="0.22" x="471.30" y="455.90" font-family="'Liberation Sans', Arial, sans-serif" font-size="6.2">5</text>
<text fill="#111" stroke="#111" stroke-width="0.22" x="470.70" y="504.70" text-anchor="end" font-family="'Liberation Sans', Arial, sans-serif" font-size="11" textLength="31.6" lengthAdjust="spacingAndGlyphs">3.0x10</text>
<text fill="#111" stroke="#111" stroke-width="0.22" x="471.30" y="499.70" font-family="'Liberation Sans', Arial, sans-serif" font-size="6.2">5</text>
<text fill="#111" stroke="#111" stroke-width="0.22" x="470.70" y="548.50" text-anchor="end" font-family="'Liberation Sans', Arial, sans-serif" font-size="11" textLength="31.6" lengthAdjust="spacingAndGlyphs">2.0x10</text>
<text fill="#111" stroke="#111" stroke-width="0.22" x="471.30" y="543.50" font-family="'Liberation Sans', Arial, sans-serif" font-size="6.2">5</text>
<text fill="#111" stroke="#111" stroke-width="0.22" x="470.70" y="592.30" text-anchor="end" font-family="'Liberation Sans', Arial, sans-serif" font-size="11" textLength="31.6" lengthAdjust="spacingAndGlyphs">1.0x10</text>
<text fill="#111" stroke="#111" stroke-width="0.22" x="471.30" y="587.30" font-family="'Liberation Sans', Arial, sans-serif" font-size="6.2">5</text>
<text fill="#111" stroke="#111" stroke-width="0.22" x="482.30" y="605.20" text-anchor="middle" font-family="'Liberation Sans', Arial, sans-serif" font-size="11">20</text>
<text fill="#111" stroke="#111" stroke-width="0.22" x="563.17" y="605.20" text-anchor="middle" font-family="'Liberation Sans', Arial, sans-serif" font-size="11">25</text>
<text fill="#111" stroke="#111" stroke-width="0.22" x="644.05" y="605.20" text-anchor="middle" font-family="'Liberation Sans', Arial, sans-serif" font-size="11">30</text>
<text fill="#111" stroke="#111" stroke-width="0.22" x="724.92" y="605.20" text-anchor="middle" font-family="'Liberation Sans', Arial, sans-serif" font-size="11">35</text>
<text fill="#111" stroke="#111" stroke-width="0.22" x="805.80" y="605.20" text-anchor="middle" font-family="'Liberation Sans', Arial, sans-serif" font-size="11">40</text>
<text fill="#1a1a4a" stroke="#1a1a4a" stroke-width="0.12" transform="translate(428.6,452.15) rotate(-90)" text-anchor="middle" font-family="'Liberation Serif', 'Times New Roman', serif" font-size="15.75">Gas pressure (Pa)</text>
<text fill="#111" stroke="#111" stroke-width="0.12" x="645.2" y="624.0" text-anchor="middle" font-family="'Liberation Serif', 'Times New Roman', serif" font-size="16" textLength="97.4" lengthAdjust="spacingAndGlyphs">x cordinate (m)</text>
<text fill="#111" stroke="#111" stroke-width="0.32" x="497.5" y="334.2" font-family="'Liberation Serif', 'Times New Roman', serif" font-size="12">d</text>
<text fill="#111" stroke="#111" stroke-width="0.32" x="512.4" y="334.2" font-family="'Liberation Serif', 'Times New Roman', serif" font-size="12" textLength="34.4" lengthAdjust="spacingAndGlyphs">t=500 d</text>
<line x1="553.9" y1="487.2" x2="584.1" y2="487.2" stroke="#4a48b6" stroke-width="1.7"/>
<text y="488.90" font-family="'Liberation Serif', 'Times New Roman', serif" font-size="11.8" fill="#1e1e58" stroke="#1e1e58" stroke-width="0.2"><tspan x="591.56" font-style="italic" fill="#2a2a90" stroke="#2a2a90">p</tspan><tspan x="604.30">,</tspan><tspan x="608.05" font-style="italic">τ</tspan><tspan x="615.64">=</tspan><tspan x="624.67">0.5</tspan><tspan x="638.96" font-style="italic">d</tspan><tspan x="645.57">,</tspan><tspan x="649.30" font-style="italic">b</tspan><tspan x="657.53">≠</tspan><tspan x="666.77">0</tspan><tspan x="672.27">,</tspan><tspan x="676.08" font-style="italic">k</tspan><tspan x="684.53">≠</tspan><tspan x="693.95" font-style="italic">c</tspan><tspan x="701.36">(</tspan></text><text x="596.70" y="491.60" font-family="'Liberation Serif', 'Times New Roman', serif" font-size="8.2" font-style="italic" fill="#1e1e58" stroke="#1e1e58" stroke-width="0.2">m</text><text x="706.36" y="488.90" font-family="'Liberation Serif', 'Times New Roman', serif" font-size="11.8" font-style="italic" fill="#1e1e58" stroke="#1e1e58" stroke-width="0.2" textLength="64.40" lengthAdjust="spacingAndGlyphs">Fully coupled</text><text x="770.96" y="488.90" font-family="'Liberation Serif', 'Times New Roman', serif" font-size="11.8" fill="#1e1e58" stroke="#1e1e58" stroke-width="0.2">)</text>
<line x1="553.9" y1="502.9" x2="584.1" y2="502.9" stroke="#ff00ff" stroke-width="1.1" stroke-dasharray="1.6,1.6"/>
<circle cx="569.0" cy="502.9" r="2.6" fill="#ff00ff"/>
<text y="504.90" font-family="'Liberation Serif', 'Times New Roman', serif" font-size="11.8" fill="#1e1e58" stroke="#1e1e58" stroke-width="0.2"><tspan x="591.56" font-style="italic" fill="#2a2a90" stroke="#2a2a90">p</tspan><tspan x="604.30">,</tspan><tspan x="608.05" font-style="italic">τ</tspan><tspan x="615.64">=</tspan><tspan x="624.67">0.5</tspan><tspan x="638.96" font-style="italic">d</tspan><tspan x="645.57">,</tspan><tspan x="649.30" font-style="italic">b</tspan><tspan x="657.53">≠</tspan><tspan x="666.77">0</tspan><tspan x="672.27">,</tspan><tspan x="676.08" font-style="italic">k</tspan><tspan x="684.53">≠</tspan><tspan x="693.95" font-style="italic">c</tspan><tspan x="701.36">(</tspan></text><text x="596.70" y="507.60" font-family="'Liberation Serif', 'Times New Roman', serif" font-size="8.2" font-style="italic" fill="#1e1e58" stroke="#1e1e58" stroke-width="0.2">f</text><text x="706.36" y="504.90" font-family="'Liberation Serif', 'Times New Roman', serif" font-size="11.8" font-style="italic" fill="#1e1e58" stroke="#1e1e58" stroke-width="0.2" textLength="64.40" lengthAdjust="spacingAndGlyphs">Fully coupled</text><text x="770.96" y="504.90" font-family="'Liberation Serif', 'Times New Roman', serif" font-size="11.8" fill="#1e1e58" stroke="#1e1e58" stroke-width="0.2">)</text>
<line x1="553.9" y1="519.1" x2="584.1" y2="519.1" stroke="#ff2050" stroke-width="1.2"/>
<text y="521.10" font-family="'Liberation Serif', 'Times New Roman', serif" font-size="11.8" fill="#1e1e58" stroke="#1e1e58" stroke-width="0.2"><tspan x="591.56" font-style="italic" fill="#2a2a90" stroke="#2a2a90">p</tspan><tspan x="604.30">,</tspan><tspan x="608.05" font-style="italic">τ</tspan><tspan x="615.64">=</tspan><tspan x="624.67">20</tspan><tspan x="636.16" font-style="italic">d</tspan><tspan x="642.77">,</tspan><tspan x="646.50" font-style="italic">b</tspan><tspan x="654.73">≠</tspan><tspan x="663.97">0</tspan><tspan x="669.47">,</tspan><tspan x="673.28" font-style="italic">k</tspan><tspan x="681.73">≠</tspan><tspan x="691.15" font-style="italic">c</tspan><tspan x="698.56">(</tspan></text><text x="596.70" y="523.80" font-family="'Liberation Serif', 'Times New Roman', serif" font-size="8.2" font-style="italic" fill="#1e1e58" stroke="#1e1e58" stroke-width="0.2">m</text><text x="703.56" y="521.10" font-family="'Liberation Serif', 'Times New Roman', serif" font-size="11.8" font-style="italic" fill="#1e1e58" stroke="#1e1e58" stroke-width="0.2" textLength="64.40" lengthAdjust="spacingAndGlyphs">Fully coupled</text><text x="768.16" y="521.10" font-family="'Liberation Serif', 'Times New Roman', serif" font-size="11.8" fill="#1e1e58" stroke="#1e1e58" stroke-width="0.2">)</text>
<line x1="553.9" y1="535.5" x2="584.1" y2="535.5" stroke="#000" stroke-width="1.1" stroke-dasharray="1.6,1.6"/>
<rect x="566.7" y="533.2" width="4.6" height="4.6" fill="#000"/>
<text y="537.50" font-family="'Liberation Serif', 'Times New Roman', serif" font-size="11.8" fill="#1e1e58" stroke="#1e1e58" stroke-width="0.2"><tspan x="591.56" font-style="italic" fill="#2a2a90" stroke="#2a2a90">p</tspan><tspan x="604.30">,</tspan><tspan x="608.05" font-style="italic">τ</tspan><tspan x="615.64">=</tspan><tspan x="624.67">20</tspan><tspan x="636.16" font-style="italic">d</tspan><tspan x="642.77">,</tspan><tspan x="646.50" font-style="italic">b</tspan><tspan x="654.73">≠</tspan><tspan x="663.97">0</tspan><tspan x="669.47">,</tspan><tspan x="673.28" font-style="italic">k</tspan><tspan x="681.73">≠</tspan><tspan x="691.15" font-style="italic">c</tspan><tspan x="698.56">(</tspan></text><text x="596.70" y="540.20" font-family="'Liberation Serif', 'Times New Roman', serif" font-size="8.2" font-style="italic" fill="#1e1e58" stroke="#1e1e58" stroke-width="0.2">f</text><text x="703.56" y="537.50" font-family="'Liberation Serif', 'Times New Roman', serif" font-size="11.8" font-style="italic" fill="#1e1e58" stroke="#1e1e58" stroke-width="0.2" textLength="64.40" lengthAdjust="spacingAndGlyphs">Fully coupled</text><text x="768.16" y="537.50" font-family="'Liberation Serif', 'Times New Roman', serif" font-size="11.8" fill="#1e1e58" stroke="#1e1e58" stroke-width="0.2">)</text>
<line x1="553.9" y1="551.8" x2="584.1" y2="551.8" stroke="#00ffff" stroke-width="1.2"/>
<text y="553.80" font-family="'Liberation Serif', 'Times New Roman', serif" font-size="11.8" fill="#1e1e58" stroke="#1e1e58" stroke-width="0.2"><tspan x="591.56" font-style="italic" fill="#2a2a90" stroke="#2a2a90">p</tspan><tspan x="604.30">,</tspan><tspan x="608.05" font-style="italic">τ</tspan><tspan x="615.64">=</tspan><tspan x="624.67">0.5</tspan><tspan x="638.96" font-style="italic">d</tspan><tspan x="645.57">,</tspan><tspan x="649.30" font-style="italic">b</tspan><tspan x="657.53">=</tspan><tspan x="666.77">0</tspan><tspan x="672.27">,</tspan><tspan x="676.08" font-style="italic">k</tspan><tspan x="684.53">≠</tspan><tspan x="693.95" font-style="italic">c</tspan><tspan x="701.36">(</tspan></text><text x="596.70" y="556.50" font-family="'Liberation Serif', 'Times New Roman', serif" font-size="8.2" font-style="italic" fill="#1e1e58" stroke="#1e1e58" stroke-width="0.2">m</text><text x="706.36" y="553.80" font-family="'Liberation Serif', 'Times New Roman', serif" font-size="11.8" font-style="italic" fill="#1e1e58" stroke="#1e1e58" stroke-width="0.2" textLength="78.20" lengthAdjust="spacingAndGlyphs">Without K effects</text><text x="785.46" y="553.80" font-family="'Liberation Serif', 'Times New Roman', serif" font-size="11.8" fill="#1e1e58" stroke="#1e1e58" stroke-width="0.2">)</text>
<line x1="553.9" y1="567.8" x2="584.1" y2="567.8" stroke="#808000" stroke-width="1.0" stroke-dasharray="1.6,1.6"/>
<circle cx="569.0" cy="567.8" r="2.6" fill="#fff" stroke="#808000" stroke-width="0.8"/>
<text y="569.80" font-family="'Liberation Serif', 'Times New Roman', serif" font-size="11.8" fill="#1e1e58" stroke="#1e1e58" stroke-width="0.2"><tspan x="591.56" font-style="italic" fill="#2a2a90" stroke="#2a2a90">p</tspan><tspan x="604.30">,</tspan><tspan x="608.05" font-style="italic">τ</tspan><tspan x="615.64">=</tspan><tspan x="624.67">0.5</tspan><tspan x="638.96" font-style="italic">d</tspan><tspan x="645.57">,</tspan><tspan x="649.30" font-style="italic">b</tspan><tspan x="657.53">=</tspan><tspan x="666.77">0</tspan><tspan x="672.27">,</tspan><tspan x="676.08" font-style="italic">k</tspan><tspan x="684.53">=</tspan><tspan x="693.95" font-style="italic">c</tspan><tspan x="701.36">(</tspan></text><text x="596.70" y="572.50" font-family="'Liberation Serif', 'Times New Roman', serif" font-size="8.2" font-style="italic" fill="#1e1e58" stroke="#1e1e58" stroke-width="0.2">m</text><text x="706.36" y="569.80" font-family="'Liberation Serif', 'Times New Roman', serif" font-size="11.8" font-style="italic" fill="#1e1e58" stroke="#1e1e58" stroke-width="0.2" textLength="88.30" lengthAdjust="spacingAndGlyphs">Only gas migration</text><text x="795.56" y="569.80" font-family="'Liberation Serif', 'Times New Roman', serif" font-size="11.8" fill="#1e1e58" stroke="#1e1e58" stroke-width="0.2">)</text>
</svg>
</body></html>
